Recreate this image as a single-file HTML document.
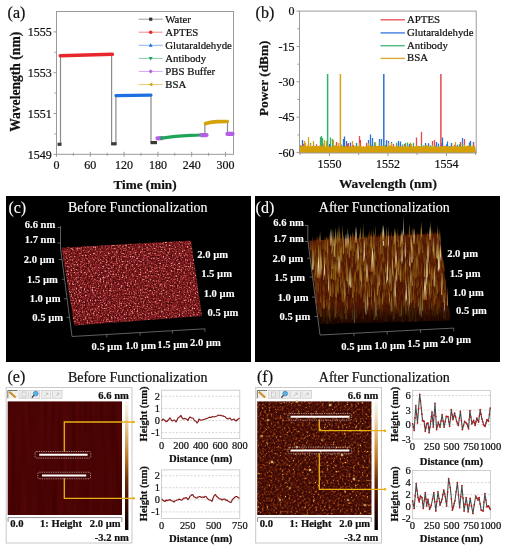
<!DOCTYPE html>
<html><head><meta charset="utf-8"><title>Figure</title>
<style>html,body{margin:0;padding:0;background:#fff;width:505px;height:550px;overflow:hidden}
svg text{font-family:'Liberation Serif',serif;stroke:#111;stroke-width:0.22px} svg text[fill="#fff"]{stroke:#fff;stroke-width:0.1px}</style></head>
<body><svg width="505" height="550" viewBox="0 0 505 550" style="display:block;font-family:'Liberation Serif',serif" fill="#111"><defs>
<linearGradient id="spk" x1="0" y1="0" x2="0" y2="1"><stop offset="0" stop-color="#f4f0e4"/><stop offset="0.45" stop-color="#dcc890"/><stop offset="1" stop-color="#8a4a10"/></linearGradient>
<linearGradient id="dbase" x1="0" y1="0" x2="0" y2="1"><stop offset="0" stop-color="#5a1e06"/><stop offset="0.8" stop-color="#4a1604"/><stop offset="1" stop-color="#1a0500"/></linearGradient>
<linearGradient id="cbar" x1="0" y1="0" x2="0" y2="1">
<stop offset="0" stop-color="#fbf8f0"/><stop offset="0.1" stop-color="#f2e6d0"/><stop offset="0.3" stop-color="#d8a860"/><stop offset="0.45" stop-color="#b87020"/>
<stop offset="0.62" stop-color="#6a2a08"/><stop offset="0.8" stop-color="#3a0a04"/><stop offset="1" stop-color="#000"/></linearGradient>
<filter id="fc" x="0" y="0" width="1" height="1" color-interpolation-filters="sRGB">
<feTurbulence type="fractalNoise" baseFrequency="0.62" numOctaves="3" seed="3" result="n0"/>
<feGaussianBlur in="n0" stdDeviation="0.3" result="n"/>
<feColorMatrix in="n" type="matrix" values="1.6 0 0 0 -0.3  1.6 0 0 0 -0.3  1.6 0 0 0 -0.3  0 0 0 0 1" result="g"/>
<feComponentTransfer in="g" result="c">
<feFuncR type="table" tableValues="0.2 0.31 0.43 0.55 0.72 0.9"/>
<feFuncG type="table" tableValues="0.03 0.05 0.08 0.14 0.32 0.6"/>
<feFuncB type="table" tableValues="0.04 0.06 0.09 0.15 0.33 0.6"/>
<feFuncA type="linear" slope="0" intercept="1"/>
</feComponentTransfer>
<feComposite in="c" in2="SourceGraphic" operator="in"/>
</filter>
<filter id="fd" x="0" y="0" width="1" height="1" color-interpolation-filters="sRGB">
<feTurbulence type="fractalNoise" baseFrequency="0.45 0.05" numOctaves="2" seed="5" result="n"/>
<feColorMatrix in="n" type="matrix" values="2.2 0 0 0 -0.6  2.2 0 0 0 -0.6  2.2 0 0 0 -0.6  0 0 0 0 1" result="g"/>
<feComponentTransfer in="g" result="c">
<feFuncR type="table" tableValues="0.22 0.30 0.40 0.50 0.66 0.9"/>
<feFuncG type="table" tableValues="0.05 0.09 0.16 0.26 0.45 0.8"/>
<feFuncB type="table" tableValues="0.01 0.02 0.03 0.05 0.15 0.5"/>
<feFuncA type="linear" slope="0" intercept="1"/>
</feComponentTransfer>
<feComposite in="c" in2="SourceGraphic" operator="in"/>
</filter>
<filter id="fe" x="0" y="0" width="1" height="1" color-interpolation-filters="sRGB">
<feTurbulence type="fractalNoise" baseFrequency="0.25 0.015" numOctaves="1" seed="2" result="n"/>
<feColorMatrix in="n" type="matrix" values="1 0 0 0 0  1 0 0 0 0  1 0 0 0 0  0 0 0 0 1" result="g"/>
<feComponentTransfer in="g" result="c">
<feFuncR type="table" tableValues="0.23 0.29 0.35"/>
<feFuncG type="table" tableValues="0.0 0.015 0.035"/>
<feFuncB type="table" tableValues="0.0 0.015 0.035"/>
<feFuncA type="linear" slope="0" intercept="1"/>
</feComponentTransfer>
<feComposite in="c" in2="SourceGraphic" operator="in"/>
</filter>
<filter id="ff" x="0" y="0" width="1" height="1" color-interpolation-filters="sRGB">
<feTurbulence type="fractalNoise" baseFrequency="0.45" numOctaves="2" seed="9" result="n"/>
<feColorMatrix in="n" type="matrix" values="1.4 0 0 0 -0.2  1.4 0 0 0 -0.2  1.4 0 0 0 -0.2  0 0 0 0 1" result="g"/>
<feComponentTransfer in="g" result="c">
<feFuncR type="table" tableValues="0.14 0.19 0.24 0.29 0.39 0.62 0.95"/>
<feFuncG type="table" tableValues="0.02 0.03 0.04 0.06 0.12 0.3 0.8"/>
<feFuncB type="table" tableValues="0.0 0.01 0.02 0.03 0.04 0.08 0.4"/>
<feFuncA type="linear" slope="0" intercept="1"/>
</feComponentTransfer>
<feComposite in="c" in2="SourceGraphic" operator="in"/>
</filter>
</defs><text x="7.6" y="18" font-size="16">(a)</text>
<rect x="56.5" y="11.5" width="177.0" height="142.8" fill="none" stroke="#9a9a9a" stroke-width="1"/>
<line x1="53.5" y1="154.3" x2="56.5" y2="154.3" stroke="#9a9a9a"/>
<text x="51.8" y="158.5" font-size="12" text-anchor="end">1549</text>
<line x1="53.5" y1="113.5" x2="56.5" y2="113.5" stroke="#9a9a9a"/>
<text x="51.8" y="117.7" font-size="12" text-anchor="end">1551</text>
<line x1="53.5" y1="72.7" x2="56.5" y2="72.7" stroke="#9a9a9a"/>
<text x="51.8" y="76.9" font-size="12" text-anchor="end">1553</text>
<line x1="53.5" y1="31.9" x2="56.5" y2="31.9" stroke="#9a9a9a"/>
<text x="51.8" y="36.1" font-size="12" text-anchor="end">1555</text>
<line x1="54.5" y1="133.9" x2="56.5" y2="133.9" stroke="#9a9a9a"/>
<line x1="54.5" y1="93.1" x2="56.5" y2="93.1" stroke="#9a9a9a"/>
<line x1="54.5" y1="52.3" x2="56.5" y2="52.3" stroke="#9a9a9a"/>
<line x1="56.5" y1="151.8" x2="56.5" y2="156.8" stroke="#9a9a9a"/>
<text x="56.5" y="168.6" font-size="12" text-anchor="middle">0</text>
<line x1="90.3" y1="151.8" x2="90.3" y2="156.8" stroke="#9a9a9a"/>
<text x="90.3" y="168.6" font-size="12" text-anchor="middle">60</text>
<line x1="124.1" y1="151.8" x2="124.1" y2="156.8" stroke="#9a9a9a"/>
<text x="124.1" y="168.6" font-size="12" text-anchor="middle">120</text>
<line x1="157.9" y1="151.8" x2="157.9" y2="156.8" stroke="#9a9a9a"/>
<text x="157.9" y="168.6" font-size="12" text-anchor="middle">180</text>
<line x1="191.7" y1="151.8" x2="191.7" y2="156.8" stroke="#9a9a9a"/>
<text x="191.7" y="168.6" font-size="12" text-anchor="middle">240</text>
<line x1="225.5" y1="151.8" x2="225.5" y2="156.8" stroke="#9a9a9a"/>
<text x="225.5" y="168.6" font-size="12" text-anchor="middle">300</text>
<line x1="73.4" y1="152.8" x2="73.4" y2="155.8" stroke="#9a9a9a"/>
<line x1="107.2" y1="152.8" x2="107.2" y2="155.8" stroke="#9a9a9a"/>
<line x1="141.0" y1="152.8" x2="141.0" y2="155.8" stroke="#9a9a9a"/>
<line x1="174.8" y1="152.8" x2="174.8" y2="155.8" stroke="#9a9a9a"/>
<line x1="208.6" y1="152.8" x2="208.6" y2="155.8" stroke="#9a9a9a"/>
<text x="145" y="188.6" font-size="13.2" font-weight="bold" text-anchor="middle">Time (min)</text>
<text transform="translate(19.6,81.8) rotate(-90)" font-size="13.6" font-weight="bold" text-anchor="middle">Wavelength (nm)</text>
<line x1="60.5" y1="55.6" x2="60.5" y2="144.3" stroke="#8a8a8a" stroke-width="1.2"/>
<line x1="111.6" y1="54.6" x2="111.6" y2="143.8" stroke="#8a8a8a" stroke-width="1.2"/>
<line x1="115.9" y1="95.5" x2="115.9" y2="143.8" stroke="#8a8a8a" stroke-width="1.2"/>
<line x1="151.0" y1="95.2" x2="151.0" y2="142.6" stroke="#8a8a8a" stroke-width="1.2"/>
<line x1="204.9" y1="135.2" x2="204.9" y2="123.0" stroke="#8a8a8a" stroke-width="1.2"/>
<line x1="227.5" y1="121.5" x2="227.5" y2="133.9" stroke="#8a8a8a" stroke-width="1.2"/>
<rect x="57.6" y="142.70000000000002" width="3.8999999999999986" height="3.2" fill="#3a3a3a"/>
<rect x="111.1" y="142.20000000000002" width="5.5" height="3.2" fill="#3a3a3a"/>
<rect x="150.5" y="141.0" width="6.5" height="3.2" fill="#3a3a3a"/>
<path d="M60.2 55.8 L112.4 54.3" stroke="#e8262b" stroke-width="3.4" stroke-linecap="round"/>
<path d="M115.9 95.6 L151 95.1" stroke="#1b6fe0" stroke-width="3.2" stroke-linecap="round"/>
<path d="M157.5 138.3 L161.5 138.2" stroke="#b45ee6" stroke-width="4.3" stroke-linecap="round"/>
<path d="M161.5 138.2 Q175 136 190 135.4 T202 135" fill="none" stroke="#1fa55a" stroke-width="3.2" stroke-linecap="round"/>
<path d="M201.5 135.1 L206.5 135.1" stroke="#b45ee6" stroke-width="4.3" stroke-linecap="round"/>
<path d="M205.5 123.6 Q212 121.8 218 121.6 L227.3 121.5" fill="none" stroke="#d6a20c" stroke-width="3.6" stroke-linecap="round"/>
<path d="M227.5 133.9 L232.5 133.9" stroke="#b45ee6" stroke-width="4.3" stroke-linecap="round"/>
<line x1="138.7" y1="19.2" x2="162.7" y2="19.2" stroke="#9a9a9a" stroke-width="1"/>
<rect x="149.1" y="17.599999999999998" width="3.2" height="3.2" fill="#333"/>
<text x="165.3" y="22.9" font-size="10.8">Water</text>
<line x1="138.7" y1="32.2" x2="162.7" y2="32.2" stroke="#f08a8a" stroke-width="1"/>
<circle cx="150.7" cy="32.2" r="1.8" fill="#e8262b"/>
<text x="165.3" y="35.9" font-size="10.8">APTES</text>
<line x1="138.7" y1="45.3" x2="162.7" y2="45.3" stroke="#8ab4f0" stroke-width="1"/>
<path d="M148.7 46.8 L152.7 46.8 L150.7 43.3 Z" fill="#1b6fe0"/>
<text x="165.3" y="49.0" font-size="10.8">Glutaraldehyde</text>
<line x1="138.7" y1="58.4" x2="162.7" y2="58.4" stroke="#88d0a8" stroke-width="1"/>
<path d="M148.7 56.9 L152.7 56.9 L150.7 60.4 Z" fill="#1fa55a"/>
<text x="165.3" y="62.1" font-size="10.8">Antibody</text>
<line x1="138.7" y1="71.4" x2="162.7" y2="71.4" stroke="#d4a8f0" stroke-width="1"/>
<path d="M150.7 69.2 L152.7 71.4 L150.7 73.60000000000001 L148.7 71.4 Z" fill="#b45ee6"/>
<text x="165.3" y="75.1" font-size="10.8">PBS Buffer</text>
<line x1="138.7" y1="84.6" x2="162.7" y2="84.6" stroke="#ecc870" stroke-width="1"/>
<path d="M148.7 84.6 L152.29999999999998 82.6 L152.29999999999998 86.6 Z" fill="#d6a20c"/>
<text x="165.3" y="88.3" font-size="10.8">BSA</text>
<text x="255.6" y="18" font-size="16">(b)</text>
<line x1="302.5" y1="153.0" x2="302.5" y2="140.0" stroke="#2b6fd6" stroke-width="1.3"/>
<line x1="304.5" y1="153.0" x2="304.5" y2="141.0" stroke="#d8a21a" stroke-width="1.3"/>
<line x1="308.5" y1="153.0" x2="308.5" y2="137.0" stroke="#d8a21a" stroke-width="1.3"/>
<line x1="310.5" y1="153.0" x2="310.5" y2="143.0" stroke="#35b06a" stroke-width="1.3"/>
<line x1="313.5" y1="153.0" x2="313.5" y2="141.0" stroke="#d8a21a" stroke-width="1.3"/>
<line x1="320.5" y1="153.0" x2="320.5" y2="137.0" stroke="#35b06a" stroke-width="1.3"/>
<line x1="321.5" y1="153.0" x2="321.5" y2="136.0" stroke="#35b06a" stroke-width="1.3"/>
<line x1="322.5" y1="153.0" x2="322.5" y2="138.0" stroke="#35b06a" stroke-width="1.3"/>
<line x1="324.5" y1="153.0" x2="324.5" y2="140.0" stroke="#d8a21a" stroke-width="1.3"/>
<line x1="326.5" y1="153.0" x2="326.5" y2="141.0" stroke="#d8a21a" stroke-width="1.3"/>
<line x1="330.5" y1="153.0" x2="330.5" y2="137.5" stroke="#35b06a" stroke-width="1.3"/>
<line x1="332.5" y1="153.0" x2="332.5" y2="139.0" stroke="#35b06a" stroke-width="1.3"/>
<line x1="333.5" y1="153.0" x2="333.5" y2="140.0" stroke="#d8a21a" stroke-width="1.3"/>
<line x1="336.5" y1="153.0" x2="336.5" y2="142.0" stroke="#e6484c" stroke-width="1.3"/>
<line x1="338.5" y1="153.0" x2="338.5" y2="143.0" stroke="#e6484c" stroke-width="1.3"/>
<line x1="343.5" y1="153.0" x2="343.5" y2="139.0" stroke="#2b6fd6" stroke-width="1.3"/>
<line x1="344.5" y1="153.0" x2="344.5" y2="136.5" stroke="#2b6fd6" stroke-width="1.3"/>
<line x1="346.5" y1="153.0" x2="346.5" y2="141.0" stroke="#2b6fd6" stroke-width="1.3"/>
<line x1="348.5" y1="153.0" x2="348.5" y2="143.0" stroke="#e6484c" stroke-width="1.3"/>
<line x1="352.5" y1="153.0" x2="352.5" y2="141.0" stroke="#d8a21a" stroke-width="1.3"/>
<line x1="356.5" y1="153.0" x2="356.5" y2="143.0" stroke="#2b6fd6" stroke-width="1.3"/>
<line x1="359.5" y1="153.0" x2="359.5" y2="136.0" stroke="#e6484c" stroke-width="1.3"/>
<line x1="360.5" y1="153.0" x2="360.5" y2="140.0" stroke="#e6484c" stroke-width="1.3"/>
<line x1="368.5" y1="153.0" x2="368.5" y2="140.0" stroke="#2b6fd6" stroke-width="1.3"/>
<line x1="370.5" y1="153.0" x2="370.5" y2="134.5" stroke="#2b6fd6" stroke-width="1.3"/>
<line x1="372.5" y1="153.0" x2="372.5" y2="138.0" stroke="#2b6fd6" stroke-width="1.3"/>
<line x1="375.5" y1="153.0" x2="375.5" y2="142.0" stroke="#d8a21a" stroke-width="1.3"/>
<line x1="379.5" y1="153.0" x2="379.5" y2="139.0" stroke="#2b6fd6" stroke-width="1.3"/>
<line x1="381.5" y1="153.0" x2="381.5" y2="139.0" stroke="#2b6fd6" stroke-width="1.3"/>
<line x1="386.5" y1="153.0" x2="386.5" y2="140.0" stroke="#2b6fd6" stroke-width="1.3"/>
<line x1="388.5" y1="153.0" x2="388.5" y2="141.0" stroke="#2b6fd6" stroke-width="1.3"/>
<line x1="391.5" y1="153.0" x2="391.5" y2="142.0" stroke="#2b6fd6" stroke-width="1.3"/>
<line x1="398.5" y1="153.0" x2="398.5" y2="141.0" stroke="#2b6fd6" stroke-width="1.3"/>
<line x1="400.5" y1="153.0" x2="400.5" y2="141.5" stroke="#2b6fd6" stroke-width="1.3"/>
<line x1="405.5" y1="153.0" x2="405.5" y2="143.0" stroke="#35b06a" stroke-width="1.3"/>
<line x1="410.5" y1="153.0" x2="410.5" y2="142.5" stroke="#d8a21a" stroke-width="1.3"/>
<line x1="416.5" y1="153.0" x2="416.5" y2="137.5" stroke="#e6484c" stroke-width="1.3"/>
<line x1="421.5" y1="153.0" x2="421.5" y2="131.8" stroke="#e6484c" stroke-width="1.3"/>
<line x1="425.5" y1="153.0" x2="425.5" y2="143.0" stroke="#2b6fd6" stroke-width="1.3"/>
<line x1="432.5" y1="153.0" x2="432.5" y2="141.0" stroke="#e6484c" stroke-width="1.3"/>
<line x1="434.5" y1="153.0" x2="434.5" y2="140.0" stroke="#e6484c" stroke-width="1.3"/>
<line x1="436.5" y1="153.0" x2="436.5" y2="142.0" stroke="#2b6fd6" stroke-width="1.3"/>
<line x1="442.5" y1="153.0" x2="442.5" y2="137.5" stroke="#2b6fd6" stroke-width="1.3"/>
<line x1="447.5" y1="153.0" x2="447.5" y2="141.5" stroke="#2b6fd6" stroke-width="1.3"/>
<line x1="451.5" y1="153.0" x2="451.5" y2="143.0" stroke="#d8a21a" stroke-width="1.3"/>
<line x1="455.5" y1="153.0" x2="455.5" y2="142.0" stroke="#d8a21a" stroke-width="1.3"/>
<line x1="460.5" y1="153.0" x2="460.5" y2="142.0" stroke="#e6484c" stroke-width="1.3"/>
<line x1="462.5" y1="153.0" x2="462.5" y2="138.0" stroke="#2b6fd6" stroke-width="1.3"/>
<line x1="464.5" y1="153.0" x2="464.5" y2="139.0" stroke="#e6484c" stroke-width="1.3"/>
<line x1="470.5" y1="153.0" x2="470.5" y2="141.0" stroke="#2b6fd6" stroke-width="1.3"/>
<line x1="473.5" y1="153.0" x2="473.5" y2="142.0" stroke="#2b6fd6" stroke-width="1.3"/>
<line x1="300.5" y1="153.0" x2="300.5" y2="145.2" stroke="#2b6fd6" stroke-width="1.3"/>
<line x1="303.5" y1="153.0" x2="303.5" y2="143.9" stroke="#e6484c" stroke-width="1.3"/>
<line x1="305.5" y1="153.0" x2="305.5" y2="142.8" stroke="#d8a21a" stroke-width="1.3"/>
<line x1="307.5" y1="153.0" x2="307.5" y2="145.2" stroke="#d8a21a" stroke-width="1.3"/>
<line x1="310.5" y1="153.0" x2="310.5" y2="144.1" stroke="#d8a21a" stroke-width="1.3"/>
<line x1="313.5" y1="153.0" x2="313.5" y2="145.5" stroke="#2b6fd6" stroke-width="1.3"/>
<line x1="316.5" y1="153.0" x2="316.5" y2="144.2" stroke="#e6484c" stroke-width="1.3"/>
<line x1="319.5" y1="153.0" x2="319.5" y2="145.8" stroke="#e6484c" stroke-width="1.3"/>
<line x1="321.5" y1="153.0" x2="321.5" y2="145.9" stroke="#35b06a" stroke-width="1.3"/>
<line x1="323.5" y1="153.0" x2="323.5" y2="143.5" stroke="#d8a21a" stroke-width="1.3"/>
<line x1="326.5" y1="153.0" x2="326.5" y2="142.8" stroke="#d8a21a" stroke-width="1.3"/>
<line x1="329.5" y1="153.0" x2="329.5" y2="144.0" stroke="#2b6fd6" stroke-width="1.3"/>
<line x1="333.5" y1="153.0" x2="333.5" y2="145.7" stroke="#2b6fd6" stroke-width="1.3"/>
<line x1="335.5" y1="153.0" x2="335.5" y2="145.1" stroke="#d8a21a" stroke-width="1.3"/>
<line x1="338.5" y1="153.0" x2="338.5" y2="143.0" stroke="#d8a21a" stroke-width="1.3"/>
<line x1="341.5" y1="153.0" x2="341.5" y2="144.6" stroke="#35b06a" stroke-width="1.3"/>
<line x1="343.5" y1="153.0" x2="343.5" y2="144.6" stroke="#2b6fd6" stroke-width="1.3"/>
<line x1="347.5" y1="153.0" x2="347.5" y2="143.6" stroke="#e6484c" stroke-width="1.3"/>
<line x1="350.5" y1="153.0" x2="350.5" y2="142.5" stroke="#2b6fd6" stroke-width="1.3"/>
<line x1="353.5" y1="153.0" x2="353.5" y2="144.9" stroke="#e6484c" stroke-width="1.3"/>
<line x1="356.5" y1="153.0" x2="356.5" y2="145.3" stroke="#35b06a" stroke-width="1.3"/>
<line x1="358.5" y1="153.0" x2="358.5" y2="145.8" stroke="#d8a21a" stroke-width="1.3"/>
<line x1="359.5" y1="153.0" x2="359.5" y2="143.2" stroke="#d8a21a" stroke-width="1.3"/>
<line x1="363.5" y1="153.0" x2="363.5" y2="145.9" stroke="#d8a21a" stroke-width="1.3"/>
<line x1="366.5" y1="153.0" x2="366.5" y2="142.9" stroke="#e6484c" stroke-width="1.3"/>
<line x1="368.5" y1="153.0" x2="368.5" y2="143.3" stroke="#d8a21a" stroke-width="1.3"/>
<line x1="371.5" y1="153.0" x2="371.5" y2="144.8" stroke="#35b06a" stroke-width="1.3"/>
<line x1="374.5" y1="153.0" x2="374.5" y2="142.5" stroke="#35b06a" stroke-width="1.3"/>
<line x1="375.5" y1="153.0" x2="375.5" y2="145.6" stroke="#e6484c" stroke-width="1.3"/>
<line x1="379.5" y1="153.0" x2="379.5" y2="142.6" stroke="#35b06a" stroke-width="1.3"/>
<line x1="381.5" y1="153.0" x2="381.5" y2="145.5" stroke="#e6484c" stroke-width="1.3"/>
<line x1="385.5" y1="153.0" x2="385.5" y2="144.8" stroke="#35b06a" stroke-width="1.3"/>
<line x1="388.5" y1="153.0" x2="388.5" y2="142.9" stroke="#d8a21a" stroke-width="1.3"/>
<line x1="391.5" y1="153.0" x2="391.5" y2="143.0" stroke="#d8a21a" stroke-width="1.3"/>
<line x1="393.5" y1="153.0" x2="393.5" y2="143.9" stroke="#e6484c" stroke-width="1.3"/>
<line x1="396.5" y1="153.0" x2="396.5" y2="142.7" stroke="#35b06a" stroke-width="1.3"/>
<line x1="398.5" y1="153.0" x2="398.5" y2="143.5" stroke="#2b6fd6" stroke-width="1.3"/>
<line x1="402.5" y1="153.0" x2="402.5" y2="144.5" stroke="#35b06a" stroke-width="1.3"/>
<line x1="404.5" y1="153.0" x2="404.5" y2="144.1" stroke="#e6484c" stroke-width="1.3"/>
<line x1="407.5" y1="153.0" x2="407.5" y2="142.5" stroke="#35b06a" stroke-width="1.3"/>
<line x1="409.5" y1="153.0" x2="409.5" y2="143.8" stroke="#2b6fd6" stroke-width="1.3"/>
<line x1="411.5" y1="153.0" x2="411.5" y2="143.8" stroke="#d8a21a" stroke-width="1.3"/>
<line x1="413.5" y1="153.0" x2="413.5" y2="142.8" stroke="#35b06a" stroke-width="1.3"/>
<line x1="416.5" y1="153.0" x2="416.5" y2="145.9" stroke="#e6484c" stroke-width="1.3"/>
<line x1="419.5" y1="153.0" x2="419.5" y2="145.9" stroke="#35b06a" stroke-width="1.3"/>
<line x1="421.5" y1="153.0" x2="421.5" y2="144.4" stroke="#35b06a" stroke-width="1.3"/>
<line x1="423.5" y1="153.0" x2="423.5" y2="145.4" stroke="#35b06a" stroke-width="1.3"/>
<line x1="426.5" y1="153.0" x2="426.5" y2="145.1" stroke="#d8a21a" stroke-width="1.3"/>
<line x1="428.5" y1="153.0" x2="428.5" y2="143.2" stroke="#2b6fd6" stroke-width="1.3"/>
<line x1="430.5" y1="153.0" x2="430.5" y2="145.2" stroke="#35b06a" stroke-width="1.3"/>
<line x1="432.5" y1="153.0" x2="432.5" y2="145.3" stroke="#d8a21a" stroke-width="1.3"/>
<line x1="435.5" y1="153.0" x2="435.5" y2="145.7" stroke="#35b06a" stroke-width="1.3"/>
<line x1="438.5" y1="153.0" x2="438.5" y2="143.6" stroke="#2b6fd6" stroke-width="1.3"/>
<line x1="441.5" y1="153.0" x2="441.5" y2="143.0" stroke="#2b6fd6" stroke-width="1.3"/>
<line x1="442.5" y1="153.0" x2="442.5" y2="143.4" stroke="#2b6fd6" stroke-width="1.3"/>
<line x1="446.5" y1="153.0" x2="446.5" y2="144.4" stroke="#2b6fd6" stroke-width="1.3"/>
<line x1="449.5" y1="153.0" x2="449.5" y2="145.9" stroke="#2b6fd6" stroke-width="1.3"/>
<line x1="451.5" y1="153.0" x2="451.5" y2="143.1" stroke="#2b6fd6" stroke-width="1.3"/>
<line x1="454.5" y1="153.0" x2="454.5" y2="144.8" stroke="#e6484c" stroke-width="1.3"/>
<line x1="457.5" y1="153.0" x2="457.5" y2="144.8" stroke="#2b6fd6" stroke-width="1.3"/>
<line x1="459.5" y1="153.0" x2="459.5" y2="144.2" stroke="#35b06a" stroke-width="1.3"/>
<line x1="462.5" y1="153.0" x2="462.5" y2="143.8" stroke="#35b06a" stroke-width="1.3"/>
<line x1="464.5" y1="153.0" x2="464.5" y2="144.6" stroke="#d8a21a" stroke-width="1.3"/>
<line x1="466.5" y1="153.0" x2="466.5" y2="146.0" stroke="#d8a21a" stroke-width="1.3"/>
<line x1="469.5" y1="153.0" x2="469.5" y2="142.5" stroke="#2b6fd6" stroke-width="1.3"/>
<line x1="470.5" y1="153.0" x2="470.5" y2="144.4" stroke="#35b06a" stroke-width="1.3"/>
<line x1="473.5" y1="153.0" x2="473.5" y2="142.9" stroke="#e6484c" stroke-width="1.3"/>
<line x1="327.6" y1="153.0" x2="327.6" y2="74" stroke="#35b06a" stroke-width="1.5"/>
<line x1="340.4" y1="153.0" x2="340.4" y2="74" stroke="#d8a21a" stroke-width="1.5"/>
<line x1="383.8" y1="153.0" x2="383.8" y2="74" stroke="#2b6fd6" stroke-width="1.5"/>
<line x1="440.9" y1="153.0" x2="440.9" y2="74" stroke="#e6484c" stroke-width="1.5"/>
<path d="M299.5 153 L299.5 147.0 L301.0 145.8 L302.5 145.9 L304.0 145.6 L305.5 146.7 L307.0 146.3 L308.5 145.9 L310.0 146.8 L311.5 146.2 L313.0 145.7 L314.5 146.3 L316.0 145.8 L317.5 146.3 L319.0 145.9 L320.5 145.6 L322.0 146.4 L323.5 145.7 L325.0 146.9 L326.5 145.8 L328.0 145.8 L329.5 147.0 L331.0 146.4 L332.5 146.7 L334.0 145.7 L335.5 145.9 L337.0 145.8 L338.5 146.8 L340.0 145.8 L341.5 145.9 L343.0 146.0 L344.5 146.8 L346.0 145.8 L347.5 146.9 L349.0 146.3 L350.5 146.4 L352.0 146.2 L353.5 146.7 L355.0 145.9 L356.5 146.5 L358.0 146.3 L359.5 145.7 L361.0 146.1 L362.5 146.7 L364.0 146.8 L365.5 146.7 L367.0 145.7 L368.5 145.7 L370.0 146.3 L371.5 145.6 L373.0 146.6 L374.5 146.3 L376.0 146.3 L377.5 145.8 L379.0 145.7 L380.5 146.1 L382.0 146.1 L383.5 146.0 L385.0 146.0 L386.5 147.0 L388.0 146.2 L389.5 145.8 L391.0 145.6 L392.5 146.6 L394.0 146.7 L395.5 146.4 L397.0 145.7 L398.5 146.2 L400.0 146.5 L401.5 146.4 L403.0 146.5 L404.5 145.7 L406.0 146.8 L407.5 145.7 L409.0 146.5 L410.5 146.7 L412.0 146.0 L413.5 146.9 L415.0 146.2 L416.5 145.6 L418.0 145.9 L419.5 146.0 L421.0 146.4 L422.5 146.7 L424.0 145.9 L425.5 145.8 L427.0 145.6 L428.5 146.1 L430.0 147.0 L431.5 146.4 L433.0 146.8 L434.5 145.8 L436.0 146.6 L437.5 146.9 L439.0 146.6 L440.5 146.8 L442.0 146.3 L443.5 146.1 L445.0 145.8 L446.5 146.0 L448.0 146.3 L449.5 146.7 L451.0 146.6 L452.5 146.3 L454.0 145.9 L455.5 146.1 L457.0 146.3 L458.5 146.4 L460.0 146.5 L461.5 146.1 L463.0 146.7 L464.5 146.1 L466.0 146.8 L467.5 145.6 L469.0 145.8 L470.5 146.3 L472.0 146.6 L473.5 146.0 L475.0 146.0 L476.2 153 Z" fill="#d59f06"/>
<rect x="299.5" y="11.1" width="176.7" height="141.9" fill="none" stroke="#9a9a9a" stroke-width="1"/>
<line x1="296.5" y1="11.1" x2="299.5" y2="11.1" stroke="#9a9a9a"/>
<text x="294.6" y="15.3" font-size="12" text-anchor="end">0</text>
<line x1="296.5" y1="46.5" x2="299.5" y2="46.5" stroke="#9a9a9a"/>
<text x="294.6" y="50.7" font-size="12" text-anchor="end">-15</text>
<line x1="296.5" y1="81.8" x2="299.5" y2="81.8" stroke="#9a9a9a"/>
<text x="294.6" y="86.0" font-size="12" text-anchor="end">-30</text>
<line x1="296.5" y1="117.2" x2="299.5" y2="117.2" stroke="#9a9a9a"/>
<text x="294.6" y="121.4" font-size="12" text-anchor="end">-45</text>
<line x1="296.5" y1="152.6" x2="299.5" y2="152.6" stroke="#9a9a9a"/>
<text x="294.6" y="156.8" font-size="12" text-anchor="end">-60</text>
<line x1="297.5" y1="28.8" x2="299.5" y2="28.8" stroke="#9a9a9a"/>
<line x1="297.5" y1="64.2" x2="299.5" y2="64.2" stroke="#9a9a9a"/>
<line x1="297.5" y1="99.5" x2="299.5" y2="99.5" stroke="#9a9a9a"/>
<line x1="297.5" y1="134.9" x2="299.5" y2="134.9" stroke="#9a9a9a"/>
<line x1="329.4" y1="153.0" x2="329.4" y2="156.0" stroke="#9a9a9a"/>
<text x="329.4" y="168" font-size="12" text-anchor="middle">1550</text>
<line x1="387.9" y1="153.0" x2="387.9" y2="156.0" stroke="#9a9a9a"/>
<text x="387.9" y="168" font-size="12" text-anchor="middle">1552</text>
<line x1="446.4" y1="153.0" x2="446.4" y2="156.0" stroke="#9a9a9a"/>
<text x="446.4" y="168" font-size="12" text-anchor="middle">1554</text>
<line x1="300.1" y1="153.0" x2="300.1" y2="155.0" stroke="#9a9a9a"/>
<line x1="358.6" y1="153.0" x2="358.6" y2="155.0" stroke="#9a9a9a"/>
<line x1="417.1" y1="153.0" x2="417.1" y2="155.0" stroke="#9a9a9a"/>
<line x1="475.6" y1="153.0" x2="475.6" y2="155.0" stroke="#9a9a9a"/>
<text x="387.9" y="188" font-size="13.3" font-weight="bold" text-anchor="middle">Wavelength (nm)</text>
<text transform="translate(268.4,78.3) rotate(-90)" font-size="13.3" font-weight="bold" text-anchor="middle">Power (dBm)</text>
<line x1="380.5" y1="19.8" x2="404.9" y2="19.8" stroke="#ee5a5e" stroke-width="1.4"/>
<text x="407" y="22.8" font-size="10.8">APTES</text>
<line x1="380.5" y1="32.9" x2="404.9" y2="32.9" stroke="#3f7ee0" stroke-width="1.4"/>
<text x="407" y="35.9" font-size="10.8">Glutaraldehyde</text>
<line x1="380.5" y1="45.7" x2="404.9" y2="45.7" stroke="#4cbb80" stroke-width="1.4"/>
<text x="407" y="48.7" font-size="10.8">Antibody</text>
<line x1="380.5" y1="58.4" x2="404.9" y2="58.4" stroke="#e0a838" stroke-width="1.4"/>
<text x="407" y="61.4" font-size="10.8">BSA</text>
<rect x="6" y="196" width="245" height="166" fill="#000"/>
<rect x="255" y="196" width="245" height="166" fill="#000"/>
<text x="8.4" y="212.6" font-size="16" fill="#fff">(c)</text>
<text x="68" y="212.3" font-size="14" fill="#fff">Before Functionalization</text>
<text x="255.6" y="212.6" font-size="16" fill="#fff">(d)</text>
<text x="318.8" y="212.3" font-size="14" fill="#fff">After Functionalization</text>
<polygon points="61.5,247.8 191,240.4 202,316.1 74.3,325.6" fill="#8a1e1e" filter="url(#fc)"/>
<path d="M60.5 226 L60.5 248 L72 336.5 L205 328.8" stroke="#6a6a6a" stroke-width="0.9" fill="none"/>
<path d="M57.5 227.5 L60.5 227.5 M57.5 243 L60.5 243 M59.0 259.5 L62.0 259.5 M61.6 279.2 L64.6 279.2 M64.1 298.8 L67.1 298.8 M66.5 317.3 L69.5 317.3 M106.8 334.5 L106.8 337.5 M140.1 332.6 L140.1 335.6 M172.4 330.7 L172.4 333.7 M205.0 328.8 L205.0 331.8" stroke="#6a6a6a" stroke-width="0.9" fill="none"/>
<text x="55.3" y="228.0" font-size="10.6" font-weight="bold" fill="#fff" text-anchor="end">6.6 nm</text>
<text x="55.3" y="243.4" font-size="10.6" font-weight="bold" fill="#fff" text-anchor="end">1.7 nm</text>
<text x="54.6" y="262.9" font-size="10.6" font-weight="bold" fill="#fff" text-anchor="end">2.0 µm</text>
<text x="57.9" y="282.7" font-size="10.6" font-weight="bold" fill="#fff" text-anchor="end">1.5 µm</text>
<text x="60.5" y="302.3" font-size="10.6" font-weight="bold" fill="#fff" text-anchor="end">1.0 µm</text>
<text x="63.1" y="320.8" font-size="10.6" font-weight="bold" fill="#fff" text-anchor="end">0.5 µm</text>
<text x="228.1" y="257.8" font-size="10.6" font-weight="bold" fill="#fff" text-anchor="end">2.0 µm</text>
<text x="232" y="277.1" font-size="10.6" font-weight="bold" fill="#fff" text-anchor="end">1.5 µm</text>
<text x="234.5" y="296.9" font-size="10.6" font-weight="bold" fill="#fff" text-anchor="end">1.0 µm</text>
<text x="238.4" y="315.6" font-size="10.6" font-weight="bold" fill="#fff" text-anchor="end">0.5 µm</text>
<text x="122.3" y="350.4" font-size="10.6" font-weight="bold" fill="#fff" text-anchor="end">0.5 µm</text>
<text x="156" y="349.1" font-size="10.6" font-weight="bold" fill="#fff" text-anchor="end">1.0 µm</text>
<text x="188.2" y="347.8" font-size="10.6" font-weight="bold" fill="#fff" text-anchor="end">1.5 µm</text>
<text x="220.9" y="346.0" font-size="10.6" font-weight="bold" fill="#fff" text-anchor="end">2.0 µm</text>
<polygon points="308.9,240.8 439.6,233.4 450,320.5 319.3,324" fill="url(#dbase)"/>
<path d="M433.8 234.8L434.8 229.9L435.8 234.8Z" fill="#4c1504"/>
<path d="M313.8 241.7L314.5 237.4L315.1 241.7Z" fill="#410f04"/>
<path d="M341.8 240.1L342.5 224.4L343.3 240.1Z" fill="#865814"/>
<path d="M361.8 239.0L362.4 233.6L362.9 239.0Z" fill="#4f1705"/>
<path d="M374.9 238.3L375.7 233.0L376.4 238.3Z" fill="#551a05"/>
<path d="M430.0 235.2L430.7 220.8L431.4 235.2Z" fill="#8c611a"/>
<path d="M316.5 241.6L317.5 236.8L318.5 241.6Z" fill="#4d1504"/>
<path d="M359.6 239.2L360.4 226.5L361.2 239.2Z" fill="#8d621a"/>
<path d="M394.7 237.2L395.8 232.0L396.8 237.2Z" fill="#652706"/>
<path d="M352.9 239.6L354.0 235.6L355.1 239.6Z" fill="#652706"/>
<path d="M362.5 239.2L363.1 223.4L363.8 239.2Z" fill="#977224"/>
<path d="M397.7 237.2L398.8 233.6L399.9 237.2Z" fill="#4f1705"/>
<path d="M431.4 235.3L432.2 229.8L432.9 235.3Z" fill="#6b2f08"/>
<path d="M437.4 235.0L438.3 230.9L439.1 235.0Z" fill="#410f04"/>
<path d="M396.8 237.3L397.7 233.2L398.6 237.3Z" fill="#451104"/>
<path d="M393.3 237.6L394.2 233.2L395.1 237.6Z" fill="#571b05"/>
<path d="M406.5 236.9L407.5 232.8L408.6 236.9Z" fill="#5d1f05"/>
<path d="M349.5 240.2L350.3 234.9L351.1 240.2Z" fill="#461204"/>
<path d="M404.8 237.0L405.7 232.0L406.5 237.0Z" fill="#4e1604"/>
<path d="M328.8 241.4L329.6 236.1L330.4 241.4Z" fill="#602105"/>
<path d="M328.7 241.4L329.3 236.1L329.8 241.4Z" fill="#471204"/>
<path d="M334.3 241.1L335.4 235.7L336.4 241.1Z" fill="#4f1705"/>
<path d="M408.5 237.0L409.4 223.3L410.4 237.0Z" fill="#804e0e"/>
<path d="M368.3 239.3L369.2 229.4L370.0 239.3Z" fill="#6b3008"/>
<path d="M412.0 236.9L412.8 228.8L413.6 236.9Z" fill="#581c05"/>
<path d="M419.9 236.5L420.9 226.8L421.9 236.5Z" fill="#632306"/>
<path d="M401.4 237.6L402.5 232.8L403.5 237.6Z" fill="#4a1404"/>
<path d="M336.2 241.2L337.3 236.0L338.3 241.2Z" fill="#5a1d05"/>
<path d="M336.4 241.3L337.2 236.0L338.0 241.3Z" fill="#4c1504"/>
<path d="M402.9 237.6L403.7 232.4L404.6 237.6Z" fill="#551a05"/>
<path d="M338.9 241.2L339.8 228.5L340.8 241.2Z" fill="#7c490d"/>
<path d="M424.9 236.3L426.0 231.8L427.0 236.3Z" fill="#461204"/>
<path d="M342.0 241.2L342.7 235.1L343.4 241.2Z" fill="#602105"/>
<path d="M330.6 241.9L331.7 235.4L332.8 241.9Z" fill="#612105"/>
<path d="M369.3 239.7L370.5 234.3L371.6 239.7Z" fill="#642606"/>
<path d="M401.3 238.0L402.2 232.4L403.1 238.0Z" fill="#642406"/>
<path d="M318.3 242.6L319.2 235.0L320.1 242.6Z" fill="#733b0a"/>
<path d="M373.2 239.6L374.1 232.8L374.9 239.6Z" fill="#733a0a"/>
<path d="M374.6 239.6L375.3 225.2L376.0 239.6Z" fill="#835311"/>
<path d="M411.2 237.6L412.3 226.9L413.4 237.6Z" fill="#6b2f08"/>
<path d="M350.8 241.0L351.6 235.3L352.5 241.0Z" fill="#541a05"/>
<path d="M319.2 242.8L320.1 231.2L321.0 242.8Z" fill="#8c611a"/>
<path d="M351.9 240.9L352.7 230.7L353.5 240.9Z" fill="#81500f"/>
<path d="M389.3 238.9L390.3 234.7L391.4 238.9Z" fill="#541905"/>
<path d="M324.8 242.6L325.4 237.1L326.0 242.6Z" fill="#602105"/>
<path d="M394.0 238.8L394.7 234.8L395.4 238.8Z" fill="#4f1705"/>
<path d="M380.9 239.5L381.6 229.2L382.3 239.5Z" fill="#6e3409"/>
<path d="M374.8 239.9L375.9 232.2L377.0 239.9Z" fill="#541a05"/>
<path d="M350.3 241.3L351.3 235.2L352.3 241.3Z" fill="#511805"/>
<path d="M415.6 237.7L416.6 233.9L417.6 237.7Z" fill="#4b1504"/>
<path d="M433.8 236.7L434.9 231.3L436.1 236.7Z" fill="#501705"/>
<path d="M377.8 239.9L378.6 233.1L379.5 239.9Z" fill="#602105"/>
<path d="M332.3 242.5L333.1 238.9L333.9 242.5Z" fill="#5d1f05"/>
<path d="M362.5 240.8L363.1 237.1L363.7 240.8Z" fill="#3d0c04"/>
<path d="M354.1 241.3L354.8 236.7L355.6 241.3Z" fill="#591d05"/>
<path d="M432.0 237.0L433.2 233.4L434.3 237.0Z" fill="#561b05"/>
<path d="M336.3 242.4L337.0 231.4L337.7 242.4Z" fill="#7e4b0d"/>
<path d="M381.9 239.8L382.9 233.6L383.8 239.8Z" fill="#561b05"/>
<path d="M352.2 241.5L353.3 232.9L354.4 241.5Z" fill="#632306"/>
<path d="M348.3 241.8L348.9 233.2L349.6 241.8Z" fill="#5d1f05"/>
<path d="M325.2 243.1L326.3 237.2L327.4 243.1Z" fill="#672907"/>
<path d="M393.6 239.3L394.6 227.3L395.6 239.3Z" fill="#8a5e18"/>
<path d="M308.1 244.1L309.2 240.2L310.4 244.1Z" fill="#441004"/>
<path d="M311.9 243.9L312.6 235.6L313.3 243.9Z" fill="#591c05"/>
<path d="M383.7 239.9L384.7 232.2L385.7 239.9Z" fill="#5a1d05"/>
<path d="M325.7 243.2L326.4 235.8L327.1 243.2Z" fill="#753e0b"/>
<path d="M330.9 243.0L332.0 237.6L333.1 243.0Z" fill="#4e1604"/>
<path d="M372.6 240.7L373.2 237.2L373.8 240.7Z" fill="#461204"/>
<path d="M416.1 238.3L416.9 232.2L417.7 238.3Z" fill="#4b1504"/>
<path d="M309.0 244.3L309.6 240.7L310.3 244.3Z" fill="#4e1604"/>
<path d="M370.2 240.9L371.4 234.0L372.5 240.9Z" fill="#632406"/>
<path d="M403.1 239.1L403.7 216.1L404.2 239.1Z" fill="#d7c8a0"/>
<path d="M369.3 241.1L369.9 232.1L370.4 241.1Z" fill="#652606"/>
<path d="M380.7 240.5L381.6 234.8L382.5 240.5Z" fill="#5c1e05"/>
<path d="M348.3 242.3L349.2 238.4L350.1 242.3Z" fill="#4e1604"/>
<path d="M437.0 237.4L437.7 224.5L438.3 237.4Z" fill="#967023"/>
<path d="M365.2 241.4L366.1 234.8L367.0 241.4Z" fill="#622306"/>
<path d="M395.9 239.8L396.8 236.1L397.8 239.8Z" fill="#5f2005"/>
<path d="M402.2 239.5L403.3 234.6L404.5 239.5Z" fill="#491304"/>
<path d="M383.3 240.7L384.2 230.4L385.1 240.7Z" fill="#7b480c"/>
<path d="M333.0 243.5L333.7 238.6L334.5 243.5Z" fill="#451104"/>
<path d="M388.2 240.5L389.2 234.0L390.1 240.5Z" fill="#5b1e05"/>
<path d="M320.0 244.3L320.8 240.2L321.5 244.3Z" fill="#501705"/>
<path d="M318.8 244.3L319.5 240.3L320.2 244.3Z" fill="#632306"/>
<path d="M311.6 244.8L312.4 236.5L313.2 244.8Z" fill="#571c05"/>
<path d="M376.9 241.2L377.9 236.1L379.0 241.2Z" fill="#642606"/>
<path d="M352.2 242.6L353.3 235.2L354.4 242.6Z" fill="#521905"/>
<path d="M329.2 244.0L330.0 237.9L330.8 244.0Z" fill="#5a1d05"/>
<path d="M351.8 242.7L352.6 233.5L353.4 242.7Z" fill="#723a0a"/>
<path d="M400.5 240.0L401.7 233.2L402.8 240.0Z" fill="#5c1f05"/>
<path d="M342.3 243.3L343.4 236.7L344.5 243.3Z" fill="#521905"/>
<path d="M325.4 244.2L326.5 240.4L327.5 244.2Z" fill="#400e04"/>
<path d="M336.4 243.6L337.3 230.7L338.1 243.6Z" fill="#835411"/>
<path d="M384.3 241.1L384.9 236.0L385.5 241.1Z" fill="#471204"/>
<path d="M349.3 243.0L350.3 235.3L351.3 243.0Z" fill="#6b2f08"/>
<path d="M438.2 238.1L439.3 232.2L440.3 238.1Z" fill="#4b1504"/>
<path d="M378.4 241.5L379.1 234.9L379.9 241.5Z" fill="#581c05"/>
<path d="M339.2 243.6L339.8 224.9L340.3 243.6Z" fill="#967023"/>
<path d="M398.9 240.3L399.9 236.5L400.9 240.3Z" fill="#451104"/>
<path d="M414.0 239.6L414.6 227.5L415.2 239.6Z" fill="#804f0e"/>
<path d="M427.3 238.9L428.0 233.0L428.7 238.9Z" fill="#521805"/>
<path d="M367.8 242.3L368.4 232.7L369.1 242.3Z" fill="#7a460c"/>
<path d="M347.6 243.4L348.7 235.2L349.9 243.4Z" fill="#662807"/>
<path d="M328.1 244.5L329.2 232.8L330.3 244.5Z" fill="#6d3208"/>
<path d="M342.0 243.8L342.8 231.5L343.5 243.8Z" fill="#8f661d"/>
<path d="M380.7 241.7L381.3 233.1L381.8 241.7Z" fill="#723a0a"/>
<path d="M352.9 243.3L353.9 238.0L354.9 243.3Z" fill="#602105"/>
<path d="M336.5 244.3L337.6 233.6L338.6 244.3Z" fill="#743d0a"/>
<path d="M353.8 243.3L354.4 239.6L355.1 243.3Z" fill="#521805"/>
<path d="M417.5 239.8L418.2 233.3L418.9 239.8Z" fill="#4e1604"/>
<path d="M383.2 241.7L383.9 235.0L384.6 241.7Z" fill="#703709"/>
<path d="M367.9 242.6L368.5 237.0L369.1 242.6Z" fill="#6a2e08"/>
<path d="M371.6 242.4L372.5 235.3L373.4 242.4Z" fill="#602005"/>
<path d="M402.4 240.7L403.2 232.4L404.0 240.7Z" fill="#622306"/>
<path d="M379.5 242.0L380.4 232.3L381.4 242.0Z" fill="#804e0e"/>
<path d="M377.7 242.1L378.6 236.5L379.5 242.1Z" fill="#531905"/>
<path d="M368.0 242.6L368.6 238.9L369.3 242.6Z" fill="#4f1705"/>
<path d="M392.0 241.3L393.1 235.4L394.2 241.3Z" fill="#581c05"/>
<path d="M373.1 242.4L373.7 228.3L374.3 242.4Z" fill="#835411"/>
<path d="M316.6 245.5L317.7 238.3L318.7 245.5Z" fill="#5d1f05"/>
<path d="M316.7 245.5L317.4 241.3L318.2 245.5Z" fill="#461204"/>
<path d="M390.6 241.5L391.6 230.8L392.6 241.5Z" fill="#6a2e08"/>
<path d="M365.3 242.9L366.4 238.3L367.5 242.9Z" fill="#642506"/>
<path d="M328.8 244.9L329.7 235.2L330.6 244.9Z" fill="#652606"/>
<path d="M404.3 240.8L404.9 230.8L405.4 240.8Z" fill="#6b3008"/>
<path d="M427.4 239.6L428.2 233.6L428.9 239.6Z" fill="#6e3409"/>
<path d="M336.0 244.6L336.8 237.6L337.5 244.6Z" fill="#6d3208"/>
<path d="M417.7 240.1L418.8 235.5L419.9 240.1Z" fill="#4e1604"/>
<path d="M419.7 240.1L420.7 236.4L421.7 240.1Z" fill="#602005"/>
<path d="M412.1 240.6L412.8 236.4L413.4 240.6Z" fill="#551a05"/>
<path d="M413.7 240.5L414.8 237.0L415.9 240.5Z" fill="#4a1404"/>
<path d="M425.3 239.9L426.2 236.2L427.1 239.9Z" fill="#5c1e05"/>
<path d="M371.5 242.9L372.6 238.1L373.7 242.9Z" fill="#591d05"/>
<path d="M389.7 241.9L390.5 236.2L391.2 241.9Z" fill="#561b05"/>
<path d="M339.5 244.7L340.2 238.5L341.0 244.7Z" fill="#682b07"/>
<path d="M417.3 240.5L418.0 231.2L418.8 240.5Z" fill="#7a460c"/>
<path d="M430.0 239.8L430.8 230.5L431.5 239.8Z" fill="#703709"/>
<path d="M318.5 246.0L319.1 238.7L319.8 246.0Z" fill="#571b05"/>
<path d="M420.4 240.4L421.4 221.6L422.4 240.4Z" fill="#9c7a29"/>
<path d="M364.5 243.5L365.4 237.4L366.3 243.5Z" fill="#652606"/>
<path d="M369.5 243.3L370.4 239.1L371.3 243.3Z" fill="#400e04"/>
<path d="M327.3 245.6L327.9 241.0L328.5 245.6Z" fill="#491404"/>
<path d="M344.1 244.8L344.8 240.8L345.5 244.8Z" fill="#531905"/>
<path d="M414.5 240.9L415.2 236.5L415.9 240.9Z" fill="#441004"/>
<path d="M333.5 245.4L334.1 238.8L334.8 245.4Z" fill="#71390a"/>
<path d="M327.6 245.8L328.5 238.3L329.4 245.8Z" fill="#672a07"/>
<path d="M325.9 245.9L327.0 235.7L328.1 245.9Z" fill="#804e0e"/>
<path d="M350.4 244.5L351.5 237.7L352.7 244.5Z" fill="#642606"/>
<path d="M420.8 240.7L421.9 236.1L423.0 240.7Z" fill="#471204"/>
<path d="M343.1 245.0L343.8 241.3L344.5 245.0Z" fill="#4a1404"/>
<path d="M397.0 242.1L397.6 227.7L398.3 242.1Z" fill="#7d4a0d"/>
<path d="M340.0 245.2L341.1 238.4L342.3 245.2Z" fill="#6d3208"/>
<path d="M372.3 243.5L372.8 237.4L373.4 243.5Z" fill="#531905"/>
<path d="M330.2 245.9L331.1 239.7L332.1 245.9Z" fill="#6c3108"/>
<path d="M370.5 243.7L371.2 238.8L371.9 243.7Z" fill="#431004"/>
<path d="M337.4 245.7L338.5 240.2L339.6 245.7Z" fill="#541a05"/>
<path d="M393.1 242.7L394.0 238.7L394.9 242.7Z" fill="#421004"/>
<path d="M405.0 242.1L405.8 238.6L406.6 242.1Z" fill="#471204"/>
<path d="M435.1 240.6L436.0 236.5L436.9 240.6Z" fill="#5b1e05"/>
<path d="M374.9 243.9L375.7 239.9L376.5 243.9Z" fill="#410e04"/>
<path d="M316.1 247.1L317.0 235.1L317.9 247.1Z" fill="#763f0b"/>
<path d="M353.3 245.1L354.1 241.6L355.0 245.1Z" fill="#581c05"/>
<path d="M400.7 242.5L401.7 233.6L402.7 242.5Z" fill="#79440c"/>
<path d="M311.0 247.4L311.9 243.5L312.9 247.4Z" fill="#5a1d05"/>
<path d="M385.6 243.4L386.1 234.4L386.7 243.4Z" fill="#77410b"/>
<path d="M337.2 246.0L338.1 225.4L338.9 246.0Z" fill="#a38434"/>
<path d="M334.4 246.2L335.5 227.0L336.6 246.2Z" fill="#977224"/>
<path d="M425.2 241.3L425.9 237.3L426.6 241.3Z" fill="#541a05"/>
<path d="M385.6 243.5L386.7 226.4L387.8 243.5Z" fill="#895c16"/>
<path d="M353.3 245.3L354.1 241.5L354.8 245.3Z" fill="#591d05"/>
<path d="M425.2 241.4L426.0 236.0L426.8 241.4Z" fill="#6a2e08"/>
<path d="M344.6 245.8L345.4 240.4L346.3 245.8Z" fill="#682b07"/>
<path d="M420.5 241.7L421.3 237.1L422.1 241.7Z" fill="#591c05"/>
<path d="M357.2 245.1L358.2 239.0L359.2 245.1Z" fill="#662807"/>
<path d="M427.7 241.3L428.5 233.3L429.4 241.3Z" fill="#5b1e05"/>
<path d="M365.1 244.8L366.1 239.9L367.1 244.8Z" fill="#642606"/>
<path d="M373.0 244.4L373.6 238.2L374.3 244.4Z" fill="#571b05"/>
<path d="M400.8 243.0L401.4 233.0L402.1 243.0Z" fill="#7e4b0d"/>
<path d="M390.7 243.6L391.8 239.0L392.9 243.6Z" fill="#4b1404"/>
<path d="M425.4 241.7L426.5 236.5L427.6 241.7Z" fill="#501705"/>
<path d="M390.1 243.7L391.3 239.8L392.4 243.7Z" fill="#4f1705"/>
<path d="M341.2 246.3L342.3 241.5L343.5 246.3Z" fill="#431004"/>
<path d="M322.7 247.4L323.8 240.8L324.8 247.4Z" fill="#612105"/>
<path d="M358.1 245.5L358.9 238.8L359.7 245.5Z" fill="#602005"/>
<path d="M319.3 247.7L320.1 243.4L320.8 247.7Z" fill="#581c05"/>
<path d="M315.4 248.0L316.4 241.2L317.4 248.0Z" fill="#521805"/>
<path d="M341.9 246.6L343.0 238.5L344.1 246.6Z" fill="#662807"/>
<path d="M374.1 244.9L375.0 241.2L375.8 244.9Z" fill="#5c1e05"/>
<path d="M381.2 244.5L382.0 240.3L382.8 244.5Z" fill="#521905"/>
<path d="M367.0 245.3L367.7 234.9L368.4 245.3Z" fill="#6e3409"/>
<path d="M430.0 241.9L430.8 237.6L431.6 241.9Z" fill="#4e1604"/>
<path d="M393.1 243.9L393.7 239.6L394.2 243.9Z" fill="#561b05"/>
<path d="M417.5 242.6L418.5 237.1L419.6 242.6Z" fill="#531905"/>
<path d="M309.3 248.5L310.4 244.7L311.4 248.5Z" fill="#4a1404"/>
<path d="M363.2 245.6L363.9 237.1L364.5 245.6Z" fill="#77400b"/>
<path d="M392.7 244.0L393.5 236.3L394.2 244.0Z" fill="#672a07"/>
<path d="M328.7 247.5L329.5 243.1L330.3 247.5Z" fill="#461204"/>
<path d="M357.4 246.0L358.3 241.0L359.2 246.0Z" fill="#5d1f05"/>
<path d="M328.5 247.7L329.2 242.9L329.8 247.7Z" fill="#5b1e05"/>
<path d="M358.6 246.0L359.6 232.3L360.7 246.0Z" fill="#8d621a"/>
<path d="M439.3 241.7L439.9 228.4L440.6 241.7Z" fill="#967023"/>
<path d="M315.7 248.4L316.8 242.4L317.8 248.4Z" fill="#5d1f05"/>
<path d="M317.5 248.3L318.2 238.8L318.8 248.3Z" fill="#6b3008"/>
<path d="M356.0 246.2L357.0 240.1L358.0 246.2Z" fill="#5f2005"/>
<path d="M371.4 245.4L372.2 238.6L372.9 245.4Z" fill="#5c1e05"/>
<path d="M407.0 243.5L408.0 239.8L409.0 243.5Z" fill="#511805"/>
<path d="M437.7 241.8L438.6 233.3L439.6 241.8Z" fill="#71380a"/>
<path d="M379.6 245.1L380.2 240.7L380.8 245.1Z" fill="#591d05"/>
<path d="M313.6 248.7L314.3 241.6L315.1 248.7Z" fill="#682b07"/>
<path d="M332.4 247.7L333.0 241.5L333.6 247.7Z" fill="#561b05"/>
<path d="M337.7 247.4L338.7 238.6L339.7 247.4Z" fill="#6b3008"/>
<path d="M311.7 248.8L312.5 244.9L313.2 248.8Z" fill="#612105"/>
<path d="M347.7 246.9L348.5 236.2L349.3 246.9Z" fill="#825110"/>
<path d="M369.6 245.8L370.7 240.3L371.8 245.8Z" fill="#652707"/>
<path d="M349.6 246.9L350.6 233.5L351.5 246.9Z" fill="#91681e"/>
<path d="M312.7 248.9L313.5 244.9L314.4 248.9Z" fill="#591d05"/>
<path d="M325.8 248.3L326.5 237.8L327.1 248.3Z" fill="#642606"/>
<path d="M394.1 244.7L394.9 240.1L395.8 244.7Z" fill="#4f1705"/>
<path d="M386.2 245.2L387.1 238.3L387.9 245.2Z" fill="#672907"/>
<path d="M335.3 248.0L336.3 241.9L337.3 248.0Z" fill="#4b1504"/>
<path d="M355.8 246.9L356.4 239.8L357.0 246.9Z" fill="#561b05"/>
<path d="M430.7 242.9L431.3 231.3L431.9 242.9Z" fill="#78420b"/>
<path d="M371.5 246.1L372.1 241.8L372.7 246.1Z" fill="#531905"/>
<path d="M309.4 249.5L310.4 241.9L311.4 249.5Z" fill="#6b3008"/>
<path d="M416.9 243.7L418.0 239.1L419.1 243.7Z" fill="#632406"/>
<path d="M312.7 249.4L313.4 245.6L314.0 249.4Z" fill="#471204"/>
<path d="M324.4 248.7L325.4 240.9L326.4 248.7Z" fill="#531905"/>
<path d="M393.5 245.0L394.3 229.9L395.0 245.0Z" fill="#9c7929"/>
<path d="M321.2 248.9L322.3 240.1L323.3 248.9Z" fill="#692c07"/>
<path d="M419.7 243.7L420.7 239.1L421.7 243.7Z" fill="#662807"/>
<path d="M324.6 248.8L325.4 239.1L326.3 248.8Z" fill="#7f4d0d"/>
<path d="M427.5 243.3L428.2 239.4L428.9 243.3Z" fill="#461104"/>
<path d="M382.3 245.8L383.3 224.6L384.3 245.8Z" fill="#d4c49a"/>
<path d="M414.4 244.1L415.1 236.3L415.8 244.1Z" fill="#652706"/>
<path d="M422.5 243.7L423.1 240.2L423.7 243.7Z" fill="#471204"/>
<path d="M366.7 246.7L367.3 238.6L367.9 246.7Z" fill="#6d3208"/>
<path d="M374.8 246.3L375.9 238.6L377.0 246.3Z" fill="#71380a"/>
<path d="M402.0 244.9L403.0 238.1L404.0 244.9Z" fill="#6f3509"/>
<path d="M408.3 244.6L409.4 240.1L410.5 244.6Z" fill="#441104"/>
<path d="M407.0 244.7L407.9 236.6L408.8 244.7Z" fill="#662807"/>
<path d="M426.1 243.6L427.2 231.0L428.3 243.6Z" fill="#835411"/>
<path d="M433.2 243.3L433.9 239.6L434.5 243.3Z" fill="#471204"/>
<path d="M400.5 245.1L401.3 234.8L402.0 245.1Z" fill="#79440c"/>
<path d="M328.5 249.1L329.3 245.5L330.1 249.1Z" fill="#511805"/>
<path d="M381.2 246.2L381.9 239.0L382.7 246.2Z" fill="#531905"/>
<path d="M336.7 248.6L337.5 241.0L338.2 248.6Z" fill="#723a0a"/>
<path d="M412.2 244.6L413.1 238.1L413.9 244.6Z" fill="#531905"/>
<path d="M426.7 243.8L427.8 234.0L428.9 243.8Z" fill="#662807"/>
<path d="M370.0 246.9L370.8 238.1L371.7 246.9Z" fill="#5a1d05"/>
<path d="M372.5 246.8L373.2 240.1L373.9 246.8Z" fill="#6f3509"/>
<path d="M350.8 248.0L351.7 244.1L352.6 248.0Z" fill="#5a1d05"/>
<path d="M385.5 246.2L386.4 232.5L387.4 246.2Z" fill="#855613"/>
<path d="M371.1 247.0L371.8 242.1L372.5 247.0Z" fill="#632306"/>
<path d="M414.3 244.6L415.3 238.7L416.2 244.6Z" fill="#5b1e05"/>
<path d="M367.5 247.2L368.6 241.6L369.6 247.2Z" fill="#4c1504"/>
<path d="M431.7 243.8L432.4 239.3L433.2 243.8Z" fill="#481304"/>
<path d="M338.1 248.8L339.1 240.8L340.1 248.8Z" fill="#5c1e05"/>
<path d="M433.3 243.7L434.2 236.1L435.1 243.7Z" fill="#6b2f08"/>
<path d="M348.9 248.2L350.0 243.9L351.2 248.2Z" fill="#471204"/>
<path d="M349.7 248.3L350.8 235.1L351.9 248.3Z" fill="#78430c"/>
<path d="M330.1 249.4L330.7 244.6L331.3 249.4Z" fill="#420f04"/>
<path d="M353.9 248.1L354.8 240.9L355.7 248.1Z" fill="#672a07"/>
<path d="M354.2 248.1L355.2 243.5L356.1 248.1Z" fill="#632306"/>
<path d="M338.5 249.0L339.1 243.6L339.6 249.0Z" fill="#602105"/>
<path d="M431.7 244.0L432.6 237.8L433.5 244.0Z" fill="#622206"/>
<path d="M363.0 247.7L363.7 238.6L364.5 247.7Z" fill="#5f2005"/>
<path d="M310.7 250.6L311.9 241.2L313.0 250.6Z" fill="#6c3008"/>
<path d="M336.8 249.2L337.6 237.7L338.4 249.2Z" fill="#79430c"/>
<path d="M430.4 244.3L431.0 234.7L431.6 244.3Z" fill="#602105"/>
<path d="M358.6 248.1L359.4 240.4L360.3 248.1Z" fill="#551a05"/>
<path d="M417.6 245.0L418.4 237.9L419.1 245.0Z" fill="#571b05"/>
<path d="M344.7 249.0L345.5 245.3L346.3 249.0Z" fill="#491304"/>
<path d="M324.6 250.1L325.5 240.7L326.4 250.1Z" fill="#662807"/>
<path d="M396.2 246.4L396.8 239.9L397.5 246.4Z" fill="#4e1604"/>
<path d="M363.0 248.1L364.1 234.7L365.2 248.1Z" fill="#865814"/>
<path d="M358.1 248.4L359.0 238.1L360.0 248.4Z" fill="#622206"/>
<path d="M312.2 250.9L312.8 245.6L313.4 250.9Z" fill="#481304"/>
<path d="M394.2 246.5L395.2 229.3L396.1 246.5Z" fill="#b69e5c"/>
<path d="M406.4 245.9L407.1 241.4L407.7 245.9Z" fill="#501705"/>
<path d="M326.9 250.1L327.7 245.4L328.5 250.1Z" fill="#662707"/>
<path d="M370.2 247.8L371.0 243.2L371.7 247.8Z" fill="#431004"/>
<path d="M337.9 249.6L338.9 243.7L340.0 249.6Z" fill="#4e1604"/>
<path d="M438.4 244.3L439.5 238.3L440.6 244.3Z" fill="#571b05"/>
<path d="M332.7 250.0L333.6 245.9L334.4 250.0Z" fill="#561b05"/>
<path d="M338.3 249.7L338.8 240.4L339.4 249.7Z" fill="#7a460c"/>
<path d="M365.3 248.3L366.0 233.8L366.8 248.3Z" fill="#977324"/>
<path d="M343.1 249.5L344.2 243.6L345.3 249.5Z" fill="#652707"/>
<path d="M408.4 246.0L409.0 239.9L409.6 246.0Z" fill="#4c1504"/>
<path d="M416.6 245.6L417.2 231.6L417.7 245.6Z" fill="#967023"/>
<path d="M368.8 248.2L369.6 244.1L370.4 248.2Z" fill="#5a1d05"/>
<path d="M353.3 249.0L354.1 235.2L354.9 249.0Z" fill="#926a1f"/>
<path d="M313.4 251.1L314.4 247.6L315.4 251.1Z" fill="#501705"/>
<path d="M393.6 246.9L394.6 242.5L395.7 246.9Z" fill="#5a1d05"/>
<path d="M379.4 247.7L380.0 242.1L380.6 247.7Z" fill="#6b3008"/>
<path d="M374.3 248.0L375.1 240.9L376.0 248.0Z" fill="#5a1d05"/>
<path d="M346.9 249.5L347.9 228.3L349.0 249.5Z" fill="#d7c8a0"/>
<path d="M333.8 250.3L334.6 246.4L335.4 250.3Z" fill="#622206"/>
<path d="M368.0 248.5L368.9 240.4L369.8 248.5Z" fill="#78420b"/>
<path d="M319.1 251.2L320.1 240.6L321.1 251.2Z" fill="#7a450c"/>
<path d="M410.3 246.4L411.2 233.6L412.1 246.4Z" fill="#8d621a"/>
<path d="M327.3 250.8L328.4 245.1L329.6 250.8Z" fill="#501705"/>
<path d="M413.1 246.2L413.9 238.7L414.7 246.2Z" fill="#682b07"/>
<path d="M346.5 249.8L347.1 246.1L347.7 249.8Z" fill="#541a05"/>
<path d="M418.5 246.0L419.2 240.6L419.8 246.0Z" fill="#4c1504"/>
<path d="M378.9 248.2L379.9 243.1L380.9 248.2Z" fill="#4b1404"/>
<path d="M397.8 247.3L398.6 234.3L399.5 247.3Z" fill="#7f4c0d"/>
<path d="M385.0 248.0L385.6 236.4L386.1 248.0Z" fill="#78420b"/>
<path d="M399.7 247.3L400.8 232.9L401.8 247.3Z" fill="#9b7828"/>
<path d="M385.3 248.1L385.9 234.9L386.5 248.1Z" fill="#71380a"/>
<path d="M373.1 248.7L373.9 231.7L374.6 248.7Z" fill="#8b6019"/>
<path d="M417.4 246.4L418.3 237.2L419.3 246.4Z" fill="#6a2f08"/>
<path d="M361.3 249.4L362.4 242.5L363.4 249.4Z" fill="#4d1604"/>
<path d="M430.6 245.8L431.4 237.5L432.1 245.8Z" fill="#6f3609"/>
<path d="M323.9 251.5L324.5 246.3L325.1 251.5Z" fill="#612105"/>
<path d="M323.6 251.5L324.7 243.9L325.7 251.5Z" fill="#6b3008"/>
<path d="M314.5 252.0L315.6 241.9L316.8 252.0Z" fill="#6b3008"/>
<path d="M395.0 247.8L395.9 238.9L396.7 247.8Z" fill="#632406"/>
<path d="M313.3 252.2L313.9 245.2L314.4 252.2Z" fill="#652706"/>
<path d="M428.7 246.1L429.5 241.7L430.3 246.1Z" fill="#5f2005"/>
<path d="M347.0 250.4L347.8 239.9L348.5 250.4Z" fill="#845411"/>
<path d="M353.6 250.1L354.4 242.2L355.2 250.1Z" fill="#6c3108"/>
<path d="M413.3 246.9L414.4 238.0L415.5 246.9Z" fill="#692d08"/>
<path d="M347.8 250.5L348.8 241.1L349.7 250.5Z" fill="#7d4a0d"/>
<path d="M368.5 249.5L369.3 245.9L370.0 249.5Z" fill="#3f0e04"/>
<path d="M332.3 251.4L333.0 228.4L333.7 251.4Z" fill="#d7c8a0"/>
<path d="M411.8 247.3L412.5 243.7L413.3 247.3Z" fill="#3c0c04"/>
<path d="M344.8 250.8L345.9 238.7L346.9 250.8Z" fill="#825210"/>
<path d="M412.9 247.2L413.7 239.9L414.4 247.2Z" fill="#692c07"/>
<path d="M325.3 251.9L325.9 238.2L326.5 251.9Z" fill="#8e641c"/>
<path d="M347.3 250.8L348.3 246.8L349.4 250.8Z" fill="#561b05"/>
<path d="M376.0 249.3L376.7 245.5L377.5 249.3Z" fill="#4e1604"/>
<path d="M403.6 247.8L404.3 236.0L405.0 247.8Z" fill="#6a2e08"/>
<path d="M362.4 250.0L363.3 245.3L364.3 250.0Z" fill="#652606"/>
<path d="M359.5 250.2L360.2 245.5L360.9 250.2Z" fill="#501705"/>
<path d="M332.6 251.6L333.6 244.3L334.6 251.6Z" fill="#692c07"/>
<path d="M380.8 249.1L381.4 239.6L382.1 249.1Z" fill="#7e4c0d"/>
<path d="M335.9 251.4L336.6 246.0L337.3 251.4Z" fill="#682b07"/>
<path d="M356.1 250.4L357.1 246.9L358.1 250.4Z" fill="#4e1604"/>
<path d="M427.5 246.7L428.7 243.0L429.8 246.7Z" fill="#5e2005"/>
<path d="M386.1 248.9L387.2 245.3L388.4 248.9Z" fill="#3f0d04"/>
<path d="M320.2 252.4L320.9 246.4L321.7 252.4Z" fill="#481304"/>
<path d="M395.2 248.5L395.8 243.9L396.5 248.5Z" fill="#602005"/>
<path d="M381.3 249.2L382.0 242.0L382.8 249.2Z" fill="#71390a"/>
<path d="M358.0 250.5L358.7 246.8L359.3 250.5Z" fill="#571b05"/>
<path d="M418.3 247.4L418.9 243.7L419.6 247.4Z" fill="#511805"/>
<path d="M416.1 247.5L417.1 243.6L418.2 247.5Z" fill="#5e1f05"/>
<path d="M409.8 247.9L410.4 233.4L410.9 247.9Z" fill="#997526"/>
<path d="M360.1 250.5L360.8 246.5L361.5 250.5Z" fill="#420f04"/>
<path d="M415.6 247.6L416.7 241.6L417.8 247.6Z" fill="#4e1604"/>
<path d="M370.1 250.0L371.2 230.1L372.2 250.0Z" fill="#9d7b2a"/>
<path d="M323.5 252.5L324.1 236.1L324.7 252.5Z" fill="#8e641b"/>
<path d="M365.5 250.3L366.1 243.6L366.7 250.3Z" fill="#4d1604"/>
<path d="M317.3 252.9L318.1 248.5L318.9 252.9Z" fill="#5e2005"/>
<path d="M425.6 247.2L426.5 242.8L427.5 247.2Z" fill="#5b1e05"/>
<path d="M379.6 249.7L380.7 241.1L381.7 249.7Z" fill="#6e3309"/>
<path d="M317.8 253.0L318.9 249.1L319.9 253.0Z" fill="#3f0e04"/>
<path d="M407.5 248.3L408.2 239.4L408.9 248.3Z" fill="#6d3309"/>
<path d="M423.9 247.5L425.1 242.5L426.2 247.5Z" fill="#441004"/>
<path d="M401.3 248.7L402.1 243.8L402.9 248.7Z" fill="#481304"/>
<path d="M367.2 250.5L368.3 244.8L369.4 250.5Z" fill="#511805"/>
<path d="M426.6 247.4L427.2 243.6L427.8 247.4Z" fill="#3d0d04"/>
<path d="M358.9 250.9L359.5 247.3L360.1 250.9Z" fill="#3c0c04"/>
<path d="M420.3 247.8L421.1 236.5L421.9 247.8Z" fill="#79440c"/>
<path d="M350.0 251.5L350.8 233.6L351.6 251.5Z" fill="#9b7828"/>
<path d="M358.6 251.1L359.6 244.1L360.7 251.1Z" fill="#703709"/>
<path d="M387.9 249.7L388.5 226.7L389.1 249.7Z" fill="#d7c8a0"/>
<path d="M429.6 247.5L430.3 238.0L431.0 247.5Z" fill="#6a2e08"/>
<path d="M408.1 248.6L408.9 242.0L409.8 248.6Z" fill="#571c05"/>
<path d="M383.3 249.9L384.1 245.7L384.9 249.9Z" fill="#591d05"/>
<path d="M407.7 248.7L408.7 243.6L409.7 248.7Z" fill="#511805"/>
<path d="M360.8 251.2L361.5 247.6L362.3 251.2Z" fill="#501705"/>
<path d="M322.7 253.2L323.4 247.2L324.1 253.2Z" fill="#5e2005"/>
<path d="M420.2 248.1L421.0 242.7L421.9 248.1Z" fill="#531905"/>
<path d="M340.0 252.3L341.0 245.1L342.1 252.3Z" fill="#6e3409"/>
<path d="M392.3 249.6L393.2 244.3L394.1 249.6Z" fill="#5f2005"/>
<path d="M420.4 248.2L421.6 243.7L422.7 248.2Z" fill="#581c05"/>
<path d="M418.0 248.4L419.0 244.8L419.9 248.4Z" fill="#3c0c04"/>
<path d="M353.6 251.7L354.6 241.6L355.7 251.7Z" fill="#753e0b"/>
<path d="M435.8 247.4L436.9 240.7L437.9 247.4Z" fill="#501705"/>
<path d="M312.1 253.9L312.9 239.8L313.7 253.9Z" fill="#855613"/>
<path d="M394.1 249.7L394.8 240.5L395.5 249.7Z" fill="#7c490d"/>
<path d="M318.6 253.7L319.4 244.8L320.2 253.7Z" fill="#692d08"/>
<path d="M343.4 252.3L344.4 246.5L345.5 252.3Z" fill="#581c05"/>
<path d="M381.3 250.5L382.1 243.2L382.8 250.5Z" fill="#511805"/>
<path d="M351.7 252.1L352.8 241.1L353.8 252.1Z" fill="#835311"/>
<path d="M418.0 248.6L418.8 243.4L419.6 248.6Z" fill="#441004"/>
<path d="M333.8 253.1L334.9 235.2L335.9 253.1Z" fill="#9d7c2a"/>
<path d="M420.3 248.7L421.2 237.9L422.1 248.7Z" fill="#733b0a"/>
<path d="M419.9 248.8L420.6 243.0L421.3 248.8Z" fill="#642506"/>
<path d="M346.3 252.7L347.1 248.2L347.8 252.7Z" fill="#571b05"/>
<path d="M350.1 252.5L350.8 248.3L351.4 252.5Z" fill="#420f04"/>
<path d="M430.0 248.4L430.6 242.6L431.2 248.4Z" fill="#4f1705"/>
<path d="M409.8 249.5L410.6 243.2L411.3 249.5Z" fill="#692d08"/>
<path d="M377.6 251.2L378.5 247.3L379.4 251.2Z" fill="#4c1504"/>
<path d="M360.4 252.0L361.5 244.5L362.6 252.0Z" fill="#6f3609"/>
<path d="M323.9 254.0L324.7 249.4L325.5 254.0Z" fill="#5a1d05"/>
<path d="M369.7 251.7L370.8 246.6L371.9 251.7Z" fill="#441004"/>
<path d="M429.6 248.6L430.5 244.0L431.4 248.6Z" fill="#571b05"/>
<path d="M402.7 250.0L403.5 243.9L404.2 250.0Z" fill="#551a05"/>
<path d="M414.0 249.4L415.0 242.0L416.1 249.4Z" fill="#652706"/>
<path d="M338.3 253.4L338.9 247.2L339.6 253.4Z" fill="#501705"/>
<path d="M407.0 249.8L407.8 244.0L408.6 249.8Z" fill="#591d05"/>
<path d="M402.8 250.1L403.5 245.2L404.3 250.1Z" fill="#5c1e05"/>
<path d="M406.1 250.0L407.2 246.2L408.4 250.0Z" fill="#471204"/>
<path d="M323.4 254.4L324.1 243.8L324.9 254.4Z" fill="#723a0a"/>
<path d="M338.9 253.6L339.9 238.6L340.9 253.6Z" fill="#81500f"/>
<path d="M377.7 251.7L378.4 237.9L379.1 251.7Z" fill="#804f0e"/>
<path d="M394.4 250.9L395.1 247.1L395.8 250.9Z" fill="#591d05"/>
<path d="M412.0 250.0L413.1 242.0L414.2 250.0Z" fill="#581c05"/>
<path d="M424.3 249.4L425.1 243.6L425.9 249.4Z" fill="#5b1e05"/>
<path d="M351.2 253.2L352.3 249.3L353.5 253.2Z" fill="#4a1404"/>
<path d="M402.8 250.6L403.5 247.0L404.2 250.6Z" fill="#3d0c04"/>
<path d="M340.9 253.8L341.7 249.1L342.5 253.8Z" fill="#501705"/>
<path d="M331.2 254.4L332.2 236.9L333.2 254.4Z" fill="#946e22"/>
<path d="M315.0 255.3L316.1 246.8L317.2 255.3Z" fill="#571b05"/>
<path d="M365.3 252.7L366.0 246.3L366.6 252.7Z" fill="#622306"/>
<path d="M437.0 249.1L437.7 245.1L438.5 249.1Z" fill="#5f2005"/>
<path d="M317.4 255.3L318.5 243.1L319.7 255.3Z" fill="#8b6019"/>
<path d="M347.5 253.8L348.3 244.9L349.2 253.8Z" fill="#753f0b"/>
<path d="M311.1 255.7L311.8 251.5L312.6 255.7Z" fill="#5d1f05"/>
<path d="M347.7 253.8L348.8 249.8L349.9 253.8Z" fill="#521805"/>
<path d="M336.4 254.4L337.6 245.9L338.7 254.4Z" fill="#7a460c"/>
<path d="M315.7 255.5L316.7 249.6L317.7 255.5Z" fill="#5a1d05"/>
<path d="M322.3 255.2L323.4 247.9L324.5 255.2Z" fill="#561b05"/>
<path d="M391.2 251.7L391.9 244.8L392.6 251.7Z" fill="#612105"/>
<path d="M387.8 251.8L388.8 242.9L389.7 251.8Z" fill="#672a07"/>
<path d="M402.5 251.1L403.0 246.8L403.6 251.1Z" fill="#4c1504"/>
<path d="M334.5 254.6L335.1 250.3L335.7 254.6Z" fill="#551a05"/>
<path d="M393.1 251.6L394.1 247.5L395.1 251.6Z" fill="#561b05"/>
<path d="M333.4 254.7L334.3 250.8L335.1 254.7Z" fill="#541a05"/>
<path d="M412.2 250.7L413.1 245.2L413.9 250.7Z" fill="#501705"/>
<path d="M364.6 253.2L365.5 242.4L366.5 253.2Z" fill="#632306"/>
<path d="M438.5 249.4L439.1 241.7L439.8 249.4Z" fill="#622206"/>
<path d="M334.8 254.8L335.7 248.0L336.6 254.8Z" fill="#5d1f05"/>
<path d="M357.4 253.7L358.4 246.6L359.5 253.7Z" fill="#581c05"/>
<path d="M326.3 255.3L327.1 248.6L327.9 255.3Z" fill="#4e1604"/>
<path d="M399.2 251.5L400.0 243.2L400.8 251.5Z" fill="#591c05"/>
<path d="M358.7 253.6L359.6 249.6L360.5 253.6Z" fill="#612105"/>
<path d="M414.6 250.8L415.7 247.3L416.8 250.8Z" fill="#4d1604"/>
<path d="M412.1 251.0L413.1 246.6L414.2 251.0Z" fill="#531905"/>
<path d="M351.3 254.1L352.5 247.1L353.6 254.1Z" fill="#6d3208"/>
<path d="M356.4 253.9L357.3 250.0L358.2 253.9Z" fill="#5f2005"/>
<path d="M392.3 252.1L392.8 246.1L393.4 252.1Z" fill="#612105"/>
<path d="M346.7 254.4L347.4 242.3L348.1 254.4Z" fill="#7d4a0d"/>
<path d="M324.0 255.6L325.0 249.0L326.1 255.6Z" fill="#551a05"/>
<path d="M342.4 254.7L343.4 234.2L344.3 254.7Z" fill="#9b7928"/>
<path d="M322.6 255.9L323.3 250.5L323.9 255.9Z" fill="#471204"/>
<path d="M345.3 254.7L346.2 243.8L347.2 254.7Z" fill="#6b2f08"/>
<path d="M320.0 256.1L320.9 248.8L321.8 256.1Z" fill="#622206"/>
<path d="M359.9 254.1L361.0 240.7L362.0 254.1Z" fill="#8a5f18"/>
<path d="M364.5 253.9L365.5 250.1L366.5 253.9Z" fill="#481304"/>
<path d="M332.5 255.7L333.2 245.7L333.9 255.7Z" fill="#723a0a"/>
<path d="M325.4 256.1L326.1 251.8L326.8 256.1Z" fill="#511805"/>
<path d="M385.6 253.1L386.6 246.3L387.5 253.1Z" fill="#4f1705"/>
<path d="M438.4 250.4L439.0 239.5L439.6 250.4Z" fill="#642506"/>
<path d="M362.6 254.3L363.7 250.8L364.8 254.3Z" fill="#5e2005"/>
<path d="M364.8 254.3L365.5 248.8L366.3 254.3Z" fill="#642606"/>
<path d="M344.9 255.3L345.9 246.6L346.8 255.3Z" fill="#723a0a"/>
<path d="M331.4 256.0L332.5 251.6L333.6 256.0Z" fill="#571b05"/>
<path d="M326.6 256.3L327.3 250.1L328.1 256.3Z" fill="#4e1604"/>
<path d="M336.6 255.9L337.3 248.5L338.1 255.9Z" fill="#622306"/>
<path d="M371.1 254.1L372.0 236.8L372.9 254.1Z" fill="#8a5e18"/>
<path d="M397.6 252.8L398.3 246.8L399.1 252.8Z" fill="#662807"/>
<path d="M340.7 255.7L341.4 250.5L342.2 255.7Z" fill="#441004"/>
<path d="M426.5 251.3L427.6 236.7L428.7 251.3Z" fill="#7b470c"/>
<path d="M368.9 254.3L369.7 244.8L370.5 254.3Z" fill="#743d0a"/>
<path d="M312.1 257.2L313.2 249.1L314.3 257.2Z" fill="#753f0b"/>
<path d="M373.7 254.1L374.5 249.8L375.2 254.1Z" fill="#451104"/>
<path d="M412.5 252.1L413.4 246.0L414.3 252.1Z" fill="#6b3008"/>
<path d="M387.9 253.4L388.7 246.2L389.5 253.4Z" fill="#561b05"/>
<path d="M377.3 254.0L378.2 248.2L379.0 254.0Z" fill="#5f2005"/>
<path d="M381.9 253.9L382.8 241.3L383.6 253.9Z" fill="#845412"/>
<path d="M326.6 256.7L327.7 237.3L328.7 256.7Z" fill="#987325"/>
<path d="M428.2 251.6L429.1 247.0L429.9 251.6Z" fill="#591c05"/>
<path d="M418.2 252.1L418.8 239.6L419.4 252.1Z" fill="#855613"/>
<path d="M398.5 253.1L399.5 248.2L400.5 253.1Z" fill="#4d1504"/>
<path d="M314.4 257.4L315.4 246.3L316.4 257.4Z" fill="#835411"/>
<path d="M405.2 252.8L406.3 246.5L407.5 252.8Z" fill="#692d08"/>
<path d="M382.6 254.1L383.5 249.7L384.3 254.1Z" fill="#4a1404"/>
<path d="M379.7 254.2L380.7 237.3L381.6 254.2Z" fill="#8f661d"/>
<path d="M333.7 256.6L334.7 252.4L335.8 256.6Z" fill="#491304"/>
<path d="M394.4 253.5L395.3 235.6L396.2 253.5Z" fill="#967123"/>
<path d="M377.8 254.4L378.5 242.0L379.1 254.4Z" fill="#6d3209"/>
<path d="M358.0 255.4L359.0 251.7L360.1 255.4Z" fill="#501705"/>
<path d="M400.8 253.3L401.4 242.2L402.0 253.3Z" fill="#845512"/>
<path d="M419.3 252.4L419.9 236.0L420.6 252.4Z" fill="#825110"/>
<path d="M358.7 255.5L359.4 250.6L360.0 255.5Z" fill="#491304"/>
<path d="M316.5 257.6L317.6 250.5L318.7 257.6Z" fill="#591c05"/>
<path d="M343.2 256.4L344.3 251.7L345.3 256.4Z" fill="#461204"/>
<path d="M403.4 253.4L404.5 244.5L405.5 253.4Z" fill="#72390a"/>
<path d="M322.7 257.5L323.3 249.2L323.9 257.5Z" fill="#6e3309"/>
<path d="M367.0 255.3L368.0 248.2L369.0 255.3Z" fill="#622306"/>
<path d="M359.1 255.7L360.2 252.1L361.3 255.7Z" fill="#441004"/>
<path d="M428.0 252.3L428.7 247.6L429.4 252.3Z" fill="#410f04"/>
<path d="M351.8 256.1L353.0 248.5L354.1 256.1Z" fill="#733c0a"/>
<path d="M329.0 257.3L330.2 248.0L331.3 257.3Z" fill="#602105"/>
<path d="M360.8 255.7L361.6 251.7L362.3 255.7Z" fill="#481304"/>
<path d="M431.2 252.2L432.3 245.3L433.3 252.2Z" fill="#4e1604"/>
<path d="M333.6 257.1L334.5 237.3L335.4 257.1Z" fill="#af934c"/>
<path d="M345.4 256.6L346.1 246.3L346.7 256.6Z" fill="#672907"/>
<path d="M318.9 258.0L319.9 252.3L320.8 258.0Z" fill="#4c1504"/>
<path d="M383.6 254.7L384.7 248.6L385.8 254.7Z" fill="#591c05"/>
<path d="M323.7 257.8L324.4 249.2L325.2 257.8Z" fill="#662807"/>
<path d="M399.3 253.9L399.9 244.6L400.4 253.9Z" fill="#642506"/>
<path d="M366.0 255.6L366.6 243.7L367.2 255.6Z" fill="#7f4c0d"/>
<path d="M387.3 254.6L388.1 249.7L389.0 254.6Z" fill="#571b05"/>
<path d="M356.5 256.2L357.4 238.9L358.2 256.2Z" fill="#a58738"/>
<path d="M432.0 252.4L432.5 238.7L433.1 252.4Z" fill="#8b6019"/>
<path d="M418.5 253.1L419.1 245.6L419.7 253.1Z" fill="#692d08"/>
<path d="M393.0 254.4L394.0 248.9L394.9 254.4Z" fill="#672a07"/>
<path d="M359.0 256.2L359.5 250.6L360.1 256.2Z" fill="#481304"/>
<path d="M322.5 258.1L323.4 253.0L324.2 258.1Z" fill="#561b05"/>
<path d="M411.2 253.6L412.2 243.0L413.3 253.6Z" fill="#703609"/>
<path d="M313.6 258.5L314.5 253.8L315.4 258.5Z" fill="#5c1e05"/>
<path d="M436.8 252.3L437.5 240.9L438.3 252.3Z" fill="#7f4d0d"/>
<path d="M322.5 258.1L323.6 254.0L324.7 258.1Z" fill="#4a1404"/>
<path d="M325.8 258.0L326.5 253.2L327.3 258.0Z" fill="#541a05"/>
<path d="M327.8 257.9L328.6 250.3L329.5 257.9Z" fill="#612105"/>
<path d="M436.2 252.4L437.1 246.6L438.0 252.4Z" fill="#481304"/>
<path d="M421.8 253.2L422.6 242.5L423.4 253.2Z" fill="#825110"/>
<path d="M342.1 257.3L342.7 248.8L343.3 257.3Z" fill="#682b07"/>
<path d="M402.1 254.3L403.0 250.6L404.0 254.3Z" fill="#511805"/>
<path d="M402.9 254.3L403.8 246.9L404.6 254.3Z" fill="#692d08"/>
<path d="M346.3 257.2L347.1 253.6L347.9 257.2Z" fill="#491304"/>
<path d="M337.4 257.6L338.6 249.1L339.7 257.6Z" fill="#6b2f08"/>
<path d="M425.5 253.2L426.3 248.1L427.1 253.2Z" fill="#5b1e05"/>
<path d="M319.4 258.5L320.5 246.1L321.6 258.5Z" fill="#825210"/>
<path d="M338.8 257.6L339.6 252.7L340.3 257.6Z" fill="#5f2005"/>
<path d="M423.4 253.4L424.4 248.8L425.4 253.4Z" fill="#541a05"/>
<path d="M341.3 257.6L342.0 252.9L342.6 257.6Z" fill="#5d1f05"/>
<path d="M411.9 254.0L413.0 243.8L414.1 254.0Z" fill="#753e0b"/>
<path d="M315.1 259.1L316.1 251.6L317.1 259.1Z" fill="#5b1e05"/>
<path d="M348.2 257.4L349.2 240.2L350.2 257.4Z" fill="#926a1f"/>
<path d="M314.1 259.3L314.8 247.4L315.5 259.3Z" fill="#7e4c0d"/>
<path d="M420.3 254.1L421.1 250.2L422.0 254.1Z" fill="#511805"/>
<path d="M439.7 253.1L440.5 244.4L441.4 253.1Z" fill="#692d08"/>
<path d="M314.6 259.4L315.3 253.0L315.9 259.4Z" fill="#612105"/>
<path d="M409.0 254.8L409.6 250.3L410.2 254.8Z" fill="#591c05"/>
<path d="M340.5 258.3L341.4 240.5L342.2 258.3Z" fill="#91691e"/>
<path d="M343.6 258.2L344.2 254.3L344.8 258.2Z" fill="#551a05"/>
<path d="M337.9 258.5L338.5 249.3L339.1 258.5Z" fill="#7d490d"/>
<path d="M356.5 257.5L357.6 253.8L358.7 257.5Z" fill="#501805"/>
<path d="M428.9 253.9L429.6 249.6L430.3 253.9Z" fill="#531905"/>
<path d="M410.6 254.8L411.7 235.6L412.8 254.8Z" fill="#b8a060"/>
<path d="M398.8 255.4L400.0 247.3L401.1 255.4Z" fill="#692d08"/>
<path d="M370.2 256.9L371.0 252.2L371.9 256.9Z" fill="#5b1e05"/>
<path d="M358.2 257.5L359.1 250.4L359.9 257.5Z" fill="#5c1f05"/>
<path d="M318.1 259.6L318.8 255.3L319.4 259.6Z" fill="#491304"/>
<path d="M317.7 259.6L318.5 246.4L319.2 259.6Z" fill="#77410b"/>
<path d="M429.1 254.0L429.8 238.1L430.5 254.0Z" fill="#865714"/>
<path d="M347.9 258.1L348.6 249.2L349.2 258.1Z" fill="#692c07"/>
<path d="M411.2 255.0L412.0 249.6L412.9 255.0Z" fill="#591c05"/>
<path d="M375.0 256.8L375.7 248.4L376.5 256.8Z" fill="#561b05"/>
<path d="M368.0 257.2L369.0 245.9L370.0 257.2Z" fill="#7e4b0d"/>
<path d="M313.2 259.9L313.8 256.4L314.4 259.9Z" fill="#420f04"/>
<path d="M425.1 254.5L425.9 246.9L426.7 254.5Z" fill="#561b05"/>
<path d="M369.9 257.2L370.7 246.0L371.4 257.2Z" fill="#703609"/>
<path d="M418.9 254.8L419.9 248.9L420.9 254.8Z" fill="#6a2e08"/>
<path d="M388.7 256.3L389.3 252.6L389.9 256.3Z" fill="#3c0c04"/>
<path d="M433.8 254.1L434.8 247.7L435.7 254.1Z" fill="#5f2005"/>
<path d="M417.9 254.9L418.7 240.3L419.5 254.9Z" fill="#90671d"/>
<path d="M342.8 258.8L343.6 253.2L344.3 258.8Z" fill="#511805"/>
<path d="M394.6 256.2L395.2 249.6L395.9 256.2Z" fill="#511805"/>
<path d="M393.7 256.3L394.4 247.5L395.1 256.3Z" fill="#682b07"/>
<path d="M391.3 256.4L392.2 242.9L393.2 256.4Z" fill="#7c480c"/>
<path d="M410.2 255.5L411.1 247.8L411.9 255.5Z" fill="#6a2e08"/>
<path d="M382.7 256.9L383.4 252.1L384.1 256.9Z" fill="#531905"/>
<path d="M326.0 259.8L326.9 253.1L327.8 259.8Z" fill="#571b05"/>
<path d="M363.2 257.9L363.7 252.2L364.3 257.9Z" fill="#5f2005"/>
<path d="M388.6 256.7L389.3 252.6L390.0 256.7Z" fill="#4c1504"/>
<path d="M401.2 256.2L402.0 251.3L402.8 256.2Z" fill="#4c1504"/>
<path d="M336.4 259.4L337.0 249.0L337.6 259.4Z" fill="#642506"/>
<path d="M311.6 260.7L312.4 252.1L313.3 260.7Z" fill="#672907"/>
<path d="M353.7 258.6L354.3 252.6L355.0 258.6Z" fill="#521805"/>
<path d="M357.2 258.5L358.2 254.5L359.2 258.5Z" fill="#561b05"/>
<path d="M343.4 259.2L344.4 253.9L345.4 259.2Z" fill="#622306"/>
<path d="M331.1 259.9L331.8 256.1L332.4 259.9Z" fill="#431004"/>
<path d="M367.1 258.1L367.9 247.2L368.8 258.1Z" fill="#622306"/>
<path d="M397.8 256.6L398.5 245.8L399.2 256.6Z" fill="#662907"/>
<path d="M339.7 259.5L340.7 245.8L341.6 259.5Z" fill="#956f22"/>
<path d="M323.7 260.4L324.5 253.2L325.4 260.4Z" fill="#541a05"/>
<path d="M368.4 258.2L369.2 251.3L369.9 258.2Z" fill="#652707"/>
<path d="M413.9 256.0L415.1 246.4L416.2 256.0Z" fill="#6e3409"/>
<path d="M392.2 257.1L392.9 241.7L393.6 257.1Z" fill="#8c611a"/>
<path d="M440.0 254.8L440.5 245.3L441.1 254.8Z" fill="#7c490d"/>
<path d="M335.3 260.1L335.9 249.0L336.5 260.1Z" fill="#865714"/>
<path d="M423.6 255.7L424.5 251.3L425.5 255.7Z" fill="#5a1d05"/>
<path d="M401.9 256.8L402.6 250.8L403.4 256.8Z" fill="#652706"/>
<path d="M372.1 258.3L373.1 252.4L374.0 258.3Z" fill="#642606"/>
<path d="M376.2 258.2L377.4 252.7L378.5 258.2Z" fill="#571c05"/>
<path d="M338.1 260.1L338.7 249.5L339.2 260.1Z" fill="#7b470c"/>
<path d="M370.3 258.5L371.0 249.6L371.6 258.5Z" fill="#6c3208"/>
<path d="M425.3 255.9L425.9 247.3L426.5 255.9Z" fill="#612105"/>
<path d="M411.2 256.6L412.2 250.9L413.2 256.6Z" fill="#612105"/>
<path d="M432.2 255.6L432.9 250.8L433.5 255.6Z" fill="#5e2005"/>
<path d="M416.4 256.4L417.5 250.2L418.6 256.4Z" fill="#501705"/>
<path d="M345.2 260.1L346.0 252.8L346.8 260.1Z" fill="#723a0a"/>
<path d="M428.1 255.9L429.2 245.7L430.2 255.9Z" fill="#71380a"/>
<path d="M326.9 261.0L327.5 253.3L328.0 261.0Z" fill="#632406"/>
<path d="M361.9 259.2L362.8 254.1L363.6 259.2Z" fill="#652606"/>
<path d="M326.7 261.0L327.5 249.4L328.3 261.0Z" fill="#8b5f18"/>
<path d="M402.1 257.3L402.9 248.5L403.8 257.3Z" fill="#723a0a"/>
<path d="M337.1 260.5L337.8 246.7L338.5 260.5Z" fill="#8f661d"/>
<path d="M433.2 255.8L434.0 247.4L434.9 255.8Z" fill="#78430c"/>
<path d="M438.1 255.6L439.2 246.7L440.3 255.6Z" fill="#7a450c"/>
<path d="M351.7 259.9L352.3 255.2L353.0 259.9Z" fill="#451104"/>
<path d="M388.6 258.1L389.3 251.2L389.9 258.1Z" fill="#5b1e05"/>
<path d="M355.8 259.8L356.6 250.2L357.3 259.8Z" fill="#6b3008"/>
<path d="M405.9 257.4L406.8 252.9L407.6 257.4Z" fill="#531905"/>
<path d="M433.6 256.0L434.5 250.4L435.4 256.0Z" fill="#491404"/>
<path d="M419.7 256.8L420.4 253.0L421.1 256.8Z" fill="#4c1504"/>
<path d="M317.3 261.8L318.0 257.4L318.7 261.8Z" fill="#451104"/>
<path d="M371.1 259.2L371.8 255.2L372.6 259.2Z" fill="#4e1604"/>
<path d="M329.3 261.3L330.4 256.3L331.4 261.3Z" fill="#501705"/>
<path d="M436.4 256.0L437.4 252.4L438.3 256.0Z" fill="#420f04"/>
<path d="M399.4 257.8L400.6 246.9L401.7 257.8Z" fill="#77420b"/>
<path d="M418.6 256.9L419.3 246.6L419.9 256.9Z" fill="#7f4d0d"/>
<path d="M425.6 256.6L426.3 248.0L427.1 256.6Z" fill="#753e0b"/>
<path d="M312.9 262.2L313.8 254.9L314.7 262.2Z" fill="#5a1d05"/>
<path d="M419.1 257.0L419.8 237.7L420.6 257.0Z" fill="#926b20"/>
<path d="M359.6 260.0L360.6 256.4L361.5 260.0Z" fill="#3c0c04"/>
<path d="M409.6 257.5L410.4 253.2L411.1 257.5Z" fill="#5d1f05"/>
<path d="M325.7 261.7L326.5 256.3L327.3 261.7Z" fill="#461204"/>
<path d="M380.7 259.0L381.4 255.4L382.1 259.0Z" fill="#3c0c04"/>
<path d="M350.9 260.5L351.6 255.2L352.3 260.5Z" fill="#682a07"/>
<path d="M330.1 261.6L331.1 254.6L332.1 261.6Z" fill="#6a2e08"/>
<path d="M356.4 260.3L357.1 248.6L357.8 260.3Z" fill="#855612"/>
<path d="M359.7 260.2L360.5 251.3L361.4 260.2Z" fill="#5e1f05"/>
<path d="M379.0 259.3L380.0 244.6L381.0 259.3Z" fill="#79440c"/>
<path d="M424.5 257.1L425.3 252.4L426.2 257.1Z" fill="#642606"/>
<path d="M319.6 262.3L320.7 253.3L321.9 262.3Z" fill="#7b470c"/>
<path d="M359.2 260.5L360.0 254.9L360.9 260.5Z" fill="#612105"/>
<path d="M395.5 258.7L396.6 254.9L397.7 258.7Z" fill="#441104"/>
<path d="M399.7 258.5L400.6 254.1L401.6 258.5Z" fill="#491304"/>
<path d="M318.3 262.6L319.3 255.3L320.4 262.6Z" fill="#6d3208"/>
<path d="M358.2 260.7L359.1 252.0L360.0 260.7Z" fill="#5c1f05"/>
<path d="M325.9 262.3L327.1 253.8L328.2 262.3Z" fill="#79440c"/>
<path d="M416.0 258.0L416.9 251.6L417.9 258.0Z" fill="#6d3209"/>
<path d="M376.6 260.0L377.6 256.3L378.6 260.0Z" fill="#4d1504"/>
<path d="M439.0 256.9L439.6 247.9L440.2 256.9Z" fill="#612105"/>
<path d="M387.2 259.5L387.9 242.4L388.7 259.5Z" fill="#9c7b2a"/>
<path d="M407.5 258.5L408.1 254.1L408.8 258.5Z" fill="#5f2005"/>
<path d="M402.4 258.8L403.1 252.1L403.7 258.8Z" fill="#5e1f05"/>
<path d="M333.2 262.2L334.0 254.7L334.8 262.2Z" fill="#682c07"/>
<path d="M373.4 260.3L374.3 242.7L375.3 260.3Z" fill="#977325"/>
<path d="M404.3 258.8L405.3 250.6L406.3 258.8Z" fill="#5d1f05"/>
<path d="M438.4 257.1L439.5 247.6L440.6 257.1Z" fill="#743c0a"/>
<path d="M386.1 259.7L386.8 253.9L387.5 259.7Z" fill="#501705"/>
<path d="M404.6 258.8L405.3 235.8L405.9 258.8Z" fill="#d7c8a0"/>
<path d="M334.7 262.3L335.5 257.5L336.4 262.3Z" fill="#431004"/>
<path d="M327.9 262.7L328.9 258.5L330.0 262.7Z" fill="#5c1e05"/>
<path d="M399.9 259.2L400.7 255.1L401.5 259.2Z" fill="#461204"/>
<path d="M358.0 261.2L358.5 257.6L359.1 261.2Z" fill="#410f04"/>
<path d="M399.1 259.2L399.8 255.3L400.6 259.2Z" fill="#4f1705"/>
<path d="M399.5 259.2L400.4 252.2L401.3 259.2Z" fill="#501705"/>
<path d="M351.9 261.6L352.6 257.0L353.3 261.6Z" fill="#3e0d04"/>
<path d="M440.6 257.4L441.4 250.6L442.2 257.4Z" fill="#682c07"/>
<path d="M406.1 259.1L407.2 254.4L408.2 259.1Z" fill="#481304"/>
<path d="M351.9 261.7L352.7 253.1L353.6 261.7Z" fill="#76400b"/>
<path d="M315.6 263.5L316.4 253.4L317.3 263.5Z" fill="#7a450c"/>
<path d="M435.7 257.7L436.5 241.6L437.2 257.7Z" fill="#9b7828"/>
<path d="M430.1 258.0L431.2 250.0L432.3 258.0Z" fill="#521905"/>
<path d="M422.2 258.4L422.8 252.4L423.5 258.4Z" fill="#632406"/>
<path d="M377.6 260.6L378.3 255.3L379.0 260.6Z" fill="#5c1e05"/>
<path d="M419.2 258.5L420.3 248.7L421.3 258.5Z" fill="#602105"/>
<path d="M403.4 259.4L404.2 253.5L405.0 259.4Z" fill="#481304"/>
<path d="M405.6 259.3L406.2 255.5L406.8 259.3Z" fill="#4e1604"/>
<path d="M363.6 261.3L364.8 253.2L365.9 261.3Z" fill="#541a05"/>
<path d="M366.8 261.2L367.4 252.7L367.9 261.2Z" fill="#723a0a"/>
<path d="M345.0 262.2L346.2 258.0L347.3 262.2Z" fill="#5f2005"/>
<path d="M374.7 260.8L375.6 248.8L376.6 260.8Z" fill="#7c480d"/>
<path d="M320.4 263.4L321.2 259.4L322.1 263.4Z" fill="#561b05"/>
<path d="M390.6 260.0L391.5 252.9L392.3 260.0Z" fill="#5d1f05"/>
<path d="M412.1 259.0L413.0 247.0L413.8 259.0Z" fill="#875814"/>
<path d="M425.4 258.4L426.2 253.6L427.1 258.4Z" fill="#431004"/>
<path d="M313.4 263.9L314.4 258.4L315.4 263.9Z" fill="#501805"/>
<path d="M432.8 258.1L433.7 235.2L434.6 258.1Z" fill="#bba466"/>
<path d="M387.0 260.3L388.0 253.0L388.9 260.3Z" fill="#6e3409"/>
<path d="M383.7 260.6L384.8 255.5L385.8 260.6Z" fill="#632406"/>
<path d="M363.2 261.6L364.2 238.6L365.3 261.6Z" fill="#d7c8a0"/>
<path d="M394.5 260.2L395.1 242.4L395.7 260.2Z" fill="#8b5f19"/>
<path d="M349.7 262.4L350.5 258.1L351.2 262.4Z" fill="#4a1404"/>
<path d="M387.0 260.6L387.6 254.2L388.2 260.6Z" fill="#652706"/>
<path d="M333.1 263.2L334.2 255.4L335.4 263.2Z" fill="#622206"/>
<path d="M357.3 262.1L358.2 242.8L359.2 262.1Z" fill="#cdbb8c"/>
<path d="M395.0 260.2L396.1 253.2L397.2 260.2Z" fill="#6d3209"/>
<path d="M330.3 263.4L331.1 256.7L332.0 263.4Z" fill="#5c1e05"/>
<path d="M372.4 261.4L373.5 251.2L374.5 261.4Z" fill="#81500f"/>
<path d="M319.8 264.0L320.4 245.4L321.1 264.0Z" fill="#8e641b"/>
<path d="M361.0 262.0L362.0 256.5L363.0 262.0Z" fill="#672a07"/>
<path d="M352.7 262.4L353.7 258.7L354.8 262.4Z" fill="#5e2005"/>
<path d="M392.9 260.5L393.5 256.8L394.2 260.5Z" fill="#3f0e04"/>
<path d="M377.7 261.3L378.7 256.5L379.7 261.3Z" fill="#591d05"/>
<path d="M380.5 261.2L381.6 255.0L382.7 261.2Z" fill="#6b2f08"/>
<path d="M322.9 264.0L323.5 259.1L324.2 264.0Z" fill="#571b05"/>
<path d="M345.9 263.0L346.6 257.4L347.2 263.0Z" fill="#662907"/>
<path d="M391.2 260.8L391.9 253.6L392.7 260.8Z" fill="#4e1604"/>
<path d="M402.5 260.2L403.2 254.7L404.0 260.2Z" fill="#4c1504"/>
<path d="M370.6 261.8L371.4 251.6L372.1 261.8Z" fill="#692d08"/>
<path d="M396.1 260.6L397.3 256.5L398.4 260.6Z" fill="#591c05"/>
<path d="M365.3 262.1L366.2 257.2L367.1 262.1Z" fill="#632406"/>
<path d="M415.4 259.7L416.5 255.6L417.7 259.7Z" fill="#4e1604"/>
<path d="M431.3 258.9L432.1 250.8L433.0 258.9Z" fill="#561b05"/>
<path d="M397.6 260.6L398.5 255.6L399.4 260.6Z" fill="#622206"/>
<path d="M380.9 261.4L381.6 257.8L382.3 261.4Z" fill="#581c05"/>
<path d="M315.8 264.5L316.5 253.4L317.2 264.5Z" fill="#672a07"/>
<path d="M340.4 263.3L341.4 246.6L342.5 263.3Z" fill="#895c17"/>
<path d="M360.0 262.4L360.5 248.4L361.1 262.4Z" fill="#936c20"/>
<path d="M427.0 259.2L427.9 243.4L428.8 259.2Z" fill="#957023"/>
<path d="M364.2 262.3L364.8 255.3L365.4 262.3Z" fill="#6b2f08"/>
<path d="M427.8 259.2L428.9 250.5L430.0 259.2Z" fill="#622206"/>
<path d="M354.0 262.8L354.6 256.4L355.2 262.8Z" fill="#5a1d05"/>
<path d="M428.2 259.3L429.0 255.5L429.8 259.3Z" fill="#551a05"/>
<path d="M433.6 259.0L434.6 247.2L435.7 259.0Z" fill="#6e3409"/>
<path d="M379.4 261.7L380.4 255.6L381.4 261.7Z" fill="#591d05"/>
<path d="M355.3 262.9L356.0 256.2L356.8 262.9Z" fill="#652606"/>
<path d="M351.3 263.1L352.2 259.5L353.1 263.1Z" fill="#5d1f05"/>
<path d="M359.8 262.7L360.9 256.8L362.0 262.7Z" fill="#612105"/>
<path d="M407.0 260.5L407.9 254.5L408.7 260.5Z" fill="#531905"/>
<path d="M343.0 263.6L343.7 257.7L344.5 263.6Z" fill="#682a07"/>
<path d="M404.5 260.7L405.3 256.1L406.1 260.7Z" fill="#521905"/>
<path d="M350.6 263.3L351.3 258.7L352.0 263.3Z" fill="#5a1d05"/>
<path d="M360.5 262.8L361.2 251.0L361.9 262.8Z" fill="#875814"/>
<path d="M432.0 259.4L433.0 249.2L434.1 259.4Z" fill="#662807"/>
<path d="M358.6 263.0L359.6 259.1L360.7 263.0Z" fill="#5b1e05"/>
<path d="M313.9 265.1L315.0 257.2L316.1 265.1Z" fill="#5d1f05"/>
<path d="M437.2 259.2L438.0 236.2L438.7 259.2Z" fill="#d7c8a0"/>
<path d="M425.2 259.8L426.2 254.7L427.1 259.8Z" fill="#511805"/>
<path d="M424.9 259.8L425.7 254.5L426.4 259.8Z" fill="#571b05"/>
<path d="M347.8 263.5L348.5 258.5L349.3 263.5Z" fill="#420f04"/>
<path d="M409.8 260.6L410.7 250.7L411.6 260.6Z" fill="#78420b"/>
<path d="M326.9 264.6L328.0 256.9L329.2 264.6Z" fill="#6d3208"/>
<path d="M353.0 263.4L353.9 258.7L354.9 263.4Z" fill="#431004"/>
<path d="M355.0 263.3L356.1 247.9L357.2 263.3Z" fill="#926a1f"/>
<path d="M323.7 264.8L324.9 250.3L326.0 264.8Z" fill="#8f651c"/>
<path d="M433.6 259.6L434.2 242.5L434.9 259.6Z" fill="#90681e"/>
<path d="M372.2 262.5L372.9 253.9L373.7 262.5Z" fill="#692c07"/>
<path d="M347.7 263.7L348.5 260.1L349.3 263.7Z" fill="#561b05"/>
<path d="M368.0 262.8L368.7 253.3L369.4 262.8Z" fill="#6f3509"/>
<path d="M409.1 260.8L409.7 254.0L410.2 260.8Z" fill="#581c05"/>
<path d="M393.3 261.6L394.1 251.2L394.9 261.6Z" fill="#71390a"/>
<path d="M404.5 261.1L405.5 256.5L406.5 261.1Z" fill="#451104"/>
<path d="M379.0 262.3L380.1 254.3L381.2 262.3Z" fill="#6f3509"/>
<path d="M335.4 264.4L336.1 260.9L336.8 264.4Z" fill="#501705"/>
<path d="M346.3 264.0L347.0 259.9L347.7 264.0Z" fill="#491304"/>
<path d="M317.9 265.4L318.9 246.6L319.8 265.4Z" fill="#b19651"/>
<path d="M382.3 262.3L383.3 251.5L384.2 262.3Z" fill="#855713"/>
<path d="M332.8 264.7L333.7 257.3L334.6 264.7Z" fill="#4f1705"/>
<path d="M341.1 264.3L341.7 259.6L342.4 264.3Z" fill="#471204"/>
<path d="M319.7 265.3L320.6 251.6L321.4 265.3Z" fill="#733c0a"/>
<path d="M413.7 260.9L414.8 257.1L415.9 260.9Z" fill="#410f04"/>
<path d="M343.0 264.3L343.8 257.7L344.6 264.3Z" fill="#672a07"/>
<path d="M439.1 259.7L440.1 255.7L441.0 259.7Z" fill="#3c0c04"/>
<path d="M382.3 262.5L383.4 249.2L384.5 262.5Z" fill="#7c480d"/>
<path d="M344.8 264.3L345.6 258.1L346.4 264.3Z" fill="#501705"/>
<path d="M355.6 263.9L356.6 254.6L357.5 263.9Z" fill="#78430c"/>
<path d="M349.5 264.2L350.4 256.0L351.3 264.2Z" fill="#591d05"/>
<path d="M313.3 266.0L313.9 255.3L314.6 266.0Z" fill="#672a07"/>
<path d="M414.8 261.1L415.6 253.0L416.3 261.1Z" fill="#703709"/>
<path d="M313.1 266.0L314.1 254.0L315.1 266.0Z" fill="#804e0e"/>
<path d="M357.7 263.9L358.4 257.7L359.2 263.9Z" fill="#6a2d08"/>
<path d="M342.7 264.6L343.4 259.2L344.0 264.6Z" fill="#461204"/>
<path d="M367.0 263.5L368.0 258.1L369.0 263.5Z" fill="#4f1705"/>
<path d="M317.5 265.9L318.3 262.1L319.0 265.9Z" fill="#5b1e05"/>
<path d="M326.4 265.5L327.1 251.0L327.7 265.5Z" fill="#81510f"/>
<path d="M346.0 264.6L347.1 256.3L348.2 264.6Z" fill="#662807"/>
<path d="M333.7 265.2L334.8 261.6L335.9 265.2Z" fill="#491404"/>
<path d="M422.8 260.9L423.6 254.4L424.5 260.9Z" fill="#602105"/>
<path d="M327.4 265.5L328.1 253.4L328.7 265.5Z" fill="#76400b"/>
<path d="M323.3 265.7L323.9 251.8L324.6 265.7Z" fill="#967124"/>
<path d="M356.4 264.2L357.1 256.3L357.7 264.2Z" fill="#642506"/>
<path d="M428.6 260.7L429.7 252.4L430.8 260.7Z" fill="#652606"/>
<path d="M317.7 266.1L318.4 261.9L319.0 266.1Z" fill="#481304"/>
<path d="M424.5 261.0L425.3 252.0L426.0 261.0Z" fill="#662707"/>
<path d="M400.5 262.1L401.2 246.3L401.9 262.1Z" fill="#a38333"/>
<path d="M379.0 263.2L380.1 251.8L381.1 263.2Z" fill="#662807"/>
<path d="M418.6 261.4L419.3 252.7L420.0 261.4Z" fill="#5a1d05"/>
<path d="M379.6 263.3L380.1 257.0L380.7 263.3Z" fill="#692c07"/>
<path d="M335.6 265.5L336.4 255.4L337.2 265.5Z" fill="#602005"/>
<path d="M428.1 261.1L429.3 255.7L430.4 261.1Z" fill="#431004"/>
<path d="M331.5 265.8L332.6 260.5L333.7 265.8Z" fill="#622206"/>
<path d="M316.8 266.5L317.3 253.0L317.9 266.5Z" fill="#79450c"/>
<path d="M386.8 263.2L388.0 257.5L389.1 263.2Z" fill="#5d1f05"/>
<path d="M416.5 261.9L417.2 251.2L418.0 261.9Z" fill="#703709"/>
<path d="M422.9 261.6L423.9 248.8L425.0 261.6Z" fill="#733b0a"/>
<path d="M438.8 260.9L439.5 247.0L440.2 260.9Z" fill="#946d21"/>
<path d="M312.6 266.9L313.2 249.6L313.9 266.9Z" fill="#8d621a"/>
<path d="M437.7 261.0L438.5 244.8L439.4 261.0Z" fill="#835311"/>
<path d="M331.3 266.0L332.2 260.8L333.2 266.0Z" fill="#642506"/>
<path d="M311.1 267.0L312.1 256.1L313.1 267.0Z" fill="#6b2f08"/>
<path d="M440.0 261.0L440.6 257.5L441.2 261.0Z" fill="#571c05"/>
<path d="M353.5 265.1L354.0 261.0L354.6 265.1Z" fill="#5e1f05"/>
<path d="M344.9 265.6L345.6 261.4L346.2 265.6Z" fill="#410f04"/>
<path d="M426.8 261.7L427.7 257.6L428.6 261.7Z" fill="#561b05"/>
<path d="M388.2 263.5L388.9 254.2L389.5 263.5Z" fill="#743c0a"/>
<path d="M411.3 262.4L412.0 239.4L412.6 262.4Z" fill="#c3ae76"/>
<path d="M370.0 264.5L370.7 260.2L371.5 264.5Z" fill="#410f04"/>
<path d="M322.6 266.8L323.5 262.1L324.5 266.8Z" fill="#491404"/>
<path d="M408.3 262.7L409.3 257.3L410.3 262.7Z" fill="#410f04"/>
<path d="M374.6 264.3L375.4 260.5L376.2 264.3Z" fill="#481304"/>
<path d="M343.6 265.8L344.6 259.3L345.7 265.8Z" fill="#6a2e08"/>
<path d="M321.1 266.9L322.2 261.7L323.2 266.9Z" fill="#622306"/>
<path d="M422.0 262.2L423.1 258.4L424.2 262.2Z" fill="#441004"/>
<path d="M432.5 261.7L433.5 255.7L434.5 261.7Z" fill="#602005"/>
<path d="M331.0 266.5L331.6 260.5L332.2 266.5Z" fill="#471204"/>
<path d="M329.1 266.6L330.2 254.5L331.4 266.6Z" fill="#682b07"/>
<path d="M439.8 261.4L440.6 241.7L441.4 261.4Z" fill="#d4c59b"/>
<path d="M323.6 266.9L324.5 254.0L325.4 266.9Z" fill="#825110"/>
<path d="M426.1 262.1L426.7 256.6L427.3 262.1Z" fill="#652606"/>
<path d="M362.2 265.1L362.9 255.7L363.7 265.1Z" fill="#79450c"/>
<path d="M404.7 263.1L405.6 259.2L406.5 263.1Z" fill="#3c0c04"/>
<path d="M413.3 262.8L414.2 257.9L415.1 262.8Z" fill="#491304"/>
<path d="M323.3 267.1L324.1 260.9L324.8 267.1Z" fill="#632306"/>
<path d="M352.4 265.8L353.0 261.5L353.6 265.8Z" fill="#461204"/>
<path d="M360.5 265.4L361.2 253.5L362.0 265.4Z" fill="#78420b"/>
<path d="M339.6 266.4L340.7 260.5L341.9 266.4Z" fill="#481304"/>
<path d="M356.2 265.6L357.1 261.2L358.0 265.6Z" fill="#491304"/>
<path d="M393.0 263.9L393.9 255.3L394.7 263.9Z" fill="#571b05"/>
<path d="M353.0 265.9L353.8 260.3L354.6 265.9Z" fill="#622306"/>
<path d="M438.2 261.9L439.3 249.3L440.3 261.9Z" fill="#8e641b"/>
<path d="M430.6 262.3L431.5 253.1L432.3 262.3Z" fill="#632406"/>
<path d="M395.6 264.0L396.6 259.8L397.6 264.0Z" fill="#461204"/>
<path d="M375.5 264.9L376.6 261.0L377.6 264.9Z" fill="#3e0d04"/>
<path d="M314.9 267.9L315.6 263.5L316.2 267.9Z" fill="#491304"/>
<path d="M400.8 263.8L401.8 259.5L402.8 263.8Z" fill="#5b1e05"/>
<path d="M413.3 263.2L414.4 258.5L415.5 263.2Z" fill="#622206"/>
<path d="M336.2 266.9L337.1 260.6L338.0 266.9Z" fill="#662807"/>
<path d="M419.2 263.0L420.2 258.3L421.3 263.0Z" fill="#410e04"/>
<path d="M403.9 263.7L405.0 259.8L406.0 263.7Z" fill="#3c0c04"/>
<path d="M314.0 268.0L314.7 262.8L315.5 268.0Z" fill="#561b05"/>
<path d="M314.7 268.0L315.7 264.4L316.7 268.0Z" fill="#5b1d05"/>
<path d="M316.2 268.0L317.1 258.6L318.1 268.0Z" fill="#6b3008"/>
<path d="M357.3 266.1L358.0 260.9L358.7 266.1Z" fill="#461104"/>
<path d="M427.1 262.8L428.1 239.8L429.0 262.8Z" fill="#d7c8a0"/>
<path d="M422.8 263.1L423.5 255.8L424.2 263.1Z" fill="#692c07"/>
<path d="M318.6 268.0L319.2 254.4L319.9 268.0Z" fill="#8b6019"/>
<path d="M401.5 264.1L402.2 241.2L402.8 264.1Z" fill="#d6c79e"/>
<path d="M393.6 264.5L394.3 260.7L394.9 264.5Z" fill="#5c1e05"/>
<path d="M328.0 267.6L328.7 257.8L329.5 267.6Z" fill="#79440c"/>
<path d="M319.8 268.1L320.6 261.0L321.5 268.1Z" fill="#612105"/>
<path d="M433.1 262.8L434.1 256.0L435.2 262.8Z" fill="#6e3409"/>
<path d="M348.7 266.8L349.6 262.9L350.5 266.8Z" fill="#3c0c04"/>
<path d="M435.9 262.8L436.6 258.2L437.2 262.8Z" fill="#400e04"/>
<path d="M393.5 264.7L394.6 257.0L395.8 264.7Z" fill="#531905"/>
<path d="M364.2 266.1L365.3 257.0L366.4 266.1Z" fill="#77410b"/>
<path d="M383.1 265.3L384.0 260.7L384.8 265.3Z" fill="#581c05"/>
<path d="M334.3 267.6L335.2 263.5L336.1 267.6Z" fill="#3c0c04"/>
<path d="M323.0 268.2L323.9 258.9L324.9 268.2Z" fill="#672907"/>
<path d="M381.6 265.5L382.7 260.6L383.8 265.5Z" fill="#5b1e05"/>
<path d="M379.2 265.6L380.2 255.7L381.1 265.6Z" fill="#632406"/>
<path d="M325.8 268.1L326.6 258.0L327.5 268.1Z" fill="#79440c"/>
<path d="M374.2 265.8L374.9 256.7L375.7 265.8Z" fill="#77420b"/>
<path d="M323.5 268.3L324.1 258.6L324.7 268.3Z" fill="#662807"/>
<path d="M418.5 263.9L419.4 258.6L420.2 263.9Z" fill="#521805"/>
<path d="M359.9 266.6L360.9 262.2L361.9 266.6Z" fill="#5d1f05"/>
<path d="M373.2 266.0L374.1 253.5L375.0 266.0Z" fill="#855613"/>
<path d="M329.5 268.1L330.1 262.0L330.7 268.1Z" fill="#471204"/>
<path d="M441.0 262.9L442.1 259.0L443.1 262.9Z" fill="#511805"/>
<path d="M399.4 264.9L400.4 260.9L401.5 264.9Z" fill="#531905"/>
<path d="M441.9 263.0L442.6 255.4L443.3 263.0Z" fill="#652606"/>
<path d="M354.0 267.1L355.0 258.1L356.1 267.1Z" fill="#612105"/>
<path d="M341.4 267.7L342.5 262.9L343.5 267.7Z" fill="#531905"/>
<path d="M315.9 269.0L316.8 256.7L317.6 269.0Z" fill="#7d490d"/>
<path d="M351.1 267.4L352.1 257.4L353.2 267.4Z" fill="#7d4a0d"/>
<path d="M404.4 265.0L405.3 260.9L406.2 265.0Z" fill="#3c0c04"/>
<path d="M408.0 264.8L408.7 258.6L409.3 264.8Z" fill="#571b05"/>
<path d="M353.3 267.4L354.1 263.5L354.8 267.4Z" fill="#3c0c04"/>
<path d="M391.2 265.6L392.0 252.0L392.7 265.6Z" fill="#733b0a"/>
<path d="M346.8 267.7L347.6 261.7L348.4 267.7Z" fill="#561b05"/>
<path d="M396.2 265.4L396.8 259.0L397.4 265.4Z" fill="#4d1604"/>
<path d="M401.5 265.3L402.3 260.0L403.1 265.3Z" fill="#541a05"/>
<path d="M386.3 266.0L387.0 262.1L387.7 266.0Z" fill="#4e1604"/>
<path d="M338.8 268.2L339.4 262.6L340.1 268.2Z" fill="#541905"/>
<path d="M413.8 264.7L414.5 259.3L415.3 264.7Z" fill="#622206"/>
<path d="M358.0 267.4L359.0 255.8L360.1 267.4Z" fill="#7e4b0d"/>
<path d="M325.1 268.9L325.7 260.9L326.3 268.9Z" fill="#6b3008"/>
<path d="M320.2 269.2L321.1 258.4L322.0 269.2Z" fill="#723a0a"/>
<path d="M374.4 266.7L375.3 257.8L376.2 266.7Z" fill="#652707"/>
<path d="M338.3 268.4L338.9 256.9L339.6 268.4Z" fill="#753e0b"/>
<path d="M322.7 269.2L323.6 263.0L324.4 269.2Z" fill="#4f1705"/>
<path d="M348.9 268.0L349.5 263.9L350.0 268.0Z" fill="#521905"/>
<path d="M432.1 264.1L433.2 257.9L434.4 264.1Z" fill="#602105"/>
<path d="M349.1 268.1L349.6 263.5L350.2 268.1Z" fill="#431004"/>
<path d="M332.5 268.9L333.1 261.5L333.7 268.9Z" fill="#682b07"/>
<path d="M424.8 264.5L425.9 252.9L427.0 264.5Z" fill="#743d0b"/>
<path d="M397.7 265.8L398.7 256.9L399.8 265.8Z" fill="#662807"/>
<path d="M347.9 268.2L348.8 264.4L349.7 268.2Z" fill="#551a05"/>
<path d="M353.7 267.9L354.3 263.1L354.9 267.9Z" fill="#461204"/>
<path d="M441.6 263.9L442.5 260.3L443.3 263.9Z" fill="#521805"/>
<path d="M312.4 269.9L313.0 262.8L313.5 269.9Z" fill="#632306"/>
<path d="M324.5 269.3L325.3 264.0L326.1 269.3Z" fill="#420f04"/>
<path d="M416.3 265.1L417.0 258.1L417.7 265.1Z" fill="#541a05"/>
<path d="M320.6 269.5L321.5 253.7L322.3 269.5Z" fill="#a38434"/>
<path d="M413.8 265.2L414.4 259.0L415.0 265.2Z" fill="#642606"/>
<path d="M415.1 265.3L415.9 261.6L416.8 265.3Z" fill="#4e1604"/>
<path d="M377.9 267.0L378.8 259.2L379.8 267.0Z" fill="#6b2f08"/>
<path d="M311.9 270.1L312.9 247.9L314.0 270.1Z" fill="#bea76b"/>
<path d="M341.2 268.8L342.1 264.3L342.9 268.8Z" fill="#3e0d04"/>
<path d="M332.9 269.2L333.9 263.5L334.9 269.2Z" fill="#551a05"/>
<path d="M360.6 267.9L361.3 263.9L362.1 267.9Z" fill="#431004"/>
<path d="M324.8 269.6L325.7 265.5L326.5 269.6Z" fill="#471204"/>
<path d="M331.3 269.3L332.1 252.5L332.9 269.3Z" fill="#987325"/>
<path d="M430.5 264.7L431.2 259.6L431.9 264.7Z" fill="#5f2005"/>
<path d="M365.5 267.8L366.5 260.2L367.5 267.8Z" fill="#561b05"/>
<path d="M406.4 265.9L407.5 257.2L408.6 265.9Z" fill="#763f0b"/>
<path d="M341.0 269.0L342.0 260.8L343.0 269.0Z" fill="#5f2005"/>
<path d="M419.7 265.4L420.6 256.1L421.6 265.4Z" fill="#591d05"/>
<path d="M406.7 266.0L407.6 262.2L408.5 266.0Z" fill="#541a05"/>
<path d="M396.2 266.6L396.8 263.1L397.4 266.6Z" fill="#410f04"/>
<path d="M329.2 269.7L330.1 263.7L331.1 269.7Z" fill="#5c1e05"/>
<path d="M314.3 270.4L314.9 266.7L315.5 270.4Z" fill="#551a05"/>
<path d="M333.5 269.6L334.3 263.2L335.1 269.6Z" fill="#632406"/>
<path d="M359.8 268.4L360.3 256.0L360.9 268.4Z" fill="#8a5e18"/>
<path d="M425.1 265.4L425.8 260.3L426.4 265.4Z" fill="#602105"/>
<path d="M415.4 265.9L416.3 258.7L417.1 265.9Z" fill="#632406"/>
<path d="M328.9 270.0L329.5 263.5L330.2 270.0Z" fill="#5b1e05"/>
<path d="M398.6 266.8L399.5 254.7L400.4 266.8Z" fill="#79450c"/>
<path d="M377.9 267.7L379.0 262.6L380.2 267.7Z" fill="#5f2005"/>
<path d="M327.1 270.1L327.7 259.7L328.3 270.1Z" fill="#753f0b"/>
<path d="M316.5 270.6L317.3 263.4L318.0 270.6Z" fill="#682b07"/>
<path d="M320.2 270.5L320.9 265.9L321.6 270.5Z" fill="#4e1604"/>
<path d="M416.7 266.1L417.5 254.3L418.3 266.1Z" fill="#78430c"/>
<path d="M326.0 270.3L326.9 256.7L327.8 270.3Z" fill="#733c0a"/>
<path d="M325.0 270.4L326.0 266.1L327.0 270.4Z" fill="#5f2005"/>
<path d="M434.2 265.5L434.9 260.5L435.7 265.5Z" fill="#622306"/>
<path d="M379.1 268.0L380.1 259.6L381.2 268.0Z" fill="#632406"/>
<path d="M423.3 266.0L424.0 262.4L424.7 266.0Z" fill="#3f0e04"/>
<path d="M347.2 269.6L347.8 261.9L348.5 269.6Z" fill="#642506"/>
<path d="M344.5 269.7L345.1 265.6L345.8 269.7Z" fill="#400e04"/>
<path d="M439.4 265.5L440.3 260.1L441.2 265.5Z" fill="#571c05"/>
<path d="M339.0 270.2L339.6 263.4L340.3 270.2Z" fill="#5f2005"/>
<path d="M424.3 266.4L424.9 254.5L425.5 266.4Z" fill="#7d4a0d"/>
<path d="M417.6 266.7L418.3 255.6L418.9 266.7Z" fill="#72390a"/>
<path d="M436.8 265.9L437.4 258.3L438.1 265.9Z" fill="#6b3008"/>
<path d="M387.3 268.2L388.2 263.4L389.1 268.2Z" fill="#3e0d04"/>
<path d="M370.4 269.0L371.0 263.9L371.6 269.0Z" fill="#5a1d05"/>
<path d="M405.0 267.5L405.5 262.8L406.1 267.5Z" fill="#481304"/>
<path d="M406.0 267.4L406.7 262.2L407.4 267.4Z" fill="#4e1604"/>
<path d="M439.2 266.0L440.3 261.2L441.4 266.0Z" fill="#521905"/>
<path d="M365.1 269.4L366.1 262.9L367.1 269.4Z" fill="#4c1504"/>
<path d="M415.4 267.1L416.3 253.3L417.1 267.1Z" fill="#946e22"/>
<path d="M418.6 267.1L419.2 262.5L419.8 267.1Z" fill="#5a1d05"/>
<path d="M440.0 266.1L440.9 255.9L441.8 266.1Z" fill="#79450c"/>
<path d="M319.6 271.6L320.5 251.2L321.4 271.6Z" fill="#c0ab71"/>
<path d="M427.0 266.7L428.0 253.6L429.1 266.7Z" fill="#6c3208"/>
<path d="M429.6 266.6L430.7 262.2L431.8 266.6Z" fill="#5c1e05"/>
<path d="M387.1 268.6L387.7 264.8L388.3 268.6Z" fill="#451104"/>
<path d="M384.4 268.7L385.4 265.1L386.4 268.7Z" fill="#3c0c04"/>
<path d="M361.9 269.8L362.5 263.3L363.1 269.8Z" fill="#632406"/>
<path d="M410.1 267.7L410.9 262.8L411.7 267.7Z" fill="#5f2005"/>
<path d="M402.3 268.0L403.4 263.4L404.5 268.0Z" fill="#491404"/>
<path d="M365.5 269.7L366.2 264.6L366.9 269.7Z" fill="#410f04"/>
<path d="M423.4 267.1L424.0 263.3L424.6 267.1Z" fill="#4a1404"/>
<path d="M365.2 269.8L366.3 259.2L367.3 269.8Z" fill="#804e0e"/>
<path d="M370.9 269.6L371.6 266.0L372.2 269.6Z" fill="#571c05"/>
<path d="M397.6 268.4L398.3 262.6L398.9 268.4Z" fill="#491304"/>
<path d="M423.7 267.3L424.3 261.2L424.9 267.3Z" fill="#501705"/>
<path d="M355.9 270.4L356.8 266.7L357.8 270.4Z" fill="#581c05"/>
<path d="M436.5 266.8L437.2 261.6L437.8 266.8Z" fill="#521905"/>
<path d="M345.9 270.9L346.7 256.7L347.5 270.9Z" fill="#967023"/>
<path d="M335.1 271.5L336.2 264.4L337.3 271.5Z" fill="#622206"/>
<path d="M344.3 271.1L345.0 266.6L345.7 271.1Z" fill="#511805"/>
<path d="M437.9 266.9L438.5 260.5L439.1 266.9Z" fill="#581c05"/>
<path d="M323.0 272.1L324.0 268.0L325.1 272.1Z" fill="#4d1604"/>
<path d="M312.6 272.7L313.2 265.1L313.8 272.7Z" fill="#5c1f05"/>
<path d="M387.3 269.3L388.3 263.6L389.4 269.3Z" fill="#431004"/>
<path d="M315.7 272.6L316.2 261.8L316.8 272.6Z" fill="#77410b"/>
<path d="M384.6 269.5L385.4 264.9L386.3 269.5Z" fill="#521905"/>
<path d="M393.7 269.2L394.8 263.4L395.9 269.2Z" fill="#602105"/>
<path d="M356.8 270.9L357.9 256.5L359.0 270.9Z" fill="#8f661d"/>
<path d="M437.7 267.2L438.6 262.0L439.4 267.2Z" fill="#421004"/>
<path d="M410.5 268.5L411.1 264.3L411.7 268.5Z" fill="#3c0c04"/>
<path d="M431.0 267.6L432.0 262.1L432.9 267.6Z" fill="#4b1504"/>
<path d="M413.7 268.4L414.4 263.9L415.0 268.4Z" fill="#4d1604"/>
<path d="M348.8 271.4L349.7 267.2L350.6 271.4Z" fill="#3d0c04"/>
<path d="M363.6 270.7L364.7 258.3L365.8 270.7Z" fill="#7c490d"/>
<path d="M441.6 267.3L442.7 260.7L443.8 267.3Z" fill="#531905"/>
<path d="M336.7 272.0L337.7 266.0L338.6 272.0Z" fill="#5e1f05"/>
<path d="M355.0 271.3L356.2 264.6L357.3 271.3Z" fill="#4b1504"/>
<path d="M427.9 268.0L428.8 264.4L429.7 268.0Z" fill="#4b1404"/>
<path d="M368.5 270.7L369.0 257.3L369.6 270.7Z" fill="#7b470c"/>
<path d="M439.9 267.5L440.8 260.1L441.7 267.5Z" fill="#511805"/>
<path d="M322.4 272.8L323.4 268.6L324.3 272.8Z" fill="#591d05"/>
<path d="M348.4 271.7L349.1 264.8L349.8 271.7Z" fill="#5a1d05"/>
<path d="M375.3 270.5L376.2 263.4L377.0 270.5Z" fill="#5b1e05"/>
<path d="M336.3 272.3L336.9 254.9L337.6 272.3Z" fill="#9e7e2b"/>
<path d="M414.8 268.8L415.3 263.6L415.9 268.8Z" fill="#4b1504"/>
<path d="M413.4 268.8L414.5 256.6L415.6 268.8Z" fill="#753e0b"/>
<path d="M404.0 269.3L404.6 262.8L405.2 269.3Z" fill="#591c05"/>
<path d="M312.9 273.4L313.7 268.2L314.4 273.4Z" fill="#471204"/>
<path d="M391.8 269.9L392.7 254.3L393.6 269.9Z" fill="#90671e"/>
<path d="M409.8 269.1L410.7 264.4L411.5 269.1Z" fill="#431004"/>
<path d="M387.4 270.1L388.3 258.9L389.2 270.1Z" fill="#814f0f"/>
<path d="M384.8 270.3L385.8 262.1L386.8 270.3Z" fill="#561b05"/>
<path d="M375.3 270.8L376.3 266.9L377.3 270.8Z" fill="#501805"/>
<path d="M327.4 273.0L328.4 261.6L329.4 273.0Z" fill="#77420b"/>
<path d="M387.9 270.3L388.7 264.3L389.6 270.3Z" fill="#4d1604"/>
<path d="M344.5 272.3L345.2 264.0L346.0 272.3Z" fill="#551a05"/>
<path d="M423.7 268.8L424.7 264.4L425.7 268.8Z" fill="#541905"/>
<path d="M364.0 271.5L365.2 257.7L366.3 271.5Z" fill="#7f4c0d"/>
<path d="M350.9 272.1L352.0 266.6L353.0 272.1Z" fill="#602105"/>
<path d="M371.0 271.2L371.9 262.1L372.8 271.2Z" fill="#763f0b"/>
<path d="M338.8 272.7L339.9 252.6L341.1 272.7Z" fill="#9d7c2a"/>
<path d="M319.1 273.6L320.0 259.3L321.0 273.6Z" fill="#743d0a"/>
<path d="M441.9 268.1L442.9 258.3L444.0 268.1Z" fill="#7b470c"/>
<path d="M413.7 269.5L414.3 256.1L414.9 269.5Z" fill="#7f4c0d"/>
<path d="M319.4 273.7L320.0 265.1L320.6 273.7Z" fill="#551a05"/>
<path d="M398.7 270.2L399.3 261.4L399.9 270.2Z" fill="#743d0a"/>
<path d="M423.0 269.1L423.8 263.4L424.7 269.1Z" fill="#4c1504"/>
<path d="M379.6 271.2L380.6 266.0L381.6 271.2Z" fill="#5c1e05"/>
<path d="M392.3 270.6L393.2 264.2L394.2 270.6Z" fill="#571b05"/>
<path d="M338.6 273.1L339.2 269.1L339.8 273.1Z" fill="#521905"/>
<path d="M438.6 268.6L439.8 257.4L440.9 268.6Z" fill="#662807"/>
<path d="M427.3 269.1L428.2 265.3L429.1 269.1Z" fill="#531905"/>
<path d="M423.7 269.3L424.3 265.0L424.9 269.3Z" fill="#4f1705"/>
<path d="M340.5 273.0L341.3 263.4L342.1 273.0Z" fill="#71380a"/>
<path d="M416.2 269.6L417.1 253.9L418.0 269.6Z" fill="#977224"/>
<path d="M343.5 272.9L344.5 267.7L345.6 272.9Z" fill="#541a05"/>
<path d="M408.8 270.1L409.8 250.2L410.9 270.1Z" fill="#c1ab72"/>
<path d="M430.5 269.2L431.0 261.9L431.6 269.2Z" fill="#6e3309"/>
<path d="M315.0 274.4L315.9 258.4L316.8 274.4Z" fill="#835311"/>
<path d="M408.8 270.3L409.8 265.1L410.8 270.3Z" fill="#3f0d04"/>
<path d="M438.7 269.0L439.3 264.4L439.9 269.0Z" fill="#4c1504"/>
<path d="M333.8 273.7L334.9 262.5L335.9 273.7Z" fill="#855612"/>
<path d="M350.2 273.0L351.0 269.0L351.7 273.0Z" fill="#501705"/>
<path d="M385.9 271.4L387.0 262.2L388.2 271.4Z" fill="#6e3409"/>
<path d="M358.8 272.7L359.7 264.4L360.6 272.7Z" fill="#743d0a"/>
<path d="M409.2 270.4L410.0 266.3L410.8 270.4Z" fill="#5e1f05"/>
<path d="M379.4 271.8L380.2 267.2L381.0 271.8Z" fill="#602105"/>
<path d="M334.0 273.8L335.1 258.8L336.2 273.8Z" fill="#936c20"/>
<path d="M339.1 273.7L340.0 263.5L341.0 273.7Z" fill="#622306"/>
<path d="M438.5 269.3L439.3 264.4L440.1 269.3Z" fill="#501705"/>
<path d="M359.1 272.8L359.9 264.4L360.7 272.8Z" fill="#6d3209"/>
<path d="M319.7 274.6L320.5 268.7L321.4 274.6Z" fill="#551a05"/>
<path d="M391.5 271.4L392.3 257.4L393.1 271.4Z" fill="#7a460c"/>
<path d="M357.1 272.9L358.0 267.0L358.8 272.9Z" fill="#672907"/>
<path d="M312.4 275.0L313.1 270.4L313.8 275.0Z" fill="#5a1d05"/>
<path d="M417.1 270.3L418.1 260.1L419.1 270.3Z" fill="#692d08"/>
<path d="M408.9 270.7L409.8 265.6L410.6 270.7Z" fill="#501705"/>
<path d="M398.3 271.2L399.0 267.0L399.7 271.2Z" fill="#420f04"/>
<path d="M333.3 274.2L334.0 267.0L334.7 274.2Z" fill="#612105"/>
<path d="M371.5 272.5L372.3 263.8L373.1 272.5Z" fill="#571b05"/>
<path d="M432.0 269.8L432.6 260.4L433.2 269.8Z" fill="#5f2005"/>
<path d="M357.7 273.2L358.4 268.9L359.0 273.2Z" fill="#4a1404"/>
<path d="M403.6 271.2L404.3 262.8L405.0 271.2Z" fill="#743d0a"/>
<path d="M407.3 271.0L408.1 263.6L409.0 271.0Z" fill="#5b1e05"/>
<path d="M313.6 275.2L314.7 270.5L315.8 275.2Z" fill="#3d0c04"/>
<path d="M336.9 274.2L337.6 268.8L338.3 274.2Z" fill="#642606"/>
<path d="M428.2 270.2L429.1 261.1L430.0 270.2Z" fill="#6a2e08"/>
<path d="M345.2 273.9L346.0 261.1L346.7 273.9Z" fill="#77420b"/>
<path d="M318.5 275.1L319.2 271.0L319.9 275.1Z" fill="#471204"/>
<path d="M327.8 274.8L328.8 270.5L329.8 274.8Z" fill="#511805"/>
<path d="M323.3 275.1L323.9 261.5L324.6 275.1Z" fill="#7b470c"/>
<path d="M353.1 273.7L353.9 269.9L354.8 273.7Z" fill="#3e0d04"/>
<path d="M346.8 274.0L347.7 263.8L348.7 274.0Z" fill="#743c0a"/>
<path d="M325.4 275.1L326.4 268.3L327.3 275.1Z" fill="#5a1d05"/>
<path d="M388.0 272.3L388.6 256.5L389.3 272.3Z" fill="#7b460c"/>
<path d="M429.1 270.8L429.7 261.6L430.4 270.8Z" fill="#642506"/>
<path d="M395.1 272.3L395.9 260.9L396.7 272.3Z" fill="#76400b"/>
<path d="M411.6 271.6L412.8 266.8L413.9 271.6Z" fill="#441004"/>
<path d="M414.9 271.5L415.5 265.3L416.0 271.5Z" fill="#561b05"/>
<path d="M333.0 275.1L334.0 269.6L335.1 275.1Z" fill="#662807"/>
<path d="M375.6 273.2L376.6 265.6L377.6 273.2Z" fill="#622306"/>
<path d="M438.4 270.5L439.5 260.8L440.7 270.5Z" fill="#7c480d"/>
<path d="M434.1 270.7L435.0 263.9L436.0 270.7Z" fill="#501705"/>
<path d="M337.7 275.0L338.3 265.5L338.9 275.0Z" fill="#6a2f08"/>
<path d="M405.6 272.1L406.2 261.7L406.9 272.1Z" fill="#78420b"/>
<path d="M326.7 275.6L327.7 270.8L328.8 275.6Z" fill="#4d1504"/>
<path d="M403.1 272.2L404.2 265.6L405.3 272.2Z" fill="#5a1d05"/>
<path d="M336.1 275.2L336.8 269.1L337.4 275.2Z" fill="#5c1e05"/>
<path d="M394.2 272.6L395.2 267.4L396.3 272.6Z" fill="#400e04"/>
<path d="M439.9 270.6L440.6 256.8L441.4 270.6Z" fill="#743d0a"/>
<path d="M419.8 271.5L420.8 265.9L421.8 271.5Z" fill="#491304"/>
<path d="M377.0 273.6L377.7 269.7L378.3 273.6Z" fill="#3c0c04"/>
<path d="M350.6 274.8L351.2 271.1L351.8 274.8Z" fill="#511805"/>
<path d="M387.7 273.2L388.5 269.1L389.3 273.2Z" fill="#5d1f05"/>
<path d="M374.0 273.8L374.9 270.2L375.9 273.8Z" fill="#471204"/>
<path d="M429.6 271.4L430.5 266.8L431.5 271.4Z" fill="#511805"/>
<path d="M329.7 275.8L330.5 271.2L331.3 275.8Z" fill="#431004"/>
<path d="M368.3 274.2L369.4 270.5L370.4 274.2Z" fill="#511805"/>
<path d="M364.8 274.3L365.8 270.6L366.7 274.3Z" fill="#420f04"/>
<path d="M383.3 273.6L383.9 268.5L384.5 273.6Z" fill="#471204"/>
<path d="M359.2 274.7L359.9 260.7L360.5 274.7Z" fill="#875914"/>
<path d="M314.5 276.6L315.3 259.8L316.1 276.6Z" fill="#835311"/>
<path d="M405.6 272.8L406.4 269.0L407.3 272.8Z" fill="#481304"/>
<path d="M395.6 273.2L396.6 265.5L397.6 273.2Z" fill="#581c05"/>
<path d="M442.6 271.2L443.7 260.0L444.8 271.2Z" fill="#672a07"/>
<path d="M356.3 275.0L356.9 263.9L357.5 275.0Z" fill="#835311"/>
<path d="M422.8 272.1L423.7 266.0L424.6 272.1Z" fill="#541905"/>
<path d="M379.1 274.0L380.3 270.5L381.4 274.0Z" fill="#3c0c04"/>
<path d="M410.3 272.7L411.4 268.2L412.4 272.7Z" fill="#501705"/>
<path d="M368.8 274.6L369.9 270.2L371.1 274.6Z" fill="#4f1705"/>
<path d="M317.6 276.9L318.5 262.0L319.5 276.9Z" fill="#9a7627"/>
<path d="M436.9 271.7L437.8 264.7L438.6 271.7Z" fill="#581c05"/>
<path d="M427.1 272.2L428.0 267.7L428.9 272.2Z" fill="#471204"/>
<path d="M389.8 273.9L390.9 269.7L391.9 273.9Z" fill="#581c05"/>
<path d="M416.2 272.7L417.3 268.7L418.4 272.7Z" fill="#4d1504"/>
<path d="M356.1 275.5L356.9 271.2L357.7 275.5Z" fill="#4e1604"/>
<path d="M374.1 274.8L374.7 258.3L375.3 274.8Z" fill="#977325"/>
<path d="M342.5 276.2L343.4 270.5L344.2 276.2Z" fill="#571c05"/>
<path d="M381.5 274.5L382.6 266.6L383.8 274.5Z" fill="#6f3509"/>
<path d="M412.5 273.2L413.6 269.7L414.7 273.2Z" fill="#431004"/>
<path d="M343.3 276.2L344.4 271.2L345.4 276.2Z" fill="#521805"/>
<path d="M331.3 276.8L332.3 272.4L333.3 276.8Z" fill="#4d1604"/>
<path d="M362.0 275.5L363.0 271.9L363.9 275.5Z" fill="#3c0c04"/>
<path d="M403.2 273.7L403.9 265.7L404.5 273.7Z" fill="#723a0a"/>
<path d="M361.5 275.5L362.4 269.9L363.2 275.5Z" fill="#5f2005"/>
<path d="M365.4 275.4L366.3 270.8L367.2 275.4Z" fill="#420f04"/>
<path d="M407.6 273.6L408.6 265.5L409.7 273.6Z" fill="#612105"/>
<path d="M380.3 274.8L381.2 258.7L382.1 274.8Z" fill="#967023"/>
<path d="M384.7 274.6L385.5 261.0L386.3 274.6Z" fill="#8c611a"/>
<path d="M414.8 273.3L415.6 267.6L416.4 273.3Z" fill="#5c1e05"/>
<path d="M347.9 276.3L348.7 269.8L349.5 276.3Z" fill="#5e2005"/>
<path d="M404.7 273.8L405.4 253.4L406.1 273.8Z" fill="#af934c"/>
<path d="M403.9 273.9L404.9 263.8L405.9 273.9Z" fill="#703709"/>
<path d="M319.0 277.6L319.8 271.4L320.6 277.6Z" fill="#521905"/>
<path d="M393.2 274.4L393.8 263.5L394.3 274.4Z" fill="#6d3208"/>
<path d="M341.7 276.7L342.5 267.7L343.3 276.7Z" fill="#78420b"/>
<path d="M355.6 276.1L356.2 262.9L356.8 276.1Z" fill="#875914"/>
<path d="M356.4 276.1L357.0 272.2L357.7 276.1Z" fill="#4b1504"/>
<path d="M389.2 274.6L390.4 265.1L391.5 274.6Z" fill="#733b0a"/>
<path d="M352.6 276.3L353.6 269.0L354.6 276.3Z" fill="#5e1f05"/>
<path d="M431.4 272.9L432.1 268.5L432.8 272.9Z" fill="#4a1404"/>
<path d="M380.2 275.1L381.3 268.3L382.3 275.1Z" fill="#5e1f05"/>
<path d="M438.4 272.6L439.3 249.6L440.2 272.6Z" fill="#b19751"/>
<path d="M319.8 277.8L320.7 254.8L321.6 277.8Z" fill="#b49a57"/>
<path d="M437.6 272.7L438.7 249.7L439.8 272.7Z" fill="#d7c8a0"/>
<path d="M368.6 275.7L369.5 271.7L370.4 275.7Z" fill="#3c0c04"/>
<path d="M415.3 273.7L416.4 258.1L417.5 273.7Z" fill="#885b16"/>
<path d="M339.0 277.1L339.6 265.2L340.3 277.1Z" fill="#885a15"/>
<path d="M392.1 274.8L392.8 268.0L393.6 274.8Z" fill="#5f2005"/>
<path d="M332.1 277.5L332.8 273.9L333.6 277.5Z" fill="#4f1705"/>
<path d="M386.7 275.1L387.3 253.3L387.9 275.1Z" fill="#d1c094"/>
<path d="M355.6 276.5L356.4 270.0L357.1 276.5Z" fill="#581c05"/>
<path d="M320.5 278.0L321.6 273.1L322.7 278.0Z" fill="#5f2005"/>
<path d="M408.6 274.2L409.1 268.4L409.7 274.2Z" fill="#521905"/>
<path d="M409.3 274.2L410.0 264.0L410.7 274.2Z" fill="#5d1f05"/>
<path d="M434.4 273.1L435.3 261.6L436.2 273.1Z" fill="#7b470c"/>
<path d="M438.9 273.0L439.6 267.7L440.4 273.0Z" fill="#642506"/>
<path d="M412.1 274.2L412.6 265.4L413.2 274.2Z" fill="#652706"/>
<path d="M406.8 274.4L407.6 270.1L408.4 274.4Z" fill="#481204"/>
<path d="M434.0 273.3L434.7 266.4L435.4 273.3Z" fill="#5a1d05"/>
<path d="M440.0 273.1L440.8 265.0L441.5 273.1Z" fill="#71380a"/>
<path d="M396.7 275.0L397.8 267.4L398.8 275.0Z" fill="#682a07"/>
<path d="M341.1 277.4L342.1 271.6L343.2 277.4Z" fill="#602105"/>
<path d="M332.7 277.8L333.3 258.2L333.9 277.8Z" fill="#977224"/>
<path d="M357.9 276.8L359.0 270.9L360.1 276.8Z" fill="#4e1604"/>
<path d="M407.0 274.7L408.0 270.5L409.1 274.7Z" fill="#3f0e04"/>
<path d="M415.5 274.3L416.5 265.0L417.5 274.3Z" fill="#79440c"/>
<path d="M416.4 274.3L417.3 270.1L418.2 274.3Z" fill="#551a05"/>
<path d="M437.4 273.4L438.2 269.8L439.0 273.4Z" fill="#4b1404"/>
<path d="M331.6 278.0L332.3 268.2L333.0 278.0Z" fill="#6b2f08"/>
<path d="M408.4 274.7L409.1 265.9L409.8 274.7Z" fill="#662907"/>
<path d="M420.5 274.2L421.3 261.4L422.2 274.2Z" fill="#79440c"/>
<path d="M386.1 275.7L386.9 272.0L387.7 275.7Z" fill="#3d0d04"/>
<path d="M351.1 277.2L352.2 271.9L353.2 277.2Z" fill="#481304"/>
<path d="M402.4 275.0L403.5 266.7L404.5 275.0Z" fill="#6a2e08"/>
<path d="M391.1 275.5L392.0 270.3L392.9 275.5Z" fill="#5e1f05"/>
<path d="M328.5 278.3L329.1 274.4L329.7 278.3Z" fill="#531905"/>
<path d="M391.8 275.5L392.9 271.0L393.9 275.5Z" fill="#521805"/>
<path d="M315.7 278.8L316.9 271.1L318.0 278.8Z" fill="#6a2e08"/>
<path d="M327.4 278.4L328.1 274.6L328.7 278.4Z" fill="#431004"/>
<path d="M416.3 274.5L417.4 269.4L418.5 274.5Z" fill="#622206"/>
<path d="M396.8 275.4L397.7 261.1L398.6 275.4Z" fill="#71390a"/>
<path d="M411.9 274.8L412.9 270.8L413.8 274.8Z" fill="#511805"/>
<path d="M439.3 273.6L439.9 268.0L440.6 273.6Z" fill="#602105"/>
<path d="M333.6 278.2L334.4 273.4L335.2 278.2Z" fill="#3f0d04"/>
<path d="M417.7 274.6L418.6 270.2L419.6 274.6Z" fill="#451104"/>
<path d="M355.6 277.3L356.5 272.1L357.4 277.3Z" fill="#431004"/>
<path d="M364.1 277.0L364.9 261.2L365.6 277.0Z" fill="#8f651c"/>
<path d="M364.0 277.1L364.7 270.7L365.4 277.1Z" fill="#5f2005"/>
<path d="M397.7 275.6L398.6 255.1L399.5 275.6Z" fill="#997526"/>
<path d="M326.9 278.8L327.8 265.0L328.8 278.8Z" fill="#845412"/>
<path d="M391.0 276.0L391.8 264.7L392.7 276.0Z" fill="#682b07"/>
<path d="M385.5 276.3L386.7 267.8L387.8 276.3Z" fill="#642506"/>
<path d="M316.0 279.3L316.8 275.0L317.5 279.3Z" fill="#571b05"/>
<path d="M417.1 274.9L418.3 268.9L419.4 274.9Z" fill="#672a07"/>
<path d="M400.5 275.7L401.6 261.6L402.6 275.7Z" fill="#723a0a"/>
<path d="M414.5 275.2L415.2 271.3L415.8 275.2Z" fill="#400e04"/>
<path d="M379.2 276.7L380.0 272.1L380.8 276.7Z" fill="#501705"/>
<path d="M384.2 276.5L385.0 269.9L385.8 276.5Z" fill="#481304"/>
<path d="M321.2 279.2L322.2 275.0L323.2 279.2Z" fill="#3c0c04"/>
<path d="M333.0 278.7L333.7 264.8L334.4 278.7Z" fill="#7b470c"/>
<path d="M360.9 277.6L361.5 269.5L362.2 277.6Z" fill="#71380a"/>
<path d="M378.1 276.8L379.0 269.2L379.9 276.8Z" fill="#6a2e08"/>
<path d="M330.7 278.9L331.5 265.1L332.4 278.9Z" fill="#90681e"/>
<path d="M406.4 275.7L407.3 264.1L408.2 275.7Z" fill="#78430c"/>
<path d="M381.9 276.8L382.5 271.4L383.1 276.8Z" fill="#561b05"/>
<path d="M350.9 278.2L351.6 272.6L352.3 278.2Z" fill="#501705"/>
<path d="M418.7 275.3L419.5 269.4L420.4 275.3Z" fill="#581c05"/>
<path d="M328.8 279.2L329.7 267.7L330.7 279.2Z" fill="#79440c"/>
<path d="M361.0 277.9L362.0 269.4L363.0 277.9Z" fill="#6e3409"/>
<path d="M337.6 278.9L338.2 274.6L338.8 278.9Z" fill="#5d1f05"/>
<path d="M392.0 276.6L393.0 272.2L394.1 276.6Z" fill="#3d0c04"/>
<path d="M337.7 278.9L338.6 271.6L339.5 278.9Z" fill="#551b05"/>
<path d="M383.3 277.0L384.0 269.2L384.6 277.0Z" fill="#602105"/>
<path d="M407.3 275.9L407.8 269.9L408.4 275.9Z" fill="#441104"/>
<path d="M396.3 276.4L397.0 258.9L397.6 276.4Z" fill="#a48536"/>
<path d="M374.4 277.3L375.5 265.8L376.5 277.3Z" fill="#6a2d08"/>
<path d="M385.4 276.9L386.0 271.7L386.5 276.9Z" fill="#521805"/>
<path d="M367.4 277.7L368.2 271.9L369.0 277.7Z" fill="#672907"/>
<path d="M327.3 279.5L328.0 268.6L328.6 279.5Z" fill="#672a07"/>
<path d="M358.9 278.2L360.1 263.9L361.2 278.2Z" fill="#82510f"/>
<path d="M378.4 277.4L379.0 269.6L379.6 277.4Z" fill="#622206"/>
<path d="M410.2 276.1L410.7 269.0L411.3 276.1Z" fill="#521805"/>
<path d="M414.6 275.9L415.6 269.0L416.7 275.9Z" fill="#662807"/>
<path d="M407.5 276.3L408.6 271.3L409.6 276.3Z" fill="#551a05"/>
<path d="M420.1 275.8L421.0 270.5L421.9 275.8Z" fill="#642506"/>
<path d="M313.9 280.4L314.7 274.8L315.6 280.4Z" fill="#591d05"/>
<path d="M313.4 280.4L314.3 270.0L315.3 280.4Z" fill="#77410b"/>
<path d="M318.5 280.3L319.2 264.4L319.9 280.3Z" fill="#825210"/>
<path d="M411.9 276.3L412.9 272.6L413.9 276.3Z" fill="#3f0e04"/>
<path d="M323.5 280.1L324.5 257.1L325.6 280.1Z" fill="#d7c8a0"/>
<path d="M426.2 275.8L427.1 256.2L427.9 275.8Z" fill="#c0aa70"/>
<path d="M334.7 279.7L335.4 261.5L336.1 279.7Z" fill="#997526"/>
<path d="M430.8 275.6L431.6 267.1L432.4 275.6Z" fill="#743d0b"/>
<path d="M436.1 275.4L436.7 267.3L437.4 275.4Z" fill="#511805"/>
<path d="M403.9 276.8L404.6 267.4L405.3 276.8Z" fill="#763f0b"/>
<path d="M412.2 276.4L413.3 262.3L414.3 276.4Z" fill="#7c490d"/>
<path d="M428.8 275.8L429.6 259.4L430.4 275.8Z" fill="#91681e"/>
<path d="M381.3 277.9L382.0 273.6L382.7 277.9Z" fill="#461204"/>
<path d="M360.6 278.7L361.6 271.6L362.5 278.7Z" fill="#4c1504"/>
<path d="M436.5 275.6L437.5 269.5L438.5 275.6Z" fill="#471204"/>
<path d="M332.8 280.0L333.9 269.3L335.0 280.0Z" fill="#804e0e"/>
<path d="M388.8 277.7L389.4 273.6L390.1 277.7Z" fill="#5c1e05"/>
<path d="M351.4 279.3L352.2 270.7L353.1 279.3Z" fill="#511805"/>
<path d="M440.3 275.6L441.4 269.0L442.5 275.6Z" fill="#602005"/>
<path d="M372.5 278.4L373.4 265.1L374.4 278.4Z" fill="#835311"/>
<path d="M406.0 277.0L407.1 270.7L408.2 277.0Z" fill="#652706"/>
<path d="M394.2 277.5L394.9 270.9L395.6 277.5Z" fill="#5f2005"/>
<path d="M376.5 278.4L377.1 274.3L377.7 278.4Z" fill="#491304"/>
<path d="M319.5 280.8L320.4 274.9L321.3 280.8Z" fill="#551a05"/>
<path d="M395.0 277.7L395.9 273.2L396.7 277.7Z" fill="#4e1604"/>
<path d="M384.9 278.2L385.7 271.9L386.5 278.2Z" fill="#511805"/>
<path d="M432.9 276.1L433.8 268.4L434.7 276.1Z" fill="#602105"/>
<path d="M417.9 276.8L418.8 262.8L419.8 276.8Z" fill="#79440c"/>
<path d="M350.5 279.6L351.1 275.0L351.6 279.6Z" fill="#581c05"/>
<path d="M439.7 275.8L440.9 268.4L442.0 275.8Z" fill="#6d3208"/>
<path d="M320.0 281.0L320.7 269.4L321.4 281.0Z" fill="#733c0a"/>
<path d="M374.7 278.7L375.3 275.0L376.0 278.7Z" fill="#3c0c04"/>
<path d="M427.3 276.5L428.3 265.8L429.4 276.5Z" fill="#612105"/>
<path d="M397.3 277.8L398.0 270.4L398.8 277.8Z" fill="#571b05"/>
<path d="M359.7 279.4L360.6 268.1L361.5 279.4Z" fill="#6f3509"/>
<path d="M349.9 279.9L350.8 274.1L351.6 279.9Z" fill="#431004"/>
<path d="M328.9 280.8L329.9 276.6L330.9 280.8Z" fill="#571c05"/>
<path d="M353.8 279.7L354.7 271.5L355.5 279.7Z" fill="#5c1e05"/>
<path d="M421.9 277.0L422.5 272.7L423.0 277.0Z" fill="#4e1604"/>
<path d="M403.4 277.8L404.2 268.6L405.0 277.8Z" fill="#6b3008"/>
<path d="M425.5 276.9L426.6 261.2L427.6 276.9Z" fill="#967023"/>
<path d="M410.5 277.5L411.4 272.1L412.2 277.5Z" fill="#420f04"/>
<path d="M414.0 277.4L414.7 271.5L415.4 277.4Z" fill="#561b05"/>
<path d="M395.8 278.1L396.9 268.7L397.9 278.1Z" fill="#71390a"/>
<path d="M426.9 276.9L427.7 273.2L428.4 276.9Z" fill="#3c0c04"/>
<path d="M323.7 281.3L324.4 272.7L325.2 281.3Z" fill="#591d05"/>
<path d="M324.0 281.2L325.1 276.6L326.1 281.2Z" fill="#3f0d04"/>
<path d="M415.9 277.4L416.8 266.2L417.6 277.4Z" fill="#7c490d"/>
<path d="M403.4 277.9L404.3 271.4L405.2 277.9Z" fill="#531905"/>
<path d="M353.5 280.0L354.7 270.0L355.8 280.0Z" fill="#652706"/>
<path d="M345.5 280.4L346.4 274.7L347.4 280.4Z" fill="#420f04"/>
<path d="M423.7 277.1L424.7 261.0L425.7 277.1Z" fill="#9c7b29"/>
<path d="M394.8 278.4L395.5 271.6L396.1 278.4Z" fill="#6b3008"/>
<path d="M431.1 276.9L432.2 264.6L433.3 276.9Z" fill="#723a0a"/>
<path d="M318.5 281.6L319.4 273.7L320.4 281.6Z" fill="#6c3008"/>
<path d="M441.9 276.5L442.7 267.1L443.5 276.5Z" fill="#5b1e05"/>
<path d="M314.6 281.9L315.3 275.0L316.0 281.9Z" fill="#612105"/>
<path d="M419.9 277.5L420.6 271.0L421.3 277.5Z" fill="#662807"/>
<path d="M320.3 281.7L321.0 274.7L321.8 281.7Z" fill="#511805"/>
<path d="M414.1 277.7L415.1 262.4L416.1 277.7Z" fill="#7d4a0d"/>
<path d="M426.2 277.3L426.7 273.6L427.3 277.3Z" fill="#561b05"/>
<path d="M357.7 280.2L358.8 276.7L359.8 280.2Z" fill="#491304"/>
<path d="M345.6 280.8L346.7 268.7L347.9 280.8Z" fill="#855613"/>
<path d="M376.5 279.6L377.1 260.3L377.7 279.6Z" fill="#936c21"/>
<path d="M353.5 280.5L354.4 271.2L355.4 280.5Z" fill="#6a2e08"/>
<path d="M361.9 280.2L362.7 275.1L363.4 280.2Z" fill="#612105"/>
<path d="M339.5 281.2L340.1 277.0L340.7 281.2Z" fill="#4e1604"/>
<path d="M363.8 280.2L364.3 270.2L364.9 280.2Z" fill="#753f0b"/>
<path d="M395.2 279.0L395.8 267.4L396.3 279.0Z" fill="#835311"/>
<path d="M428.9 277.5L429.8 273.0L430.8 277.5Z" fill="#4d1604"/>
<path d="M335.2 281.6L335.9 267.2L336.6 281.6Z" fill="#845512"/>
<path d="M375.1 279.9L375.9 274.8L376.7 279.9Z" fill="#420f04"/>
<path d="M324.5 282.1L325.3 270.4L326.2 282.1Z" fill="#6c3208"/>
<path d="M428.3 277.8L429.4 273.4L430.5 277.8Z" fill="#5b1e05"/>
<path d="M377.9 280.0L378.8 272.6L379.8 280.0Z" fill="#662807"/>
<path d="M425.1 278.0L426.1 266.3L427.0 278.0Z" fill="#6a2f08"/>
<path d="M371.2 280.3L371.9 275.3L372.6 280.3Z" fill="#511805"/>
<path d="M342.5 281.6L343.1 276.0L343.7 281.6Z" fill="#602005"/>
<path d="M408.9 278.8L409.4 274.4L410.0 278.8Z" fill="#591d05"/>
<path d="M396.9 279.4L397.5 269.6L398.2 279.4Z" fill="#612105"/>
<path d="M341.8 281.7L342.7 270.6L343.5 281.7Z" fill="#825110"/>
<path d="M406.2 279.0L406.8 269.6L407.4 279.0Z" fill="#5d1f05"/>
<path d="M391.6 279.6L392.5 256.6L393.4 279.6Z" fill="#d7c8a0"/>
<path d="M436.8 277.7L437.9 272.7L438.9 277.7Z" fill="#581c05"/>
<path d="M342.4 281.7L343.3 275.5L344.3 281.7Z" fill="#561b05"/>
<path d="M339.0 281.9L340.0 277.9L340.9 281.9Z" fill="#3c0c04"/>
<path d="M318.2 282.8L318.9 277.8L319.6 282.8Z" fill="#612105"/>
<path d="M359.8 281.1L360.8 276.7L361.9 281.1Z" fill="#581c05"/>
<path d="M337.7 282.0L338.6 269.2L339.5 282.0Z" fill="#71390a"/>
<path d="M316.1 282.9L316.8 279.1L317.6 282.9Z" fill="#3c0c04"/>
<path d="M354.5 281.3L355.5 268.0L356.4 281.3Z" fill="#835311"/>
<path d="M328.4 282.4L329.0 278.4L329.5 282.4Z" fill="#3f0e04"/>
<path d="M346.9 281.7L347.4 265.0L348.0 281.7Z" fill="#9c7a29"/>
<path d="M324.0 282.7L324.7 275.5L325.3 282.7Z" fill="#5b1e05"/>
<path d="M368.3 280.9L368.9 275.6L369.6 280.9Z" fill="#5c1e05"/>
<path d="M391.2 280.0L392.3 275.7L393.5 280.0Z" fill="#3e0d04"/>
<path d="M382.9 280.3L383.9 266.4L384.8 280.3Z" fill="#7e4b0d"/>
<path d="M317.5 283.1L318.6 273.5L319.7 283.1Z" fill="#692c07"/>
<path d="M359.9 281.3L360.9 277.0L361.8 281.3Z" fill="#461204"/>
<path d="M359.4 281.4L360.3 266.5L361.2 281.4Z" fill="#967023"/>
<path d="M441.3 278.0L442.0 271.4L442.6 278.0Z" fill="#4d1504"/>
<path d="M370.9 280.9L372.1 277.1L373.2 280.9Z" fill="#441104"/>
<path d="M318.2 283.2L318.8 279.6L319.4 283.2Z" fill="#551a05"/>
<path d="M373.4 280.9L374.0 277.0L374.5 280.9Z" fill="#3d0d04"/>
<path d="M385.8 280.4L386.7 274.6L387.6 280.4Z" fill="#4a1404"/>
<path d="M402.6 279.7L403.6 268.7L404.7 279.7Z" fill="#7a450c"/>
<path d="M417.1 279.1L418.1 275.6L419.2 279.1Z" fill="#4b1404"/>
<path d="M371.5 281.0L372.1 275.6L372.7 281.0Z" fill="#5b1e05"/>
<path d="M315.8 283.4L316.6 279.8L317.4 283.4Z" fill="#3c0c04"/>
<path d="M327.9 282.9L328.7 279.3L329.4 282.9Z" fill="#4a1404"/>
<path d="M367.7 281.3L368.6 277.8L369.5 281.3Z" fill="#521805"/>
<path d="M320.8 283.3L321.7 275.8L322.7 283.3Z" fill="#4b1504"/>
<path d="M320.3 283.4L320.9 275.5L321.5 283.4Z" fill="#5e1f05"/>
<path d="M392.0 280.4L393.1 275.6L394.3 280.4Z" fill="#461204"/>
<path d="M324.9 283.2L325.8 279.3L326.6 283.2Z" fill="#521905"/>
<path d="M360.4 281.8L361.2 263.6L362.1 281.8Z" fill="#946d21"/>
<path d="M386.0 280.7L387.1 276.0L388.2 280.7Z" fill="#5b1e05"/>
<path d="M413.5 279.6L414.5 268.0L415.5 279.6Z" fill="#77410b"/>
<path d="M391.7 280.6L392.8 262.6L393.9 280.6Z" fill="#956f22"/>
<path d="M378.5 281.2L379.4 274.9L380.2 281.2Z" fill="#561b05"/>
<path d="M387.8 280.9L388.5 276.6L389.3 280.9Z" fill="#531905"/>
<path d="M391.8 280.8L392.8 274.0L393.7 280.8Z" fill="#481304"/>
<path d="M386.0 281.1L387.0 274.5L387.9 281.1Z" fill="#541a05"/>
<path d="M375.1 281.6L375.6 270.1L376.2 281.6Z" fill="#855613"/>
<path d="M327.7 283.7L328.8 277.6L329.8 283.7Z" fill="#612105"/>
<path d="M371.9 281.8L372.9 270.1L373.9 281.8Z" fill="#6e3409"/>
<path d="M425.8 279.6L426.9 257.4L428.0 279.6Z" fill="#d3c398"/>
<path d="M329.6 283.6L330.5 279.3L331.4 283.6Z" fill="#3e0d04"/>
<path d="M373.9 281.9L375.1 274.1L376.2 281.9Z" fill="#501705"/>
<path d="M322.3 284.0L323.1 279.1L323.9 284.0Z" fill="#541a05"/>
<path d="M384.4 281.5L385.0 277.9L385.6 281.5Z" fill="#3c0c04"/>
<path d="M325.5 283.9L326.1 273.3L326.8 283.9Z" fill="#6f3509"/>
<path d="M419.0 280.1L419.8 271.8L420.7 280.1Z" fill="#632406"/>
<path d="M331.9 283.7L332.5 278.6L333.0 283.7Z" fill="#4f1705"/>
<path d="M419.8 280.1L420.8 276.0L421.8 280.1Z" fill="#4f1705"/>
<path d="M439.7 279.3L440.5 274.9L441.3 279.3Z" fill="#5c1e05"/>
<path d="M365.9 282.4L366.6 276.0L367.2 282.4Z" fill="#511805"/>
<path d="M431.9 279.6L433.0 265.7L434.1 279.6Z" fill="#845412"/>
<path d="M366.5 282.4L367.1 277.8L367.8 282.4Z" fill="#521805"/>
<path d="M417.8 280.2L418.9 272.5L419.9 280.2Z" fill="#5b1e05"/>
<path d="M373.1 282.1L374.0 273.9L374.8 282.1Z" fill="#723a0a"/>
<path d="M404.8 280.8L405.9 273.5L407.1 280.8Z" fill="#5d1f05"/>
<path d="M430.4 279.7L431.2 265.4L432.1 279.7Z" fill="#90671e"/>
<path d="M340.0 283.5L341.0 277.0L341.9 283.5Z" fill="#5c1f05"/>
<path d="M361.4 282.6L362.0 273.3L362.6 282.6Z" fill="#6e3309"/>
<path d="M318.2 284.5L318.9 279.6L319.5 284.5Z" fill="#420f04"/>
<path d="M383.4 281.8L384.3 275.0L385.2 281.8Z" fill="#4b1404"/>
<path d="M385.9 281.8L386.9 275.8L387.8 281.8Z" fill="#551a05"/>
<path d="M409.4 280.9L410.0 275.8L410.7 280.9Z" fill="#5c1e05"/>
<path d="M427.5 280.2L428.4 275.1L429.3 280.2Z" fill="#511805"/>
<path d="M315.2 284.8L316.1 277.0L316.9 284.8Z" fill="#662907"/>
<path d="M353.6 283.3L354.5 270.1L355.3 283.3Z" fill="#855613"/>
<path d="M433.9 280.0L434.5 272.9L435.1 280.0Z" fill="#4d1504"/>
<path d="M379.4 282.3L380.4 272.1L381.3 282.3Z" fill="#591d05"/>
<path d="M335.7 284.2L336.5 278.3L337.3 284.2Z" fill="#511805"/>
<path d="M340.4 284.1L341.0 273.2L341.7 284.1Z" fill="#612105"/>
<path d="M377.9 282.5L379.0 278.3L380.0 282.5Z" fill="#400e04"/>
<path d="M333.4 284.5L334.5 277.7L335.6 284.5Z" fill="#591d05"/>
<path d="M434.7 280.3L435.6 273.6L436.4 280.3Z" fill="#5f2005"/>
<path d="M391.5 282.1L392.4 274.1L393.3 282.1Z" fill="#672a07"/>
<path d="M350.4 283.8L351.1 279.9L351.8 283.8Z" fill="#451104"/>
<path d="M408.4 281.5L409.5 274.0L410.5 281.5Z" fill="#632306"/>
<path d="M384.8 282.6L385.4 278.6L386.0 282.6Z" fill="#3c0c04"/>
<path d="M399.4 282.1L400.5 263.3L401.6 282.1Z" fill="#997526"/>
<path d="M326.8 285.1L327.6 280.2L328.3 285.1Z" fill="#3c0c04"/>
<path d="M435.4 280.7L436.2 271.4L436.9 280.7Z" fill="#5c1e05"/>
<path d="M319.4 285.4L320.2 279.6L321.1 285.4Z" fill="#632406"/>
<path d="M373.9 283.2L375.0 275.2L376.1 283.2Z" fill="#571b05"/>
<path d="M441.1 280.5L442.1 276.9L443.0 280.5Z" fill="#3c0c04"/>
<path d="M409.7 281.8L410.6 276.8L411.5 281.8Z" fill="#3d0c04"/>
<path d="M395.7 282.5L396.6 262.5L397.5 282.5Z" fill="#b39a56"/>
<path d="M335.0 285.0L335.9 279.7L336.8 285.0Z" fill="#5f2005"/>
<path d="M381.0 283.2L382.1 278.0L383.3 283.2Z" fill="#410f04"/>
<path d="M421.9 281.5L423.0 273.9L424.1 281.5Z" fill="#4b1404"/>
<path d="M359.4 284.1L360.4 277.6L361.3 284.1Z" fill="#5c1e05"/>
<path d="M371.0 283.6L371.6 278.3L372.3 283.6Z" fill="#471204"/>
<path d="M407.5 282.1L408.5 278.4L409.5 282.1Z" fill="#3c0c04"/>
<path d="M370.0 283.7L370.7 273.8L371.4 283.7Z" fill="#7a450c"/>
<path d="M417.5 281.8L418.1 278.0L418.7 281.8Z" fill="#3c0c04"/>
<path d="M334.1 285.2L334.7 276.5L335.3 285.2Z" fill="#703709"/>
<path d="M438.1 280.9L438.8 268.1L439.4 280.9Z" fill="#6b3008"/>
<path d="M436.4 281.0L437.3 276.9L438.2 281.0Z" fill="#3c0c04"/>
<path d="M406.5 282.2L407.6 273.6L408.6 282.2Z" fill="#6e3409"/>
<path d="M375.5 283.5L376.2 279.7L376.8 283.5Z" fill="#491304"/>
<path d="M359.4 284.2L360.5 264.1L361.5 284.2Z" fill="#9a7727"/>
<path d="M421.9 281.7L422.8 278.2L423.7 281.7Z" fill="#3c0c04"/>
<path d="M387.5 283.1L388.6 274.9L389.6 283.1Z" fill="#612105"/>
<path d="M328.7 285.5L329.6 270.8L330.5 285.5Z" fill="#733b0a"/>
<path d="M333.3 285.4L333.9 280.2L334.5 285.4Z" fill="#5e1f05"/>
<path d="M402.1 282.6L403.0 273.8L403.9 282.6Z" fill="#682b07"/>
<path d="M398.6 282.8L399.6 277.9L400.6 282.8Z" fill="#491304"/>
<path d="M411.8 282.3L412.7 278.7L413.5 282.3Z" fill="#441104"/>
<path d="M368.9 284.0L369.7 279.6L370.6 284.0Z" fill="#3e0d04"/>
<path d="M426.4 281.8L427.1 275.9L427.8 281.8Z" fill="#541a05"/>
<path d="M358.0 284.6L359.0 277.3L359.9 284.6Z" fill="#5a1d05"/>
<path d="M333.2 285.6L334.0 280.4L334.7 285.6Z" fill="#3e0d04"/>
<path d="M435.4 281.5L436.1 274.5L436.9 281.5Z" fill="#4b1504"/>
<path d="M341.0 285.3L341.8 275.4L342.6 285.3Z" fill="#7b470c"/>
<path d="M339.2 285.4L339.9 278.6L340.6 285.4Z" fill="#4b1404"/>
<path d="M350.1 285.0L350.7 279.1L351.4 285.0Z" fill="#612105"/>
<path d="M359.7 284.6L360.6 279.8L361.4 284.6Z" fill="#491304"/>
<path d="M412.0 282.6L412.6 275.0L413.2 282.6Z" fill="#612105"/>
<path d="M437.4 281.5L438.4 277.2L439.5 281.5Z" fill="#4b1404"/>
<path d="M440.2 281.4L441.1 277.8L442.0 281.4Z" fill="#4e1604"/>
<path d="M435.3 281.7L436.2 271.6L437.0 281.7Z" fill="#78430c"/>
<path d="M421.5 282.3L422.0 275.8L422.6 282.3Z" fill="#5e2005"/>
<path d="M317.1 286.5L317.8 280.5L318.5 286.5Z" fill="#4a1404"/>
<path d="M337.0 285.8L337.8 281.8L338.6 285.8Z" fill="#5a1d05"/>
<path d="M434.7 281.8L435.6 274.1L436.5 281.8Z" fill="#632406"/>
<path d="M354.9 285.1L355.9 277.0L356.9 285.1Z" fill="#6b2f08"/>
<path d="M421.7 282.4L422.4 277.8L423.2 282.4Z" fill="#4c1504"/>
<path d="M316.8 286.8L317.4 282.3L317.9 286.8Z" fill="#5c1e05"/>
<path d="M434.2 282.1L435.1 277.8L436.0 282.1Z" fill="#501705"/>
<path d="M332.9 286.3L333.5 280.5L334.0 286.3Z" fill="#581c05"/>
<path d="M396.2 283.7L397.3 277.8L398.3 283.7Z" fill="#511805"/>
<path d="M315.0 287.1L315.6 280.9L316.1 287.1Z" fill="#571b05"/>
<path d="M413.4 283.1L414.4 274.7L415.3 283.1Z" fill="#682a07"/>
<path d="M332.2 286.5L332.8 276.9L333.5 286.5Z" fill="#581c05"/>
<path d="M336.5 286.4L337.6 280.4L338.6 286.4Z" fill="#4d1504"/>
<path d="M371.1 285.0L371.7 276.9L372.3 285.0Z" fill="#632406"/>
<path d="M353.5 285.8L354.6 281.9L355.7 285.8Z" fill="#4b1404"/>
<path d="M335.8 286.6L336.4 282.6L337.0 286.6Z" fill="#431004"/>
<path d="M380.6 284.8L381.5 277.2L382.3 284.8Z" fill="#581c05"/>
<path d="M379.7 284.9L380.4 272.7L381.1 284.9Z" fill="#733b0a"/>
<path d="M351.7 286.0L352.8 274.3L353.9 286.0Z" fill="#662807"/>
<path d="M358.4 285.8L359.2 273.7L359.9 285.8Z" fill="#733b0a"/>
<path d="M350.2 286.1L350.8 272.6L351.4 286.1Z" fill="#8c6019"/>
<path d="M330.0 287.0L330.6 281.5L331.2 287.0Z" fill="#4c1504"/>
<path d="M386.1 284.8L387.2 261.8L388.3 284.8Z" fill="#d7c8a0"/>
<path d="M373.0 285.3L373.9 278.0L374.7 285.3Z" fill="#622206"/>
<path d="M386.3 284.9L387.3 279.6L388.3 284.9Z" fill="#481304"/>
<path d="M340.0 286.8L340.6 270.3L341.2 286.8Z" fill="#814f0f"/>
<path d="M388.6 284.9L389.6 278.6L390.6 284.9Z" fill="#4f1705"/>
<path d="M380.4 285.2L381.4 279.4L382.4 285.2Z" fill="#632306"/>
<path d="M429.8 283.3L430.9 273.7L431.9 283.3Z" fill="#632406"/>
<path d="M401.8 284.4L402.3 276.6L402.9 284.4Z" fill="#692c07"/>
<path d="M420.8 283.6L421.9 276.9L423.0 283.6Z" fill="#652606"/>
<path d="M444.3 282.7L445.1 277.9L445.9 282.7Z" fill="#531905"/>
<path d="M427.4 283.5L428.2 279.0L429.1 283.5Z" fill="#3c0c04"/>
<path d="M401.3 284.5L402.0 279.6L402.7 284.5Z" fill="#3f0e04"/>
<path d="M409.0 284.2L409.7 279.1L410.3 284.2Z" fill="#551a05"/>
<path d="M332.5 287.4L333.1 280.6L333.7 287.4Z" fill="#682b07"/>
<path d="M393.1 284.9L393.9 281.1L394.7 284.9Z" fill="#4c1504"/>
<path d="M371.0 285.8L371.8 272.4L372.6 285.8Z" fill="#875915"/>
<path d="M433.2 283.5L433.8 269.0L434.4 283.5Z" fill="#81500f"/>
<path d="M374.9 285.9L375.8 274.2L376.7 285.9Z" fill="#622306"/>
<path d="M343.3 287.3L344.3 282.8L345.4 287.3Z" fill="#531905"/>
<path d="M381.6 285.7L382.3 278.6L383.1 285.7Z" fill="#551a05"/>
<path d="M382.4 285.7L383.5 277.5L384.5 285.7Z" fill="#541a05"/>
<path d="M410.1 284.6L411.3 280.4L412.4 284.6Z" fill="#521905"/>
<path d="M343.1 287.3L343.7 270.9L344.3 287.3Z" fill="#7f4d0d"/>
<path d="M361.2 286.6L361.9 283.0L362.6 286.6Z" fill="#3c0c04"/>
<path d="M372.0 286.2L372.7 281.9L373.3 286.2Z" fill="#3c0c04"/>
<path d="M348.4 287.2L349.3 267.6L350.2 287.2Z" fill="#c1ac73"/>
<path d="M367.4 286.4L368.1 277.7L368.9 286.4Z" fill="#753e0b"/>
<path d="M326.9 288.1L327.6 279.3L328.4 288.1Z" fill="#632306"/>
<path d="M371.8 286.3L372.7 275.8L373.5 286.3Z" fill="#743c0a"/>
<path d="M364.7 286.7L365.3 283.1L366.0 286.7Z" fill="#3c0c04"/>
<path d="M434.5 283.9L435.1 277.1L435.7 283.9Z" fill="#692c07"/>
<path d="M441.1 283.7L442.0 274.7L443.0 283.7Z" fill="#571b05"/>
<path d="M418.0 284.6L418.5 277.3L419.1 284.6Z" fill="#581c05"/>
<path d="M420.7 284.5L421.8 277.2L422.8 284.5Z" fill="#6d3208"/>
<path d="M443.6 283.7L444.5 274.2L445.3 283.7Z" fill="#5c1e05"/>
<path d="M349.9 287.5L350.8 264.5L351.8 287.5Z" fill="#c1ab72"/>
<path d="M372.3 286.6L373.0 282.8L373.8 286.6Z" fill="#511805"/>
<path d="M427.6 284.5L428.7 278.5L429.8 284.5Z" fill="#531905"/>
<path d="M314.3 289.0L315.2 285.3L316.1 289.0Z" fill="#4a1404"/>
<path d="M410.3 285.2L410.9 276.7L411.6 285.2Z" fill="#703709"/>
<path d="M417.2 284.9L417.8 280.7L418.5 284.9Z" fill="#571b05"/>
<path d="M407.3 285.3L408.3 279.8L409.3 285.3Z" fill="#4f1705"/>
<path d="M316.3 289.0L317.0 276.4L317.7 289.0Z" fill="#804f0e"/>
<path d="M364.8 287.1L365.9 283.2L367.1 287.1Z" fill="#4d1604"/>
<path d="M383.0 286.4L383.8 271.1L384.7 286.4Z" fill="#7b460c"/>
<path d="M404.4 285.6L405.2 281.0L405.9 285.6Z" fill="#3c0c04"/>
<path d="M367.7 287.0L368.4 273.8L369.0 287.0Z" fill="#77400b"/>
<path d="M393.1 286.0L393.9 281.3L394.7 286.0Z" fill="#3d0d04"/>
<path d="M441.3 284.2L442.5 272.0L443.6 284.2Z" fill="#7b460c"/>
<path d="M351.2 287.8L352.3 274.8L353.4 287.8Z" fill="#76400b"/>
<path d="M347.3 288.0L348.1 272.5L348.9 288.0Z" fill="#977224"/>
<path d="M423.3 285.0L424.1 279.3L424.9 285.0Z" fill="#481304"/>
<path d="M417.1 285.4L417.8 278.8L418.6 285.4Z" fill="#632406"/>
<path d="M440.7 284.4L441.4 276.5L442.1 284.4Z" fill="#652706"/>
<path d="M388.9 286.5L390.0 263.5L391.0 286.5Z" fill="#b0954e"/>
<path d="M426.7 285.1L427.7 276.0L428.7 285.1Z" fill="#591d05"/>
<path d="M366.8 287.5L367.5 283.7L368.1 287.5Z" fill="#3c0c04"/>
<path d="M393.2 286.4L394.0 274.6L394.9 286.4Z" fill="#622306"/>
<path d="M427.2 285.2L427.8 276.2L428.4 285.2Z" fill="#6b3008"/>
<path d="M410.8 285.9L411.8 267.9L412.8 285.9Z" fill="#a78a3c"/>
<path d="M317.4 289.6L318.3 281.5L319.2 289.6Z" fill="#622306"/>
<path d="M328.7 289.2L329.4 277.3L330.1 289.2Z" fill="#7e4c0d"/>
<path d="M329.1 289.3L330.0 280.6L330.9 289.3Z" fill="#561b05"/>
<path d="M441.1 284.9L441.7 280.6L442.3 284.9Z" fill="#501705"/>
<path d="M429.6 285.4L430.6 281.7L431.6 285.4Z" fill="#3c0c04"/>
<path d="M375.5 287.5L376.6 279.3L377.7 287.5Z" fill="#5c1e05"/>
<path d="M377.4 287.5L378.1 272.8L378.8 287.5Z" fill="#7a450c"/>
<path d="M333.3 289.2L334.0 280.6L334.6 289.2Z" fill="#662907"/>
<path d="M320.0 289.8L321.0 285.4L321.9 289.8Z" fill="#3f0d04"/>
<path d="M340.8 289.0L341.9 284.2L343.0 289.0Z" fill="#3c0c04"/>
<path d="M369.6 287.9L370.2 281.0L370.8 287.9Z" fill="#591d05"/>
<path d="M371.5 287.9L372.4 284.4L373.4 287.9Z" fill="#4f1705"/>
<path d="M370.0 288.0L370.6 281.0L371.2 288.0Z" fill="#632306"/>
<path d="M401.1 286.8L401.8 278.5L402.5 286.8Z" fill="#4f1705"/>
<path d="M316.4 290.1L317.3 282.8L318.1 290.1Z" fill="#551a05"/>
<path d="M363.6 288.3L364.4 277.6L365.1 288.3Z" fill="#78420b"/>
<path d="M371.1 288.0L371.7 283.7L372.2 288.0Z" fill="#4a1404"/>
<path d="M326.4 289.8L327.1 284.1L327.8 289.8Z" fill="#501805"/>
<path d="M390.8 287.3L391.7 280.6L392.5 287.3Z" fill="#561b05"/>
<path d="M317.1 290.2L317.8 284.9L318.6 290.2Z" fill="#491404"/>
<path d="M360.2 288.6L360.9 283.6L361.6 288.6Z" fill="#451104"/>
<path d="M346.8 289.1L347.7 282.8L348.7 289.1Z" fill="#4c1504"/>
<path d="M352.9 288.9L354.0 280.7L355.0 288.9Z" fill="#4e1604"/>
<path d="M396.0 287.2L396.9 279.6L397.7 287.2Z" fill="#692c07"/>
<path d="M314.9 290.4L315.9 276.7L316.9 290.4Z" fill="#71390a"/>
<path d="M396.5 287.2L397.1 282.9L397.6 287.2Z" fill="#3c0c04"/>
<path d="M429.8 286.0L430.7 273.1L431.5 286.0Z" fill="#6f3509"/>
<path d="M409.8 286.8L410.5 265.4L411.1 286.8Z" fill="#b9a163"/>
<path d="M368.8 288.4L369.6 284.3L370.5 288.4Z" fill="#581c05"/>
<path d="M338.6 289.6L339.3 286.1L340.1 289.6Z" fill="#3c0c04"/>
<path d="M334.4 289.8L335.1 285.0L335.8 289.8Z" fill="#5a1d05"/>
<path d="M417.4 286.5L418.3 278.0L419.1 286.5Z" fill="#733b0a"/>
<path d="M381.2 288.0L381.9 284.1L382.7 288.0Z" fill="#501805"/>
<path d="M410.6 286.9L411.2 276.8L411.8 286.9Z" fill="#6c3108"/>
<path d="M395.2 287.5L396.1 280.3L397.0 287.5Z" fill="#692c07"/>
<path d="M345.4 289.6L346.3 286.0L347.2 289.6Z" fill="#571c05"/>
<path d="M386.4 288.0L387.1 279.8L387.9 288.0Z" fill="#6c3108"/>
<path d="M377.4 288.4L378.3 284.0L379.1 288.4Z" fill="#481304"/>
<path d="M433.2 286.2L434.0 278.3L434.8 286.2Z" fill="#632406"/>
<path d="M389.5 287.9L390.3 282.1L391.2 287.9Z" fill="#4d1604"/>
<path d="M325.9 290.4L326.8 286.2L327.8 290.4Z" fill="#501705"/>
<path d="M439.9 286.0L440.7 281.1L441.5 286.0Z" fill="#5d1f05"/>
<path d="M341.7 289.9L342.7 284.1L343.7 289.9Z" fill="#431004"/>
<path d="M407.2 287.4L408.3 279.2L409.4 287.4Z" fill="#4f1705"/>
<path d="M427.9 286.6L429.0 277.0L430.1 286.6Z" fill="#71380a"/>
<path d="M323.1 290.7L323.8 285.4L324.5 290.7Z" fill="#5c1e05"/>
<path d="M430.6 286.7L431.4 269.7L432.2 286.7Z" fill="#845512"/>
<path d="M359.4 289.4L360.2 282.5L360.9 289.4Z" fill="#481304"/>
<path d="M317.2 291.1L318.1 286.8L319.1 291.1Z" fill="#4f1705"/>
<path d="M409.0 287.6L409.8 281.2L410.6 287.6Z" fill="#622306"/>
<path d="M336.5 290.4L337.7 276.1L338.8 290.4Z" fill="#81500f"/>
<path d="M438.9 286.5L439.6 280.2L440.2 286.5Z" fill="#672a07"/>
<path d="M433.5 286.8L434.6 265.5L435.7 286.8Z" fill="#c6b17c"/>
<path d="M352.7 289.9L353.8 278.2L354.8 289.9Z" fill="#632406"/>
<path d="M322.3 291.1L323.1 280.9L324.0 291.1Z" fill="#77410b"/>
<path d="M384.1 288.7L385.2 282.7L386.3 288.7Z" fill="#581c05"/>
<path d="M359.5 289.7L360.4 283.6L361.3 289.7Z" fill="#561b05"/>
<path d="M361.7 289.7L362.8 284.3L363.8 289.7Z" fill="#551a05"/>
<path d="M392.7 288.5L393.4 284.6L394.0 288.5Z" fill="#4e1604"/>
<path d="M340.2 290.5L341.2 282.8L342.3 290.5Z" fill="#521905"/>
<path d="M404.8 288.1L405.6 271.9L406.3 288.1Z" fill="#936d21"/>
<path d="M345.8 290.4L346.8 286.8L347.8 290.4Z" fill="#481304"/>
<path d="M415.9 287.8L417.0 274.9L418.1 287.8Z" fill="#6e3409"/>
<path d="M362.0 289.9L363.0 281.4L364.0 289.9Z" fill="#6c3208"/>
<path d="M418.4 287.7L419.3 284.2L420.1 287.7Z" fill="#3c0c04"/>
<path d="M396.7 288.6L397.7 285.0L398.6 288.6Z" fill="#4b1504"/>
<path d="M341.7 290.7L342.5 285.5L343.2 290.7Z" fill="#3e0d04"/>
<path d="M425.5 287.5L426.4 264.5L427.2 287.5Z" fill="#bfa86e"/>
<path d="M426.7 287.5L427.5 283.3L428.3 287.5Z" fill="#3c0c04"/>
<path d="M383.1 289.2L383.9 284.6L384.7 289.2Z" fill="#3d0c04"/>
<path d="M429.5 287.4L430.4 276.9L431.2 287.4Z" fill="#733b0a"/>
<path d="M407.2 288.3L407.9 282.2L408.6 288.3Z" fill="#652706"/>
<path d="M329.4 291.4L330.3 284.0L331.2 291.4Z" fill="#531905"/>
<path d="M336.4 291.2L337.2 276.4L338.0 291.2Z" fill="#804e0e"/>
<path d="M401.1 288.7L401.9 281.1L402.6 288.7Z" fill="#4b1404"/>
<path d="M358.8 290.3L359.5 286.6L360.1 290.3Z" fill="#481304"/>
<path d="M365.3 290.1L366.0 280.6L366.7 290.1Z" fill="#561b05"/>
<path d="M393.1 289.0L394.2 285.0L395.3 289.0Z" fill="#431004"/>
<path d="M366.4 290.1L367.4 276.1L368.3 290.1Z" fill="#703709"/>
<path d="M363.1 290.2L364.1 285.7L365.2 290.2Z" fill="#4a1404"/>
<path d="M332.1 291.4L333.0 285.8L333.9 291.4Z" fill="#561b05"/>
<path d="M425.2 287.9L426.2 284.2L427.3 287.9Z" fill="#471204"/>
<path d="M391.9 289.2L392.6 280.2L393.4 289.2Z" fill="#602005"/>
<path d="M420.6 288.2L421.8 273.6L422.9 288.2Z" fill="#733c0a"/>
<path d="M348.6 291.0L349.6 283.4L350.6 291.0Z" fill="#612105"/>
<path d="M439.9 287.5L441.0 278.5L442.1 287.5Z" fill="#753e0b"/>
<path d="M354.6 290.8L355.3 287.2L356.0 290.8Z" fill="#4d1604"/>
<path d="M319.6 292.2L320.4 282.8L321.1 292.2Z" fill="#72390a"/>
<path d="M343.2 291.3L344.3 286.7L345.3 291.3Z" fill="#3f0e04"/>
<path d="M369.0 290.4L370.2 282.2L371.3 290.4Z" fill="#531905"/>
<path d="M378.7 290.1L379.3 267.1L380.0 290.1Z" fill="#a18230"/>
<path d="M410.1 288.9L410.9 277.1L411.7 288.9Z" fill="#7b470c"/>
<path d="M386.5 289.8L387.4 281.5L388.3 289.8Z" fill="#692d08"/>
<path d="M363.0 290.9L363.6 285.1L364.1 290.9Z" fill="#501705"/>
<path d="M383.4 290.1L384.5 274.5L385.6 290.1Z" fill="#956f22"/>
<path d="M378.2 290.3L379.4 285.1L380.5 290.3Z" fill="#3c0c04"/>
<path d="M346.1 291.6L347.0 287.6L347.9 291.6Z" fill="#3c0c04"/>
<path d="M389.0 289.9L389.8 276.9L390.7 289.9Z" fill="#7f4d0d"/>
<path d="M326.1 292.4L326.9 284.7L327.8 292.4Z" fill="#5a1d05"/>
<path d="M394.5 289.7L395.1 285.7L395.7 289.7Z" fill="#571c05"/>
<path d="M360.6 291.1L361.3 270.7L361.9 291.1Z" fill="#b69d5c"/>
<path d="M317.2 292.7L318.2 280.1L319.2 292.7Z" fill="#825210"/>
<path d="M324.0 292.6L324.6 289.0L325.3 292.6Z" fill="#410f04"/>
<path d="M314.8 292.9L315.7 287.9L316.5 292.9Z" fill="#501805"/>
<path d="M431.8 288.4L432.8 282.7L433.8 288.4Z" fill="#511805"/>
<path d="M365.2 291.0L365.7 273.2L366.3 291.0Z" fill="#a88b3e"/>
<path d="M323.8 292.6L324.5 283.3L325.3 292.6Z" fill="#6f3509"/>
<path d="M318.6 292.9L319.2 286.1L319.9 292.9Z" fill="#4a1404"/>
<path d="M429.0 288.7L429.7 284.2L430.4 288.7Z" fill="#3c0c04"/>
<path d="M371.3 291.0L372.4 283.2L373.6 291.0Z" fill="#602105"/>
<path d="M340.0 292.2L340.8 279.2L341.5 292.2Z" fill="#865814"/>
<path d="M403.6 289.8L404.5 283.0L405.3 289.8Z" fill="#581c05"/>
<path d="M326.1 292.8L326.8 287.7L327.4 292.8Z" fill="#441004"/>
<path d="M423.8 289.0L424.6 282.5L425.4 289.0Z" fill="#672a07"/>
<path d="M361.4 291.4L362.0 279.5L362.6 291.4Z" fill="#77400b"/>
<path d="M434.4 288.7L435.0 274.7L435.6 288.7Z" fill="#71380a"/>
<path d="M371.2 291.1L371.8 287.0L372.4 291.1Z" fill="#420f04"/>
<path d="M428.7 289.0L429.6 284.5L430.5 289.0Z" fill="#4f1705"/>
<path d="M361.1 291.6L361.9 286.6L362.7 291.6Z" fill="#4a1404"/>
<path d="M368.1 291.5L369.2 281.4L370.3 291.5Z" fill="#743d0b"/>
<path d="M356.9 291.9L357.6 282.4L358.3 291.9Z" fill="#692d08"/>
<path d="M366.6 291.6L367.3 282.3L368.0 291.6Z" fill="#662907"/>
<path d="M426.1 289.3L427.3 277.8L428.4 289.3Z" fill="#7a460c"/>
<path d="M328.9 293.1L329.5 282.1L330.1 293.1Z" fill="#642606"/>
<path d="M387.4 290.8L388.1 287.3L388.8 290.8Z" fill="#4c1504"/>
<path d="M327.8 293.1L328.7 271.4L329.5 293.1Z" fill="#c3ae77"/>
<path d="M378.7 291.2L379.8 285.1L381.0 291.2Z" fill="#491304"/>
<path d="M379.5 291.2L380.3 279.0L381.2 291.2Z" fill="#6c3008"/>
<path d="M393.3 290.6L394.2 284.9L395.0 290.6Z" fill="#571b05"/>
<path d="M390.5 290.8L391.3 273.8L392.0 290.8Z" fill="#91691e"/>
<path d="M339.3 292.8L340.4 287.3L341.4 292.8Z" fill="#622206"/>
<path d="M403.8 290.4L404.9 280.9L406.0 290.4Z" fill="#551a05"/>
<path d="M389.2 291.0L390.0 281.1L390.9 291.0Z" fill="#5b1e05"/>
<path d="M435.1 289.3L436.0 277.8L436.9 289.3Z" fill="#6e3409"/>
<path d="M426.6 289.7L427.6 283.6L428.6 289.7Z" fill="#571b05"/>
<path d="M395.8 290.8L396.9 286.8L398.0 290.8Z" fill="#3d0d04"/>
<path d="M426.4 289.7L427.3 279.6L428.1 289.7Z" fill="#672a07"/>
<path d="M353.3 292.5L354.4 281.3L355.4 292.5Z" fill="#79440c"/>
<path d="M326.0 293.6L326.8 286.2L327.5 293.6Z" fill="#4b1404"/>
<path d="M353.1 292.6L353.9 281.6L354.7 292.6Z" fill="#77410b"/>
<path d="M365.6 292.2L366.3 285.9L367.1 292.2Z" fill="#5f2005"/>
<path d="M333.7 293.4L334.3 288.8L335.0 293.4Z" fill="#3c0c04"/>
<path d="M398.8 290.9L399.5 285.5L400.2 290.9Z" fill="#471204"/>
<path d="M431.8 289.7L432.7 282.9L433.7 289.7Z" fill="#451104"/>
<path d="M427.2 289.9L427.8 284.8L428.3 289.9Z" fill="#581c05"/>
<path d="M344.1 293.0L344.9 288.2L345.6 293.0Z" fill="#420f04"/>
<path d="M320.9 293.9L321.8 288.7L322.8 293.9Z" fill="#3d0c04"/>
<path d="M436.2 289.6L437.2 286.1L438.2 289.6Z" fill="#561b05"/>
<path d="M325.4 293.8L326.2 286.0L327.0 293.8Z" fill="#612105"/>
<path d="M397.5 291.1L398.5 285.2L399.6 291.1Z" fill="#5b1e05"/>
<path d="M392.3 291.4L393.2 285.0L394.0 291.4Z" fill="#421004"/>
<path d="M406.1 291.0L406.8 286.6L407.4 291.0Z" fill="#400e04"/>
<path d="M321.5 294.2L322.2 286.3L322.9 294.2Z" fill="#602105"/>
<path d="M317.6 294.3L318.4 290.5L319.2 294.3Z" fill="#431004"/>
<path d="M390.2 291.6L390.9 283.1L391.6 291.6Z" fill="#733a0a"/>
<path d="M413.3 290.8L414.2 273.9L415.2 290.8Z" fill="#7f4c0d"/>
<path d="M403.0 291.2L403.8 286.9L404.6 291.2Z" fill="#441004"/>
<path d="M385.1 291.9L385.8 279.5L386.5 291.9Z" fill="#804f0e"/>
<path d="M427.3 290.3L427.9 284.1L428.6 290.3Z" fill="#521905"/>
<path d="M337.4 293.7L338.1 277.7L338.8 293.7Z" fill="#7f4d0d"/>
<path d="M332.5 293.9L333.4 282.9L334.4 293.9Z" fill="#6e3309"/>
<path d="M397.6 291.6L398.7 285.7L399.8 291.6Z" fill="#5e1f05"/>
<path d="M413.3 291.0L414.2 284.2L415.1 291.0Z" fill="#511805"/>
<path d="M438.8 290.0L440.0 283.6L441.1 290.0Z" fill="#5d1f05"/>
<path d="M329.6 294.2L330.2 287.2L330.8 294.2Z" fill="#581c05"/>
<path d="M383.9 292.1L384.6 286.2L385.3 292.1Z" fill="#4b1404"/>
<path d="M352.2 293.3L352.9 289.5L353.6 293.3Z" fill="#4b1504"/>
<path d="M363.5 292.9L364.2 287.3L364.9 292.9Z" fill="#612105"/>
<path d="M321.1 294.5L321.9 289.6L322.6 294.5Z" fill="#441004"/>
<path d="M428.3 290.5L428.9 286.8L429.5 290.5Z" fill="#471204"/>
<path d="M441.2 290.2L442.1 270.9L442.9 290.2Z" fill="#9a7727"/>
<path d="M370.6 292.8L371.2 287.7L371.8 292.8Z" fill="#491404"/>
<path d="M402.1 291.7L403.1 283.1L404.2 291.7Z" fill="#581c05"/>
<path d="M319.6 294.8L320.6 288.6L321.6 294.8Z" fill="#642506"/>
<path d="M404.1 291.7L405.1 284.0L406.0 291.7Z" fill="#5c1e05"/>
<path d="M370.4 293.0L371.0 285.7L371.6 293.0Z" fill="#5b1e05"/>
<path d="M376.2 292.8L377.3 278.7L378.5 292.8Z" fill="#723a0a"/>
<path d="M357.7 293.5L358.8 285.8L360.0 293.5Z" fill="#6c3108"/>
<path d="M331.2 294.5L332.2 280.8L333.2 294.5Z" fill="#8b5f19"/>
<path d="M358.5 293.5L359.4 288.5L360.3 293.5Z" fill="#581c05"/>
<path d="M370.3 293.1L371.2 288.7L372.2 293.1Z" fill="#5b1e05"/>
<path d="M362.5 293.4L363.6 287.2L364.7 293.4Z" fill="#612105"/>
<path d="M347.5 294.0L348.4 283.7L349.3 294.0Z" fill="#753e0b"/>
<path d="M328.3 294.7L329.3 287.2L330.4 294.7Z" fill="#692c07"/>
<path d="M354.5 293.8L355.5 288.0L356.4 293.8Z" fill="#4c1504"/>
<path d="M365.1 293.4L365.9 289.4L366.8 293.4Z" fill="#3c0c04"/>
<path d="M380.0 292.9L380.9 288.3L381.8 292.9Z" fill="#4a1404"/>
<path d="M317.4 295.2L318.2 284.6L319.0 295.2Z" fill="#6c3008"/>
<path d="M420.3 291.4L421.4 287.5L422.5 291.4Z" fill="#551a05"/>
<path d="M420.3 291.4L421.4 284.6L422.4 291.4Z" fill="#4d1604"/>
<path d="M368.5 293.4L369.4 288.6L370.3 293.4Z" fill="#3d0d04"/>
<path d="M444.3 290.6L445.2 277.7L446.2 290.6Z" fill="#743d0a"/>
<path d="M403.6 292.2L404.4 288.2L405.1 292.2Z" fill="#481304"/>
<path d="M346.4 294.4L347.0 286.1L347.5 294.4Z" fill="#4f1705"/>
<path d="M331.3 295.0L332.0 288.8L332.6 295.0Z" fill="#4b1504"/>
<path d="M385.2 293.0L386.2 286.4L387.2 293.0Z" fill="#431004"/>
<path d="M322.8 295.3L323.5 291.0L324.3 295.3Z" fill="#3d0c04"/>
<path d="M325.0 295.2L325.8 290.2L326.6 295.2Z" fill="#461204"/>
<path d="M434.0 291.2L435.0 286.9L436.0 291.2Z" fill="#531905"/>
<path d="M377.2 293.4L378.0 289.2L378.8 293.4Z" fill="#3c0c04"/>
<path d="M334.2 295.0L334.8 288.8L335.5 295.0Z" fill="#571c05"/>
<path d="M392.8 292.8L393.6 285.7L394.3 292.8Z" fill="#602105"/>
<path d="M384.4 293.1L385.3 289.3L386.2 293.1Z" fill="#3c0c04"/>
<path d="M383.2 293.2L384.3 279.9L385.4 293.2Z" fill="#743d0b"/>
<path d="M326.7 295.3L327.6 288.6L328.5 295.3Z" fill="#511805"/>
<path d="M358.7 294.2L359.5 280.0L360.2 294.2Z" fill="#723a0a"/>
<path d="M335.8 295.1L336.4 288.1L337.0 295.1Z" fill="#622206"/>
<path d="M426.8 291.7L427.9 277.3L429.0 291.7Z" fill="#835311"/>
<path d="M341.8 295.0L342.6 289.9L343.5 295.0Z" fill="#420f04"/>
<path d="M362.1 294.3L363.1 290.2L364.2 294.3Z" fill="#3c0c04"/>
<path d="M442.4 291.3L443.4 286.6L444.3 291.3Z" fill="#410f04"/>
<path d="M374.1 293.9L374.8 286.5L375.4 293.9Z" fill="#5e2005"/>
<path d="M349.0 294.8L350.1 290.6L351.2 294.8Z" fill="#4e1604"/>
<path d="M364.8 294.3L365.5 279.0L366.2 294.3Z" fill="#804f0e"/>
<path d="M403.8 292.8L404.7 288.8L405.5 292.8Z" fill="#3c0c04"/>
<path d="M324.7 295.8L325.9 291.4L327.0 295.8Z" fill="#400e04"/>
<path d="M377.5 293.9L378.1 273.6L378.8 293.9Z" fill="#c7b37e"/>
<path d="M385.5 293.6L386.2 290.0L386.8 293.6Z" fill="#3d0c04"/>
<path d="M369.1 294.2L370.0 289.9L370.8 294.2Z" fill="#591c05"/>
<path d="M438.4 291.7L439.3 280.0L440.3 291.7Z" fill="#652707"/>
<path d="M441.6 291.6L442.4 284.1L443.2 291.6Z" fill="#531905"/>
<path d="M340.1 295.4L341.0 290.6L341.9 295.4Z" fill="#451104"/>
<path d="M410.9 292.8L411.7 288.7L412.4 292.8Z" fill="#501805"/>
<path d="M401.8 293.2L402.5 284.9L403.2 293.2Z" fill="#682c07"/>
<path d="M366.7 294.5L367.8 286.8L368.9 294.5Z" fill="#6d3209"/>
<path d="M327.3 296.0L328.1 288.5L328.9 296.0Z" fill="#511805"/>
<path d="M317.5 296.4L318.5 291.9L319.4 296.4Z" fill="#561b05"/>
<path d="M399.0 293.4L399.9 287.9L400.7 293.4Z" fill="#541a05"/>
<path d="M424.1 292.5L425.1 283.1L426.1 292.5Z" fill="#652606"/>
<path d="M339.0 295.7L339.6 290.9L340.3 295.7Z" fill="#531905"/>
<path d="M315.5 296.6L316.2 285.8L316.9 296.6Z" fill="#753e0b"/>
<path d="M332.0 296.0L332.6 292.1L333.2 296.0Z" fill="#4a1404"/>
<path d="M316.8 296.6L317.3 288.2L317.9 296.6Z" fill="#6c3108"/>
<path d="M370.8 294.6L371.4 290.3L372.0 294.6Z" fill="#4f1705"/>
<path d="M388.5 294.0L389.3 290.0L390.1 294.0Z" fill="#3c0c04"/>
<path d="M360.2 295.1L361.0 285.4L361.9 295.1Z" fill="#6c3108"/>
<path d="M363.7 295.0L364.2 289.4L364.8 295.0Z" fill="#612105"/>
<path d="M382.5 294.4L383.4 288.0L384.4 294.4Z" fill="#461104"/>
<path d="M329.7 296.3L330.4 277.6L331.1 296.3Z" fill="#926a1f"/>
<path d="M352.4 295.5L353.6 290.0L354.7 295.5Z" fill="#431004"/>
<path d="M383.5 294.4L384.4 290.4L385.2 294.4Z" fill="#581c05"/>
<path d="M410.3 293.5L411.1 283.4L411.8 293.5Z" fill="#6d3208"/>
<path d="M319.2 296.8L320.0 292.1L320.8 296.8Z" fill="#491304"/>
<path d="M383.1 294.5L383.8 289.6L384.5 294.5Z" fill="#4e1604"/>
<path d="M371.0 295.0L372.1 290.0L373.2 295.0Z" fill="#3c0c04"/>
<path d="M392.4 294.2L393.4 287.1L394.5 294.2Z" fill="#5d1f05"/>
<path d="M351.8 295.7L352.4 284.6L353.0 295.7Z" fill="#6f3509"/>
<path d="M318.7 297.0L319.7 291.9L320.7 297.0Z" fill="#4f1705"/>
<path d="M387.7 294.5L388.5 285.1L389.2 294.5Z" fill="#763f0b"/>
<path d="M346.6 296.0L347.7 289.8L348.7 296.0Z" fill="#451104"/>
<path d="M318.1 297.0L319.3 290.4L320.4 297.0Z" fill="#632406"/>
<path d="M341.9 296.2L343.0 283.0L344.1 296.2Z" fill="#8a5e18"/>
<path d="M436.4 292.8L437.1 277.8L437.8 292.8Z" fill="#91691f"/>
<path d="M432.1 293.0L432.8 281.8L433.4 293.0Z" fill="#5f2005"/>
<path d="M399.9 294.1L401.0 290.5L402.1 294.1Z" fill="#541a05"/>
<path d="M324.5 297.0L325.3 288.5L326.0 297.0Z" fill="#5c1e05"/>
<path d="M439.5 292.9L440.7 288.7L441.8 292.9Z" fill="#3c0c04"/>
<path d="M349.7 296.2L350.4 290.0L351.2 296.2Z" fill="#451104"/>
<path d="M377.6 295.3L378.6 284.1L379.6 295.3Z" fill="#78430c"/>
<path d="M319.0 297.4L319.9 293.6L320.8 297.4Z" fill="#4b1404"/>
<path d="M432.5 293.3L433.5 288.0L434.6 293.3Z" fill="#400e04"/>
<path d="M349.3 296.4L350.4 291.7L351.5 296.4Z" fill="#491304"/>
<path d="M427.8 293.6L428.6 285.8L429.4 293.6Z" fill="#491304"/>
<path d="M359.7 296.1L360.7 291.8L361.7 296.1Z" fill="#471204"/>
<path d="M331.5 297.1L332.4 288.0L333.4 297.1Z" fill="#743c0a"/>
<path d="M355.6 296.3L356.4 279.3L357.1 296.3Z" fill="#804e0e"/>
<path d="M376.7 295.6L377.4 279.1L378.1 295.6Z" fill="#997526"/>
<path d="M409.2 294.4L410.2 281.7L411.2 294.4Z" fill="#865814"/>
<path d="M440.2 293.3L441.0 282.4L441.7 293.3Z" fill="#612105"/>
<path d="M338.3 297.1L338.9 291.6L339.5 297.1Z" fill="#471204"/>
<path d="M339.3 297.1L339.9 292.1L340.5 297.1Z" fill="#3c0c04"/>
<path d="M380.0 295.6L380.9 291.4L381.7 295.6Z" fill="#3c0c04"/>
<path d="M352.7 296.6L353.5 290.2L354.2 296.6Z" fill="#662907"/>
<path d="M404.3 294.8L405.2 289.7L406.2 294.8Z" fill="#581c05"/>
<path d="M399.4 295.0L400.4 288.9L401.4 295.0Z" fill="#612105"/>
<path d="M363.9 296.4L364.8 286.2L365.6 296.4Z" fill="#6d3209"/>
<path d="M419.1 294.3L420.2 283.6L421.4 294.3Z" fill="#77410b"/>
<path d="M351.4 296.8L352.4 286.4L353.5 296.8Z" fill="#591c05"/>
<path d="M373.2 296.1L374.1 289.5L375.0 296.1Z" fill="#481304"/>
<path d="M335.4 297.5L336.0 279.6L336.5 297.5Z" fill="#845412"/>
<path d="M333.2 297.6L334.4 293.1L335.5 297.6Z" fill="#441004"/>
<path d="M323.3 298.1L324.2 286.8L325.1 298.1Z" fill="#672a07"/>
<path d="M317.3 298.3L318.5 293.0L319.6 298.3Z" fill="#410e04"/>
<path d="M377.9 296.1L378.9 290.9L380.0 296.1Z" fill="#521805"/>
<path d="M335.4 297.7L336.0 277.5L336.7 297.7Z" fill="#956f22"/>
<path d="M394.7 295.6L395.7 289.5L396.8 295.6Z" fill="#400e04"/>
<path d="M367.1 296.7L368.3 284.9L369.4 296.7Z" fill="#6a2e08"/>
<path d="M316.6 298.5L317.5 290.1L318.5 298.5Z" fill="#4e1604"/>
<path d="M406.5 295.3L407.4 288.5L408.2 295.3Z" fill="#4d1504"/>
<path d="M370.2 296.7L370.9 290.5L371.5 296.7Z" fill="#441004"/>
<path d="M425.2 294.8L426.2 283.2L427.2 294.8Z" fill="#78430c"/>
<path d="M332.6 298.2L333.5 292.3L334.4 298.2Z" fill="#481304"/>
<path d="M423.9 294.9L425.0 290.6L426.0 294.9Z" fill="#410f04"/>
<path d="M417.0 295.2L418.1 286.6L419.3 295.2Z" fill="#591d05"/>
<path d="M343.4 297.9L344.5 291.9L345.7 297.9Z" fill="#491304"/>
<path d="M333.5 298.3L334.3 291.5L335.2 298.3Z" fill="#4a1404"/>
<path d="M351.9 297.7L352.9 280.2L353.9 297.7Z" fill="#8d621a"/>
<path d="M435.5 294.7L436.5 288.5L437.5 294.7Z" fill="#602005"/>
<path d="M410.6 295.6L411.8 288.5L412.9 295.6Z" fill="#4f1705"/>
<path d="M344.5 298.0L345.2 293.1L345.9 298.0Z" fill="#551a05"/>
<path d="M436.0 294.8L436.8 281.1L437.6 294.8Z" fill="#825210"/>
<path d="M336.8 298.4L337.6 294.6L338.4 298.4Z" fill="#3c0c04"/>
<path d="M424.7 295.3L425.4 280.2L426.1 295.3Z" fill="#7e4c0d"/>
<path d="M430.0 295.1L431.0 281.4L432.1 295.1Z" fill="#7e4b0d"/>
<path d="M371.1 297.3L371.7 281.9L372.2 297.3Z" fill="#977224"/>
<path d="M368.5 297.4L369.5 284.6L370.4 297.4Z" fill="#804e0e"/>
<path d="M326.5 298.9L327.5 295.1L328.5 298.9Z" fill="#3d0c04"/>
<path d="M443.8 294.7L444.6 289.0L445.5 294.7Z" fill="#5c1f05"/>
<path d="M392.4 296.6L393.5 292.3L394.5 296.6Z" fill="#451104"/>
<path d="M442.1 294.8L443.0 291.1L444.0 294.8Z" fill="#4d1604"/>
<path d="M429.5 295.3L430.5 289.0L431.4 295.3Z" fill="#541a05"/>
<path d="M441.0 294.9L441.9 271.9L442.8 294.9Z" fill="#b59b58"/>
<path d="M417.1 295.8L417.9 286.5L418.7 295.8Z" fill="#743d0a"/>
<path d="M383.7 297.0L384.5 285.3L385.2 297.0Z" fill="#622206"/>
<path d="M375.5 297.3L376.3 289.2L377.2 297.3Z" fill="#682b07"/>
<path d="M393.7 296.6L394.3 277.9L394.9 296.6Z" fill="#8b6019"/>
<path d="M318.2 299.4L319.1 294.2L319.9 299.4Z" fill="#5a1d05"/>
<path d="M341.1 298.6L341.9 285.4L342.7 298.6Z" fill="#865814"/>
<path d="M404.9 296.3L406.0 291.9L407.0 296.3Z" fill="#521805"/>
<path d="M394.1 296.8L395.1 273.8L396.1 296.8Z" fill="#d7c8a0"/>
<path d="M372.1 297.6L373.2 292.4L374.2 297.6Z" fill="#3f0d04"/>
<path d="M345.6 298.6L346.5 295.0L347.3 298.6Z" fill="#491304"/>
<path d="M355.0 298.2L355.6 294.4L356.2 298.2Z" fill="#3c0c04"/>
<path d="M424.9 295.7L425.6 286.0L426.2 295.7Z" fill="#541905"/>
<path d="M385.7 297.2L386.4 290.6L387.2 297.2Z" fill="#451104"/>
<path d="M348.1 298.6L349.2 293.6L350.3 298.6Z" fill="#591c05"/>
<path d="M408.1 296.5L408.9 273.5L409.7 296.5Z" fill="#bba366"/>
<path d="M414.1 296.3L414.7 290.9L415.3 296.3Z" fill="#561b05"/>
<path d="M423.2 296.0L423.8 288.5L424.3 296.0Z" fill="#5b1e05"/>
<path d="M348.8 298.7L349.4 294.6L350.0 298.7Z" fill="#4e1604"/>
<path d="M316.8 299.8L317.8 291.2L318.8 299.8Z" fill="#5f2005"/>
<path d="M342.5 298.9L343.5 288.5L344.6 298.9Z" fill="#7b470c"/>
<path d="M443.7 295.4L444.5 288.8L445.3 295.4Z" fill="#4b1504"/>
<path d="M369.7 298.1L370.2 293.9L370.8 298.1Z" fill="#471204"/>
<path d="M355.7 298.5L356.7 292.6L357.7 298.5Z" fill="#5d1f05"/>
<path d="M342.0 299.1L342.7 287.2L343.4 299.1Z" fill="#71390a"/>
<path d="M385.6 297.6L386.7 287.6L387.8 297.6Z" fill="#72390a"/>
<path d="M340.2 299.2L341.4 292.9L342.5 299.2Z" fill="#591c05"/>
<path d="M350.2 298.9L351.3 294.2L352.3 298.9Z" fill="#3e0d04"/>
<path d="M426.9 296.2L427.7 291.9L428.6 296.2Z" fill="#481304"/>
<path d="M410.4 296.8L411.3 292.9L412.2 296.8Z" fill="#551a05"/>
<path d="M418.4 296.5L419.1 289.2L419.7 296.5Z" fill="#5d1f05"/>
<path d="M403.2 297.1L404.1 291.5L404.9 297.1Z" fill="#4f1705"/>
<path d="M398.4 297.3L399.4 292.6L400.4 297.3Z" fill="#431004"/>
<path d="M431.4 296.1L432.0 289.3L432.6 296.1Z" fill="#561b05"/>
<path d="M360.2 298.7L360.9 283.2L361.6 298.7Z" fill="#895c17"/>
<path d="M348.7 299.2L349.7 294.0L350.7 299.2Z" fill="#431004"/>
<path d="M347.8 299.2L348.5 294.4L349.2 299.2Z" fill="#471204"/>
<path d="M373.8 298.3L374.7 291.6L375.6 298.3Z" fill="#4a1404"/>
<path d="M437.6 296.1L438.4 292.1L439.2 296.1Z" fill="#3c0c04"/>
<path d="M426.9 296.5L427.9 284.7L429.0 296.5Z" fill="#602105"/>
<path d="M328.9 300.0L329.5 286.8L330.0 300.0Z" fill="#885b16"/>
<path d="M419.7 296.8L420.5 288.1L421.3 296.8Z" fill="#5a1d05"/>
<path d="M356.7 299.1L357.4 291.6L358.2 299.1Z" fill="#4f1705"/>
<path d="M323.7 300.2L324.7 296.2L325.7 300.2Z" fill="#3c0c04"/>
<path d="M334.6 299.9L335.3 295.7L335.9 299.9Z" fill="#3c0c04"/>
<path d="M426.1 296.7L427.1 293.1L428.2 296.7Z" fill="#3c0c04"/>
<path d="M399.1 297.7L399.8 291.0L400.5 297.7Z" fill="#612105"/>
<path d="M410.9 297.3L411.9 291.7L412.9 297.3Z" fill="#4b1504"/>
<path d="M358.2 299.2L358.8 291.8L359.4 299.2Z" fill="#5d1f05"/>
<path d="M359.0 299.2L360.0 294.6L361.0 299.2Z" fill="#420f04"/>
<path d="M435.3 296.6L436.1 292.9L436.9 296.6Z" fill="#3c0c04"/>
<path d="M365.0 299.1L365.7 293.8L366.3 299.1Z" fill="#400e04"/>
<path d="M318.2 300.8L318.8 296.3L319.5 300.8Z" fill="#531905"/>
<path d="M356.1 299.5L357.1 294.6L358.1 299.5Z" fill="#420f04"/>
<path d="M338.4 300.2L339.3 294.9L340.1 300.2Z" fill="#511805"/>
<path d="M338.2 300.2L339.2 294.1L340.2 300.2Z" fill="#481304"/>
<path d="M418.2 297.4L419.1 293.7L420.0 297.4Z" fill="#3c0c04"/>
<path d="M380.7 298.8L381.3 294.1L382.0 298.8Z" fill="#420f04"/>
<path d="M355.8 299.7L356.5 291.2L357.2 299.7Z" fill="#4d1504"/>
<path d="M326.5 300.9L327.4 294.5L328.3 300.9Z" fill="#652606"/>
<path d="M365.8 299.5L366.4 291.5L367.0 299.5Z" fill="#5d1f05"/>
<path d="M443.7 296.7L444.7 288.4L445.7 296.7Z" fill="#602105"/>
<path d="M331.6 300.8L332.5 297.2L333.4 300.8Z" fill="#4b1404"/>
<path d="M350.4 300.2L351.5 294.9L352.6 300.2Z" fill="#4b1504"/>
<path d="M435.5 297.2L436.5 293.2L437.6 297.2Z" fill="#3d0d04"/>
<path d="M361.5 299.8L362.6 294.1L363.7 299.8Z" fill="#3f0e04"/>
<path d="M379.7 299.2L380.6 294.2L381.6 299.2Z" fill="#491304"/>
<path d="M402.7 298.4L403.8 288.0L405.0 298.4Z" fill="#612105"/>
<path d="M344.2 300.5L344.9 277.5L345.7 300.5Z" fill="#bda66a"/>
<path d="M370.2 299.6L370.9 294.3L371.6 299.6Z" fill="#561b05"/>
<path d="M319.6 301.4L320.5 293.9L321.4 301.4Z" fill="#4a1404"/>
<path d="M337.8 300.9L338.4 296.5L338.9 300.9Z" fill="#3c0c04"/>
<path d="M395.3 298.8L396.4 293.6L397.5 298.8Z" fill="#531905"/>
<path d="M431.4 297.6L432.2 293.9L433.1 297.6Z" fill="#4d1504"/>
<path d="M383.8 299.3L384.8 292.9L385.9 299.3Z" fill="#501705"/>
<path d="M321.1 301.5L321.9 291.6L322.8 301.5Z" fill="#692c07"/>
<path d="M380.8 299.4L381.7 292.9L382.7 299.4Z" fill="#4b1504"/>
<path d="M402.7 298.8L403.6 291.5L404.5 298.8Z" fill="#642606"/>
<path d="M421.9 298.1L422.7 294.4L423.4 298.1Z" fill="#461204"/>
<path d="M343.0 300.9L343.6 294.5L344.2 300.9Z" fill="#4d1604"/>
<path d="M428.7 297.9L429.6 280.0L430.5 297.9Z" fill="#af944d"/>
<path d="M408.4 298.7L409.3 284.2L410.2 298.7Z" fill="#7f4d0d"/>
<path d="M422.7 298.3L423.3 292.2L423.8 298.3Z" fill="#551a05"/>
<path d="M422.3 298.3L423.2 293.5L424.2 298.3Z" fill="#491304"/>
<path d="M322.5 301.8L323.2 290.2L323.8 301.8Z" fill="#642606"/>
<path d="M382.5 299.7L383.2 294.8L383.9 299.7Z" fill="#431004"/>
<path d="M422.6 298.3L423.2 293.8L423.8 298.3Z" fill="#491304"/>
<path d="M441.6 297.8L442.6 287.6L443.6 297.8Z" fill="#6a2e08"/>
<path d="M418.3 298.6L419.4 292.4L420.5 298.6Z" fill="#400e04"/>
<path d="M401.0 299.2L402.2 295.0L403.3 299.2Z" fill="#3c0c04"/>
<path d="M419.3 298.6L420.0 293.2L420.7 298.6Z" fill="#4d1604"/>
<path d="M373.5 300.2L374.6 285.0L375.8 300.2Z" fill="#79440c"/>
<path d="M364.1 300.6L365.1 290.9L366.0 300.6Z" fill="#642506"/>
<path d="M353.8 301.0L354.9 296.5L356.0 301.0Z" fill="#451104"/>
<path d="M366.8 300.6L367.7 293.1L368.6 300.6Z" fill="#602105"/>
<path d="M384.5 300.0L385.2 294.6L385.9 300.0Z" fill="#521805"/>
<path d="M405.3 299.3L406.2 295.6L407.2 299.3Z" fill="#501705"/>
<path d="M435.2 298.3L436.1 291.4L437.0 298.3Z" fill="#461204"/>
<path d="M391.6 299.9L392.4 295.3L393.2 299.9Z" fill="#551a05"/>
<path d="M370.5 300.6L371.3 296.6L372.1 300.6Z" fill="#431004"/>
<path d="M378.0 300.4L378.6 293.1L379.2 300.4Z" fill="#5c1e05"/>
<path d="M432.8 298.5L433.6 284.9L434.4 298.5Z" fill="#845412"/>
<path d="M411.6 299.3L412.8 294.8L413.9 299.3Z" fill="#441104"/>
<path d="M428.8 298.7L429.7 292.5L430.5 298.7Z" fill="#602105"/>
<path d="M375.2 300.6L376.1 293.2L377.1 300.6Z" fill="#4f1705"/>
<path d="M341.6 301.7L342.6 287.3L343.6 301.7Z" fill="#845512"/>
<path d="M444.6 298.3L445.6 289.6L446.5 298.3Z" fill="#703709"/>
<path d="M424.0 299.0L424.6 286.1L425.3 299.0Z" fill="#7e4b0d"/>
<path d="M393.1 300.1L394.0 282.3L394.8 300.1Z" fill="#8b6019"/>
<path d="M382.5 300.5L383.5 288.4L384.5 300.5Z" fill="#6e3409"/>
<path d="M355.3 301.5L356.1 289.8L356.8 301.5Z" fill="#723a0a"/>
<path d="M342.2 302.0L343.3 291.4L344.3 302.0Z" fill="#6a2e08"/>
<path d="M390.0 300.3L391.1 294.5L392.2 300.3Z" fill="#3e0d04"/>
<path d="M381.4 300.7L382.2 296.9L383.0 300.7Z" fill="#431004"/>
<path d="M359.6 301.5L360.7 297.0L361.7 301.5Z" fill="#531905"/>
<path d="M319.6 302.9L320.6 292.6L321.6 302.9Z" fill="#79440c"/>
<path d="M423.9 299.4L424.8 291.3L425.7 299.4Z" fill="#541a05"/>
<path d="M320.6 303.0L321.7 294.5L322.9 303.0Z" fill="#5c1e05"/>
<path d="M315.8 303.2L316.7 293.7L317.5 303.2Z" fill="#743d0a"/>
<path d="M445.9 298.8L447.0 293.6L448.0 298.8Z" fill="#3c0c04"/>
<path d="M364.7 301.6L365.5 296.9L366.2 301.6Z" fill="#3c0c04"/>
<path d="M417.4 299.9L418.0 296.3L418.6 299.9Z" fill="#3c0c04"/>
<path d="M327.3 303.0L327.9 290.9L328.4 303.0Z" fill="#612105"/>
<path d="M386.9 301.1L387.5 294.7L388.1 301.1Z" fill="#4a1404"/>
<path d="M434.3 299.5L435.4 294.7L436.6 299.5Z" fill="#451104"/>
<path d="M362.7 302.0L363.8 290.9L364.8 302.0Z" fill="#6d3208"/>
<path d="M343.7 302.6L344.6 279.6L345.4 302.6Z" fill="#9e7d2b"/>
<path d="M435.0 299.5L436.1 286.7L437.2 299.5Z" fill="#77410b"/>
<path d="M437.5 299.4L438.2 293.9L438.9 299.4Z" fill="#400e04"/>
<path d="M372.5 301.7L373.3 297.2L374.0 301.7Z" fill="#511805"/>
<path d="M395.9 300.9L396.7 293.5L397.5 300.9Z" fill="#682b07"/>
<path d="M412.3 300.4L413.4 283.8L414.4 300.4Z" fill="#7c490d"/>
<path d="M396.0 301.1L397.1 292.3L398.3 301.1Z" fill="#692c07"/>
<path d="M339.7 303.0L340.5 298.5L341.3 303.0Z" fill="#3c0c04"/>
<path d="M427.7 300.0L428.4 294.9L429.0 300.0Z" fill="#5c1e05"/>
<path d="M392.8 301.3L393.6 296.3L394.3 301.3Z" fill="#3c0c04"/>
<path d="M421.5 300.3L422.6 284.9L423.8 300.3Z" fill="#8a5e18"/>
<path d="M396.2 301.3L397.3 295.0L398.4 301.3Z" fill="#4f1705"/>
<path d="M387.6 301.6L388.6 297.0L389.6 301.6Z" fill="#3c0c04"/>
<path d="M383.5 301.8L384.2 288.6L385.0 301.8Z" fill="#835411"/>
<path d="M373.7 302.2L374.3 296.9L374.9 302.2Z" fill="#441104"/>
<path d="M383.4 301.9L384.2 296.1L384.9 301.9Z" fill="#3c0c04"/>
<path d="M383.2 301.9L384.3 296.2L385.5 301.9Z" fill="#5d1f05"/>
<path d="M429.2 300.4L429.8 287.0L430.4 300.4Z" fill="#7a450c"/>
<path d="M416.7 300.9L417.5 296.9L418.2 300.9Z" fill="#451104"/>
<path d="M396.9 301.6L397.8 297.8L398.7 301.6Z" fill="#431004"/>
<path d="M385.5 302.0L386.6 294.6L387.6 302.0Z" fill="#612105"/>
<path d="M419.5 300.9L420.4 292.9L421.3 300.9Z" fill="#4d1604"/>
<path d="M432.6 300.6L433.3 291.0L434.0 300.6Z" fill="#602105"/>
<path d="M441.7 300.3L442.8 296.3L443.9 300.3Z" fill="#3e0d04"/>
<path d="M395.8 301.9L396.6 296.1L397.4 301.9Z" fill="#451104"/>
<path d="M376.2 302.6L377.3 295.2L378.3 302.6Z" fill="#4c1504"/>
<path d="M395.3 302.0L396.1 295.5L396.9 302.0Z" fill="#4c1504"/>
<path d="M442.4 300.4L443.5 291.0L444.6 300.4Z" fill="#571b05"/>
<path d="M416.3 301.3L417.3 297.6L418.2 301.3Z" fill="#501805"/>
<path d="M384.5 302.4L385.1 297.4L385.8 302.4Z" fill="#4d1604"/>
<path d="M361.6 303.2L362.3 299.3L362.9 303.2Z" fill="#541a05"/>
<path d="M398.2 302.0L399.1 294.2L400.1 302.0Z" fill="#6b3008"/>
<path d="M395.4 302.1L396.1 298.1L396.8 302.1Z" fill="#3c0c04"/>
<path d="M373.9 302.8L374.6 286.1L375.3 302.8Z" fill="#987426"/>
<path d="M437.1 300.7L437.9 294.9L438.7 300.7Z" fill="#5a1d05"/>
<path d="M397.9 302.1L398.7 297.2L399.5 302.1Z" fill="#4d1604"/>
<path d="M425.3 301.3L425.9 295.9L426.5 301.3Z" fill="#410f04"/>
<path d="M413.3 301.7L414.4 297.7L415.5 301.7Z" fill="#541a05"/>
<path d="M380.0 302.9L380.6 294.3L381.2 302.9Z" fill="#551a05"/>
<path d="M420.1 301.5L421.2 295.1L422.2 301.5Z" fill="#521905"/>
<path d="M410.7 301.8L411.4 295.0L412.0 301.8Z" fill="#5a1d05"/>
<path d="M340.3 304.2L340.9 298.3L341.5 304.2Z" fill="#531905"/>
<path d="M326.9 304.7L328.0 295.8L329.1 304.7Z" fill="#521805"/>
<path d="M436.0 301.0L436.7 295.9L437.4 301.0Z" fill="#531905"/>
<path d="M368.7 303.3L369.8 299.2L370.9 303.3Z" fill="#4a1404"/>
<path d="M360.2 303.6L360.9 299.7L361.5 303.6Z" fill="#3c0c04"/>
<path d="M400.1 302.3L401.2 295.6L402.3 302.3Z" fill="#4a1404"/>
<path d="M422.4 301.6L423.5 295.3L424.6 301.6Z" fill="#5a1d05"/>
<path d="M432.1 301.2L432.9 295.2L433.6 301.2Z" fill="#4c1504"/>
<path d="M406.4 302.2L407.1 298.6L407.8 302.2Z" fill="#4c1504"/>
<path d="M327.5 304.9L328.7 301.3L329.8 304.9Z" fill="#4b1504"/>
<path d="M414.6 301.9L415.5 292.9L416.4 301.9Z" fill="#723a0a"/>
<path d="M375.6 303.3L376.2 298.9L376.9 303.3Z" fill="#400e04"/>
<path d="M331.3 304.8L331.8 300.8L332.4 304.8Z" fill="#4e1604"/>
<path d="M324.1 305.1L325.1 297.8L326.2 305.1Z" fill="#531905"/>
<path d="M352.5 304.2L353.1 294.4L353.7 304.2Z" fill="#703709"/>
<path d="M350.0 304.2L350.7 299.8L351.4 304.2Z" fill="#3c0c04"/>
<path d="M344.9 304.5L345.6 294.2L346.3 304.5Z" fill="#6a2f08"/>
<path d="M363.0 303.8L363.9 292.1L364.8 303.8Z" fill="#723a0a"/>
<path d="M416.2 302.1L417.2 294.0L418.3 302.1Z" fill="#591d05"/>
<path d="M350.7 304.5L351.6 295.8L352.4 304.5Z" fill="#6f3509"/>
<path d="M393.3 303.1L394.1 292.9L394.9 303.1Z" fill="#78420b"/>
<path d="M378.7 303.6L379.7 295.2L380.6 303.6Z" fill="#5c1e05"/>
<path d="M327.7 305.5L328.3 300.5L328.9 305.5Z" fill="#4e1604"/>
<path d="M442.1 301.6L442.8 289.1L443.4 301.6Z" fill="#825110"/>
<path d="M346.0 304.9L346.5 298.9L347.1 304.9Z" fill="#5e1f05"/>
<path d="M422.8 302.4L423.7 298.0L424.5 302.4Z" fill="#501705"/>
<path d="M432.6 302.1L433.4 295.1L434.3 302.1Z" fill="#4c1504"/>
<path d="M430.8 302.1L431.8 298.5L432.8 302.1Z" fill="#3c0c04"/>
<path d="M377.8 303.9L378.8 299.8L379.7 303.9Z" fill="#481304"/>
<path d="M324.9 305.7L325.7 301.5L326.5 305.7Z" fill="#3c0c04"/>
<path d="M404.8 303.1L405.7 293.1L406.6 303.1Z" fill="#571b05"/>
<path d="M389.5 303.6L390.1 293.8L390.7 303.6Z" fill="#561b05"/>
<path d="M378.8 304.0L379.6 292.5L380.5 304.0Z" fill="#743c0a"/>
<path d="M398.3 303.3L399.0 297.6L399.7 303.3Z" fill="#5e1f05"/>
<path d="M399.7 303.3L400.3 299.4L400.8 303.3Z" fill="#521905"/>
<path d="M325.7 305.8L326.4 296.3L327.0 305.8Z" fill="#5d1f05"/>
<path d="M408.3 303.2L409.1 284.4L409.8 303.2Z" fill="#885a16"/>
<path d="M405.6 303.3L406.4 280.4L407.2 303.3Z" fill="#d7c8a0"/>
<path d="M377.8 304.3L378.9 296.3L380.0 304.3Z" fill="#662907"/>
<path d="M410.3 303.2L411.1 283.9L411.9 303.2Z" fill="#8c621a"/>
<path d="M441.9 302.2L443.1 294.1L444.2 302.2Z" fill="#4b1404"/>
<path d="M421.7 302.9L422.4 298.4L423.0 302.9Z" fill="#3c0c04"/>
<path d="M417.8 303.1L418.8 298.3L419.8 303.1Z" fill="#471204"/>
<path d="M414.5 303.3L415.4 297.4L416.3 303.3Z" fill="#531905"/>
<path d="M331.6 306.1L332.5 301.4L333.3 306.1Z" fill="#3f0e04"/>
<path d="M432.6 302.8L433.4 298.0L434.2 302.8Z" fill="#481304"/>
<path d="M432.0 302.8L432.6 296.9L433.2 302.8Z" fill="#602105"/>
<path d="M414.6 303.4L415.4 295.1L416.2 303.4Z" fill="#652706"/>
<path d="M343.8 305.8L344.5 299.4L345.2 305.8Z" fill="#431004"/>
<path d="M441.5 302.5L442.3 293.9L443.0 302.5Z" fill="#5d1f05"/>
<path d="M381.5 304.5L382.4 290.1L383.3 304.5Z" fill="#8f661d"/>
<path d="M318.6 306.7L319.4 301.5L320.1 306.7Z" fill="#5d1f05"/>
<path d="M325.5 306.5L326.6 300.1L327.6 306.5Z" fill="#642506"/>
<path d="M363.4 305.2L364.4 290.3L365.4 305.2Z" fill="#804e0e"/>
<path d="M442.8 302.6L443.8 288.0L444.8 302.6Z" fill="#825110"/>
<path d="M401.3 304.0L402.0 298.6L402.8 304.0Z" fill="#481304"/>
<path d="M428.4 303.1L429.1 293.9L429.7 303.1Z" fill="#511805"/>
<path d="M407.1 303.8L407.7 300.3L408.4 303.8Z" fill="#3d0c04"/>
<path d="M399.6 304.1L400.5 298.8L401.3 304.1Z" fill="#441004"/>
<path d="M350.2 305.8L351.0 299.1L351.7 305.8Z" fill="#612105"/>
<path d="M352.7 305.8L353.5 291.4L354.2 305.8Z" fill="#753e0b"/>
<path d="M378.5 305.0L379.1 287.2L379.6 305.0Z" fill="#997626"/>
<path d="M394.9 304.4L395.8 300.4L396.7 304.4Z" fill="#4c1504"/>
<path d="M362.7 305.5L363.8 301.1L364.9 305.5Z" fill="#561b05"/>
<path d="M351.2 306.0L352.3 301.1L353.5 306.0Z" fill="#521805"/>
<path d="M417.8 303.9L418.4 294.6L419.0 303.9Z" fill="#6c3208"/>
<path d="M359.6 305.8L360.5 299.5L361.5 305.8Z" fill="#511805"/>
<path d="M392.7 304.7L393.4 289.4L394.0 304.7Z" fill="#926b20"/>
<path d="M344.1 306.3L345.2 295.0L346.4 306.3Z" fill="#733b0a"/>
<path d="M445.4 303.0L446.4 298.4L447.4 303.0Z" fill="#451104"/>
<path d="M433.3 303.4L434.3 296.0L435.3 303.4Z" fill="#622206"/>
<path d="M363.8 305.8L364.4 301.3L365.1 305.8Z" fill="#561b05"/>
<path d="M405.1 304.4L406.1 300.5L407.0 304.4Z" fill="#4b1504"/>
<path d="M376.1 305.4L377.3 301.7L378.4 305.4Z" fill="#400e04"/>
<path d="M344.4 306.5L345.0 294.0L345.6 306.5Z" fill="#692d08"/>
<path d="M345.2 306.5L346.3 302.8L347.4 306.5Z" fill="#531905"/>
<path d="M421.2 304.1L422.3 297.8L423.3 304.1Z" fill="#581c05"/>
<path d="M384.1 305.3L385.2 300.2L386.3 305.3Z" fill="#581c05"/>
<path d="M384.5 305.3L385.5 299.7L386.4 305.3Z" fill="#491304"/>
<path d="M417.7 304.2L418.3 296.7L418.9 304.2Z" fill="#4f1705"/>
<path d="M385.4 305.3L386.1 294.5L386.7 305.3Z" fill="#672907"/>
<path d="M417.6 304.3L418.2 300.3L418.9 304.3Z" fill="#541a05"/>
<path d="M368.3 305.9L368.9 300.1L369.5 305.9Z" fill="#5f2005"/>
<path d="M376.3 305.7L377.1 294.3L377.9 305.7Z" fill="#703609"/>
<path d="M335.3 307.1L336.0 290.3L336.7 307.1Z" fill="#865814"/>
<path d="M344.6 306.8L345.4 302.3L346.1 306.8Z" fill="#541a05"/>
<path d="M418.6 304.4L419.3 294.3L420.1 304.4Z" fill="#541a05"/>
<path d="M433.1 303.9L433.9 296.2L434.7 303.9Z" fill="#692c07"/>
<path d="M388.4 305.4L389.4 288.4L390.5 305.4Z" fill="#9f7f2c"/>
<path d="M323.5 307.6L324.2 294.9L324.9 307.6Z" fill="#81500f"/>
<path d="M350.9 306.7L352.1 303.0L353.2 306.7Z" fill="#451104"/>
<path d="M430.7 304.2L431.5 298.4L432.3 304.2Z" fill="#521905"/>
<path d="M426.1 304.4L426.7 300.6L427.4 304.4Z" fill="#4b1404"/>
<path d="M388.3 305.6L388.9 299.3L389.6 305.6Z" fill="#3f0e04"/>
<path d="M330.6 307.6L331.6 301.4L332.6 307.6Z" fill="#612105"/>
<path d="M360.1 306.6L360.9 301.6L361.7 306.6Z" fill="#491304"/>
<path d="M321.6 307.9L322.6 296.0L323.5 307.9Z" fill="#632306"/>
<path d="M405.4 305.1L406.3 298.3L407.2 305.1Z" fill="#491304"/>
<path d="M319.0 308.1L319.7 301.2L320.3 308.1Z" fill="#5a1d05"/>
<path d="M330.7 307.7L331.3 301.6L332.0 307.7Z" fill="#481204"/>
<path d="M365.1 306.6L365.8 299.8L366.6 306.6Z" fill="#5c1e05"/>
<path d="M434.8 304.3L436.0 299.2L437.1 304.3Z" fill="#4a1404"/>
<path d="M374.2 306.3L375.0 296.0L375.7 306.3Z" fill="#77420b"/>
<path d="M319.8 308.1L320.6 304.5L321.4 308.1Z" fill="#491304"/>
<path d="M417.8 304.9L418.9 299.8L420.1 304.9Z" fill="#531905"/>
<path d="M338.0 307.6L338.8 301.9L339.6 307.6Z" fill="#5c1f05"/>
<path d="M446.4 304.1L447.2 298.3L448.0 304.1Z" fill="#471204"/>
<path d="M407.2 305.3L408.1 292.2L408.9 305.3Z" fill="#7e4c0d"/>
<path d="M373.3 306.5L374.2 301.9L375.2 306.5Z" fill="#521905"/>
<path d="M389.0 306.0L389.6 301.4L390.1 306.0Z" fill="#521905"/>
<path d="M352.9 307.2L353.9 302.4L354.9 307.2Z" fill="#4d1604"/>
<path d="M362.5 306.9L363.3 302.8L364.1 306.9Z" fill="#420f04"/>
<path d="M367.6 306.8L368.1 298.8L368.7 306.8Z" fill="#551a05"/>
<path d="M432.0 304.7L432.8 300.0L433.6 304.7Z" fill="#3d0c04"/>
<path d="M418.4 305.1L419.4 300.3L420.4 305.1Z" fill="#491304"/>
<path d="M317.4 308.5L318.0 299.0L318.7 308.5Z" fill="#591c05"/>
<path d="M392.9 306.1L393.9 293.3L394.9 306.1Z" fill="#835311"/>
<path d="M434.4 304.8L435.5 299.8L436.6 304.8Z" fill="#591c05"/>
<path d="M376.3 306.7L376.9 294.9L377.5 306.7Z" fill="#743c0a"/>
<path d="M344.1 307.7L345.1 303.8L346.1 307.7Z" fill="#501805"/>
<path d="M362.4 307.2L363.4 302.4L364.5 307.2Z" fill="#461204"/>
<path d="M410.0 305.6L410.9 300.3L411.7 305.6Z" fill="#5e2005"/>
<path d="M383.8 306.5L384.5 302.9L385.2 306.5Z" fill="#4c1504"/>
<path d="M332.4 308.2L333.0 302.8L333.7 308.2Z" fill="#471204"/>
<path d="M391.2 306.3L391.8 299.8L392.3 306.3Z" fill="#5a1d05"/>
<path d="M390.7 306.3L391.8 299.8L392.9 306.3Z" fill="#451104"/>
<path d="M325.6 308.5L326.3 304.9L327.1 308.5Z" fill="#3c0c04"/>
<path d="M409.2 305.8L410.1 300.5L411.0 305.8Z" fill="#3c0c04"/>
<path d="M365.3 307.3L366.3 298.7L367.2 307.3Z" fill="#571c05"/>
<path d="M404.7 306.0L405.3 285.8L406.0 306.0Z" fill="#c9b684"/>
<path d="M432.3 305.2L432.9 294.2L433.5 305.2Z" fill="#6a2d08"/>
<path d="M321.2 308.8L322.3 305.1L323.4 308.8Z" fill="#471204"/>
<path d="M444.9 304.8L445.5 301.1L446.1 304.8Z" fill="#461204"/>
<path d="M337.9 308.3L338.7 304.0L339.4 308.3Z" fill="#541a05"/>
<path d="M341.1 308.3L341.9 304.8L342.6 308.3Z" fill="#3c0c04"/>
<path d="M323.4 308.9L323.9 291.0L324.5 308.9Z" fill="#9b7828"/>
<path d="M334.3 308.6L335.2 303.9L336.1 308.6Z" fill="#501705"/>
<path d="M441.1 305.1L442.2 301.4L443.2 305.1Z" fill="#3c0c04"/>
<path d="M403.5 306.4L404.3 302.4L405.1 306.4Z" fill="#521905"/>
<path d="M321.2 309.1L321.8 297.4L322.4 309.1Z" fill="#7a460c"/>
<path d="M402.6 306.5L403.5 297.2L404.4 306.5Z" fill="#6d3209"/>
<path d="M444.4 305.2L445.1 297.9L445.8 305.2Z" fill="#511805"/>
<path d="M412.3 306.3L413.3 302.5L414.3 306.3Z" fill="#3c0c04"/>
<path d="M379.6 307.3L380.6 297.8L381.7 307.3Z" fill="#5f2005"/>
<path d="M444.3 305.3L445.1 295.7L445.9 305.3Z" fill="#6a2e08"/>
<path d="M373.5 307.6L374.6 303.8L375.6 307.6Z" fill="#3c0c04"/>
<path d="M417.9 306.2L418.6 298.8L419.4 306.2Z" fill="#4e1604"/>
<path d="M361.4 308.0L362.2 303.2L363.0 308.0Z" fill="#541a05"/>
<path d="M325.2 309.2L325.9 301.4L326.7 309.2Z" fill="#4f1705"/>
<path d="M351.4 308.4L352.0 303.7L352.5 308.4Z" fill="#571c05"/>
<path d="M326.2 309.2L327.0 296.4L327.7 309.2Z" fill="#81500f"/>
<path d="M324.8 309.3L325.7 305.3L326.7 309.3Z" fill="#471204"/>
<path d="M329.2 309.2L330.2 296.7L331.1 309.2Z" fill="#642506"/>
<path d="M386.8 307.3L387.9 298.4L388.9 307.3Z" fill="#571c05"/>
<path d="M434.6 305.9L435.5 301.0L436.4 305.9Z" fill="#3c0c04"/>
<path d="M379.9 307.6L380.6 302.3L381.4 307.6Z" fill="#420f04"/>
<path d="M416.8 306.4L417.9 300.4L419.0 306.4Z" fill="#602105"/>
<path d="M349.6 308.6L350.7 299.4L351.7 308.6Z" fill="#5b1e05"/>
<path d="M392.6 307.2L393.7 295.5L394.9 307.2Z" fill="#642506"/>
<path d="M399.7 307.1L400.3 299.9L400.9 307.1Z" fill="#4c1504"/>
<path d="M399.3 307.1L400.0 300.4L400.8 307.1Z" fill="#501705"/>
<path d="M336.5 309.2L337.6 305.5L338.7 309.2Z" fill="#4a1404"/>
<path d="M350.6 308.7L351.5 303.1L352.4 308.7Z" fill="#551a05"/>
<path d="M391.8 307.4L392.8 300.7L393.8 307.4Z" fill="#491404"/>
<path d="M324.4 309.6L325.2 305.9L326.0 309.6Z" fill="#491304"/>
<path d="M391.2 307.5L392.1 301.3L392.9 307.5Z" fill="#3f0e04"/>
<path d="M372.7 308.1L373.7 299.0L374.8 308.1Z" fill="#682b07"/>
<path d="M399.3 307.2L400.0 298.1L400.7 307.2Z" fill="#5c1e05"/>
<path d="M446.8 305.7L447.4 286.3L448.0 305.7Z" fill="#a1812f"/>
<path d="M386.9 307.7L387.8 302.6L388.7 307.7Z" fill="#3c0c04"/>
<path d="M343.4 309.1L344.5 305.5L345.6 309.1Z" fill="#3c0c04"/>
<path d="M422.7 306.6L423.4 302.5L424.2 306.6Z" fill="#3c0c04"/>
<path d="M445.1 305.9L446.2 301.3L447.2 305.9Z" fill="#581c05"/>
<path d="M364.3 308.5L365.2 294.7L366.1 308.5Z" fill="#743d0b"/>
<path d="M352.2 309.0L352.8 305.3L353.4 309.0Z" fill="#431004"/>
<path d="M378.7 308.1L379.5 303.3L380.4 308.1Z" fill="#3b0b03"/>
<path d="M419.9 306.9L420.9 301.7L421.9 306.9Z" fill="#420f04"/>
<path d="M326.6 309.9L327.4 306.1L328.2 309.9Z" fill="#471304"/>
<path d="M321.3 310.1L322.1 304.7L322.9 310.1Z" fill="#451104"/>
<path d="M419.9 307.0L420.5 291.0L421.2 307.0Z" fill="#7b480d"/>
<path d="M433.3 306.6L434.3 290.6L435.2 306.6Z" fill="#79460c"/>
<path d="M419.3 307.1L420.2 302.6L421.1 307.1Z" fill="#3e0d04"/>
<path d="M396.0 307.9L396.7 301.6L397.4 307.9Z" fill="#541a05"/>
<path d="M365.1 309.0L365.9 303.4L366.8 309.0Z" fill="#491404"/>
<path d="M370.4 308.8L371.2 300.1L371.9 308.8Z" fill="#622506"/>
<path d="M350.6 309.5L351.5 300.5L352.3 309.5Z" fill="#5f2105"/>
<path d="M327.0 310.3L327.7 299.4L328.5 310.3Z" fill="#6f380a"/>
<path d="M418.8 307.4L419.3 303.7L419.9 307.4Z" fill="#501805"/>
<path d="M334.2 310.1L334.9 303.1L335.6 310.1Z" fill="#451104"/>
<path d="M375.8 308.8L376.6 304.9L377.4 308.8Z" fill="#3a0b03"/>
<path d="M433.7 307.0L434.7 292.5L435.7 307.0Z" fill="#7f5111"/>
<path d="M399.3 308.1L400.0 304.5L400.6 308.1Z" fill="#3a0b03"/>
<path d="M328.0 310.4L329.1 296.3L330.1 310.4Z" fill="#875d18"/>
<path d="M378.9 308.8L380.0 296.2L381.1 308.8Z" fill="#77440c"/>
<path d="M385.1 308.7L385.9 303.1L386.6 308.7Z" fill="#390b03"/>
<path d="M420.3 307.6L421.3 300.9L422.2 307.6Z" fill="#551b05"/>
<path d="M413.6 307.8L414.4 295.5L415.3 307.8Z" fill="#652b07"/>
<path d="M421.3 307.6L422.2 303.0L423.2 307.6Z" fill="#431104"/>
<path d="M335.9 310.3L336.6 305.6L337.3 310.3Z" fill="#441104"/>
<path d="M436.4 307.1L437.5 294.5L438.7 307.1Z" fill="#5f2206"/>
<path d="M337.3 310.3L338.1 304.5L338.8 310.3Z" fill="#571c05"/>
<path d="M385.1 308.8L386.2 301.5L387.2 308.8Z" fill="#4c1604"/>
<path d="M394.4 308.5L395.2 285.5L396.0 308.5Z" fill="#a38840"/>
<path d="M434.3 307.3L435.4 303.5L436.5 307.3Z" fill="#410f04"/>
<path d="M404.8 308.3L405.5 299.0L406.2 308.3Z" fill="#6b3509"/>
<path d="M413.4 308.0L414.1 294.8L414.9 308.0Z" fill="#6d380a"/>
<path d="M366.9 309.6L367.9 294.8L368.9 309.6Z" fill="#855c18"/>
<path d="M366.8 309.7L367.9 303.5L369.0 309.7Z" fill="#411004"/>
<path d="M408.8 308.4L409.3 285.4L409.9 308.4Z" fill="#cbbc96"/>
<path d="M417.6 308.1L418.3 297.2L419.1 308.1Z" fill="#75440c"/>
<path d="M379.5 309.3L380.6 304.0L381.7 309.3Z" fill="#4a1504"/>
<path d="M366.9 309.7L367.6 288.4L368.4 309.7Z" fill="#bdab7b"/>
<path d="M383.4 309.3L384.3 302.3L385.2 309.3Z" fill="#4c1604"/>
<path d="M376.8 309.6L377.4 304.5L377.9 309.6Z" fill="#390c03"/>
<path d="M417.7 308.3L418.3 294.4L418.9 308.3Z" fill="#825917"/>
<path d="M422.0 308.3L422.9 297.3L423.7 308.3Z" fill="#683209"/>
<path d="M331.3 311.2L332.2 307.5L333.1 311.2Z" fill="#461304"/>
<path d="M439.0 307.9L439.8 296.4L440.7 307.9Z" fill="#652e08"/>
<path d="M370.0 310.0L370.7 306.1L371.4 310.0Z" fill="#370b03"/>
<path d="M329.9 311.3L330.5 306.6L331.2 311.3Z" fill="#461304"/>
<path d="M376.1 309.9L376.8 300.8L377.6 309.9Z" fill="#612907"/>
<path d="M370.4 310.1L371.5 294.8L372.6 310.1Z" fill="#855f1b"/>
<path d="M381.7 309.9L382.3 302.2L382.9 309.9Z" fill="#5f2606"/>
<path d="M424.8 308.6L425.4 301.2L426.1 308.6Z" fill="#481504"/>
<path d="M421.7 308.7L422.5 304.2L423.4 308.7Z" fill="#4a1604"/>
<path d="M423.6 308.7L424.3 303.3L425.0 308.7Z" fill="#461404"/>
<path d="M423.0 308.7L424.0 299.4L424.9 308.7Z" fill="#561d05"/>
<path d="M368.7 310.5L369.5 306.2L370.3 310.5Z" fill="#360a03"/>
<path d="M350.3 311.1L350.9 306.4L351.6 311.1Z" fill="#4a1604"/>
<path d="M343.9 311.4L344.6 306.6L345.3 311.4Z" fill="#390c03"/>
<path d="M321.0 312.1L322.0 307.4L322.9 312.1Z" fill="#360a03"/>
<path d="M408.7 309.3L409.4 302.4L410.1 309.3Z" fill="#501a05"/>
<path d="M346.2 311.3L347.1 295.8L348.0 311.3Z" fill="#86631e"/>
<path d="M368.6 310.6L369.4 304.2L370.2 310.6Z" fill="#3b0d03"/>
<path d="M376.1 310.4L376.7 303.6L377.3 310.4Z" fill="#4d1804"/>
<path d="M387.1 310.0L387.7 306.1L388.4 310.0Z" fill="#461404"/>
<path d="M320.0 312.1L321.1 307.5L322.1 312.1Z" fill="#3e0f04"/>
<path d="M427.7 308.8L428.7 305.0L429.8 308.8Z" fill="#3f1004"/>
<path d="M325.3 312.0L326.0 304.9L326.6 312.0Z" fill="#3f1004"/>
<path d="M398.4 309.7L399.3 306.1L400.2 309.7Z" fill="#360a03"/>
<path d="M340.9 311.6L341.7 303.5L342.5 311.6Z" fill="#581f05"/>
<path d="M418.7 309.2L419.7 299.7L420.8 309.2Z" fill="#4d1804"/>
<path d="M351.0 311.4L352.0 303.8L352.9 311.4Z" fill="#481504"/>
<path d="M338.1 311.9L338.9 301.5L339.7 311.9Z" fill="#531c05"/>
<path d="M377.1 310.7L378.0 298.4L378.9 310.7Z" fill="#5f2a07"/>
<path d="M399.9 310.0L400.6 305.3L401.2 310.0Z" fill="#370b03"/>
<path d="M389.9 310.4L390.6 299.5L391.4 310.4Z" fill="#6b3c0a"/>
<path d="M445.6 308.6L446.4 303.2L447.2 308.6Z" fill="#3b0e03"/>
<path d="M375.3 310.8L376.1 293.3L376.9 310.8Z" fill="#72460d"/>
<path d="M400.9 310.0L401.9 303.2L403.0 310.0Z" fill="#4c1804"/>
<path d="M319.8 312.6L320.5 306.4L321.2 312.6Z" fill="#541d05"/>
<path d="M384.2 310.6L385.1 305.5L385.9 310.6Z" fill="#4e1904"/>
<path d="M380.0 310.7L381.1 296.8L382.1 310.7Z" fill="#602c07"/>
<path d="M349.2 311.7L349.9 300.0L350.6 311.7Z" fill="#531c05"/>
<path d="M358.8 311.5L359.8 303.7L360.8 311.5Z" fill="#471504"/>
<path d="M394.6 310.4L395.6 305.1L396.7 310.4Z" fill="#3e1004"/>
<path d="M440.2 309.0L440.9 300.8L441.5 309.0Z" fill="#411204"/>
<path d="M325.9 312.5L327.0 304.2L328.1 312.5Z" fill="#451404"/>
<path d="M396.0 310.4L396.7 293.1L397.3 310.4Z" fill="#7c5718"/>
<path d="M369.1 311.2L370.3 303.8L371.4 311.2Z" fill="#431304"/>
<path d="M351.1 311.9L351.8 307.6L352.6 311.9Z" fill="#380c03"/>
<path d="M399.5 310.4L400.3 301.2L401.2 310.4Z" fill="#481604"/>
<path d="M334.0 312.5L334.8 299.5L335.6 312.5Z" fill="#643309"/>
<path d="M351.9 311.9L352.9 307.2L353.8 311.9Z" fill="#340a03"/>
<path d="M440.8 309.2L441.7 305.2L442.7 309.2Z" fill="#350b03"/>
<path d="M345.2 312.2L346.0 307.4L346.9 312.2Z" fill="#4c1804"/>
<path d="M367.9 311.6L368.7 303.2L369.5 311.6Z" fill="#521c05"/>
<path d="M390.0 310.9L390.8 305.7L391.6 310.9Z" fill="#330a03"/>
<path d="M390.5 310.9L391.6 291.9L392.7 310.9Z" fill="#977f42"/>
<path d="M395.2 310.8L395.9 299.9L396.7 310.8Z" fill="#562005"/>
<path d="M397.3 310.7L398.4 301.2L399.6 310.7Z" fill="#5e2c07"/>
<path d="M335.0 312.7L335.8 307.1L336.5 312.7Z" fill="#330a03"/>
<path d="M404.3 310.6L405.1 305.1L406.0 310.6Z" fill="#380c03"/>
<path d="M343.8 312.4L344.6 308.8L345.4 312.4Z" fill="#380c03"/>
<path d="M430.5 309.7L431.6 299.4L432.7 309.7Z" fill="#623209"/>
<path d="M416.9 310.2L418.1 305.9L419.2 310.2Z" fill="#3e1004"/>
<path d="M328.8 312.9L329.6 307.0L330.5 312.9Z" fill="#390e03"/>
<path d="M345.9 312.5L346.6 304.7L347.3 312.5Z" fill="#421204"/>
<path d="M331.6 313.1L332.2 308.2L332.8 313.1Z" fill="#320a03"/>
<path d="M351.8 312.5L353.0 305.6L354.1 312.5Z" fill="#521c05"/>
<path d="M433.8 310.0L434.5 301.0L435.2 310.0Z" fill="#531e05"/>
<path d="M358.0 312.5L358.9 308.1L359.9 312.5Z" fill="#3e1104"/>
<path d="M366.0 312.3L366.8 291.3L367.6 312.3Z" fill="#7b5a1b"/>
<path d="M437.4 310.1L438.0 306.5L438.6 310.1Z" fill="#320a03"/>
<path d="M350.5 312.8L351.5 308.4L352.5 312.8Z" fill="#411204"/>
<path d="M401.0 311.3L402.0 305.8L403.0 311.3Z" fill="#491704"/>
<path d="M335.4 313.3L336.1 303.5L336.8 313.3Z" fill="#623409"/>
<path d="M389.5 311.7L390.2 305.8L390.9 311.7Z" fill="#491704"/>
<path d="M335.2 313.4L336.3 304.1L337.5 313.4Z" fill="#582707"/>
<path d="M392.0 311.7L392.8 299.0L393.7 311.7Z" fill="#5f3208"/>
<path d="M318.0 314.0L319.1 303.4L320.2 314.0Z" fill="#5b2b07"/>
<path d="M421.9 310.8L422.6 287.8L423.3 310.8Z" fill="#866d2a"/>
<path d="M344.4 313.2L345.4 299.0L346.4 313.2Z" fill="#683f0b"/>
<path d="M418.6 311.0L419.6 305.6L420.6 311.0Z" fill="#3c1003"/>
<path d="M375.2 312.3L375.9 301.1L376.6 312.3Z" fill="#521d05"/>
<path d="M346.1 313.3L346.8 305.3L347.6 313.3Z" fill="#582706"/>
<path d="M327.5 313.9L328.5 308.7L329.6 313.9Z" fill="#481704"/>
<path d="M348.8 313.3L349.5 304.9L350.3 313.3Z" fill="#401204"/>
<path d="M353.0 313.2L353.7 305.4L354.4 313.2Z" fill="#461604"/>
<path d="M370.4 312.7L371.0 308.2L371.6 312.7Z" fill="#300903"/>
<path d="M420.2 311.2L421.2 307.2L422.2 311.2Z" fill="#401204"/>
<path d="M371.5 312.7L372.3 307.4L373.1 312.7Z" fill="#441504"/>
<path d="M442.7 310.6L443.8 303.0L444.9 310.6Z" fill="#3a0f03"/>
<path d="M409.9 311.7L410.9 307.6L411.9 311.7Z" fill="#380e03"/>
<path d="M386.7 312.4L387.8 305.7L388.9 312.4Z" fill="#4d1a04"/>
<path d="M373.9 312.8L374.6 303.0L375.3 312.8Z" fill="#582a07"/>
<path d="M367.9 313.1L368.9 306.0L369.9 313.1Z" fill="#4c1a04"/>
<path d="M365.9 313.2L366.7 306.9L367.4 313.2Z" fill="#330b03"/>
<path d="M416.5 311.7L417.5 302.7L418.6 311.7Z" fill="#431504"/>
<path d="M372.4 313.1L373.2 303.3L374.0 313.1Z" fill="#4c1a04"/>
<path d="M375.5 313.1L376.1 309.2L376.7 313.1Z" fill="#2f0903"/>
<path d="M328.7 314.6L329.4 308.0L330.1 314.6Z" fill="#411304"/>
<path d="M368.8 313.4L369.9 305.7L370.9 313.4Z" fill="#502005"/>
<path d="M429.3 311.6L430.4 305.1L431.4 311.6Z" fill="#330c03"/>
<path d="M333.3 314.6L334.2 309.3L335.1 314.6Z" fill="#330c03"/>
<path d="M441.9 311.3L442.7 304.6L443.6 311.3Z" fill="#421404"/>
<path d="M428.3 311.8L429.2 301.1L430.1 311.8Z" fill="#592e08"/>
<path d="M431.1 311.7L431.9 308.0L432.7 311.7Z" fill="#360d03"/>
<path d="M326.4 314.9L327.1 303.5L327.9 314.9Z" fill="#552807"/>
<path d="M437.0 311.6L438.1 297.6L439.2 311.6Z" fill="#61390a"/>
<path d="M347.4 314.3L348.2 310.4L348.9 314.3Z" fill="#390f03"/>
<path d="M414.7 312.3L415.8 304.4L416.9 312.3Z" fill="#481804"/>
<path d="M394.4 312.9L395.0 305.5L395.6 312.9Z" fill="#461704"/>
<path d="M359.3 314.0L360.1 305.2L361.0 314.0Z" fill="#4f1f05"/>
<path d="M438.0 311.7L439.0 304.0L440.0 311.7Z" fill="#4f2005"/>
<path d="M354.8 314.2L355.4 305.4L356.0 314.2Z" fill="#451604"/>
<path d="M434.2 311.8L434.8 302.7L435.4 311.8Z" fill="#491904"/>
<path d="M368.3 313.9L369.0 310.3L369.8 313.9Z" fill="#2e0903"/>
<path d="M404.2 312.8L405.2 300.0L406.2 312.8Z" fill="#4e1e05"/>
<path d="M381.1 313.5L382.1 308.3L383.1 313.5Z" fill="#431504"/>
<path d="M377.5 313.6L378.1 306.6L378.7 313.6Z" fill="#411404"/>
<path d="M339.6 314.8L340.7 306.3L341.8 314.8Z" fill="#3a1003"/>
<path d="M345.8 314.7L346.8 305.0L347.7 314.7Z" fill="#3d1203"/>
<path d="M437.9 312.0L438.8 308.1L439.7 312.0Z" fill="#330c03"/>
<path d="M370.7 314.1L371.8 301.5L372.9 314.1Z" fill="#4e2005"/>
<path d="M417.9 312.7L418.6 306.9L419.3 312.7Z" fill="#2d0903"/>
<path d="M397.5 313.3L398.6 302.0L399.7 313.3Z" fill="#502206"/>
<path d="M322.2 315.7L322.8 311.1L323.3 315.7Z" fill="#391003"/>
<path d="M405.0 313.2L405.7 307.0L406.4 313.2Z" fill="#320c03"/>
<path d="M365.8 314.4L366.9 303.0L367.9 314.4Z" fill="#502406"/>
<path d="M396.0 313.5L396.7 308.2L397.5 313.5Z" fill="#451704"/>
<path d="M373.2 314.2L374.2 306.0L375.1 314.2Z" fill="#4b1d05"/>
<path d="M427.9 312.6L429.0 296.9L430.0 312.6Z" fill="#593208"/>
<path d="M327.9 315.6L328.5 311.8L329.0 315.6Z" fill="#2c0802"/>
<path d="M360.4 314.7L361.1 309.6L361.8 314.7Z" fill="#3e1303"/>
<path d="M322.9 315.8L323.9 310.9L325.0 315.8Z" fill="#3f1303"/>
<path d="M429.0 312.7L429.6 308.5L430.3 312.7Z" fill="#2c0802"/>
<path d="M395.3 313.8L396.3 307.6L397.4 313.8Z" fill="#461704"/>
<path d="M364.0 314.7L365.1 310.7L366.3 314.7Z" fill="#370f03"/>
<path d="M361.2 314.8L362.2 307.4L363.1 314.8Z" fill="#3b1103"/>
<path d="M365.1 314.7L365.7 291.7L366.4 314.7Z" fill="#9d9275"/>
<path d="M394.0 313.9L394.9 303.1L395.7 313.9Z" fill="#573008"/>
<path d="M345.9 315.3L347.0 306.7L348.0 315.3Z" fill="#4a1c05"/>
<path d="M444.2 312.4L444.8 299.3L445.4 312.4Z" fill="#5b3509"/>
<path d="M325.6 316.0L326.2 310.2L326.8 316.0Z" fill="#3e1303"/>
<path d="M376.9 314.4L377.6 310.4L378.2 314.4Z" fill="#2f0b03"/>
<path d="M413.2 313.4L414.3 307.3L415.3 313.4Z" fill="#431604"/>
<path d="M434.9 312.9L435.9 302.7L436.9 312.9Z" fill="#401504"/>
<path d="M411.9 313.6L412.7 307.8L413.5 313.6Z" fill="#2b0802"/>
<path d="M380.0 314.6L380.7 306.2L381.3 314.6Z" fill="#491c05"/>
<path d="M334.4 316.1L335.1 305.3L335.9 316.1Z" fill="#3e1403"/>
<path d="M338.6 316.0L339.8 307.8L340.9 316.0Z" fill="#441704"/>
<path d="M354.5 315.5L355.1 311.4L355.7 315.5Z" fill="#2c0902"/>
<path d="M370.8 315.0L371.5 303.9L372.2 315.0Z" fill="#431604"/>
<path d="M328.0 316.3L328.8 309.6L329.6 316.3Z" fill="#431704"/>
<path d="M410.5 313.9L411.5 306.8L412.5 313.9Z" fill="#3b1203"/>
<path d="M408.1 314.0L408.7 309.3L409.3 314.0Z" fill="#2a0802"/>
<path d="M319.9 316.7L320.5 302.8L321.0 316.7Z" fill="#5b390b"/>
<path d="M442.3 313.1L442.9 307.8L443.6 313.1Z" fill="#3f1403"/>
<path d="M424.1 313.7L425.2 305.4L426.3 313.7Z" fill="#4a2005"/>
<path d="M412.4 314.0L413.4 310.3L414.4 314.0Z" fill="#2a0802"/>
<path d="M404.8 314.3L405.5 310.6L406.3 314.3Z" fill="#310c03"/>
<path d="M419.2 313.9L419.9 298.2L420.7 313.9Z" fill="#583409"/>
<path d="M375.0 315.2L376.1 310.4L377.3 315.2Z" fill="#3c1303"/>
<path d="M317.9 316.9L318.6 310.5L319.3 316.9Z" fill="#320d03"/>
<path d="M381.8 315.1L382.5 300.5L383.1 315.1Z" fill="#522c07"/>
<path d="M328.3 316.7L328.9 312.4L329.6 316.7Z" fill="#290802"/>
<path d="M407.5 314.3L408.6 310.5L409.7 314.3Z" fill="#3a1103"/>
<path d="M423.2 313.9L424.0 306.3L424.8 313.9Z" fill="#371003"/>
<path d="M390.4 314.9L391.3 296.4L392.2 314.9Z" fill="#6f5920"/>
<path d="M329.0 316.7L330.1 311.3L331.2 316.7Z" fill="#3c1303"/>
<path d="M409.2 314.4L410.1 303.6L411.0 314.4Z" fill="#4a2105"/>
<path d="M372.2 315.5L372.9 308.7L373.7 315.5Z" fill="#3a1203"/>
<path d="M320.6 317.1L321.3 305.8L322.0 317.1Z" fill="#553108"/>
<path d="M349.3 316.3L350.3 310.4L351.2 316.3Z" fill="#401503"/>
<path d="M422.8 314.1L423.9 310.4L424.9 314.1Z" fill="#2a0902"/>
<path d="M423.1 314.1L423.8 301.3L424.4 314.1Z" fill="#4f2907"/>
<path d="M403.9 314.7L404.5 307.0L405.1 314.7Z" fill="#300c03"/>
<path d="M405.1 314.7L406.0 310.5L406.9 314.7Z" fill="#290802"/>
<path d="M404.1 314.7L405.2 309.0L406.2 314.7Z" fill="#310d03"/>
<path d="M318.4 317.3L319.0 310.3L319.6 317.3Z" fill="#2d0a02"/>
<path d="M337.4 316.8L338.0 307.3L338.6 316.8Z" fill="#482005"/>
<path d="M387.0 315.3L388.0 308.6L389.1 315.3Z" fill="#421604"/>
<path d="M363.8 316.1L364.9 310.2L366.0 316.1Z" fill="#2e0b03"/>
<path d="M381.3 315.6L381.9 311.3L382.6 315.6Z" fill="#280802"/>
<path d="M328.3 317.2L329.2 301.5L330.0 317.2Z" fill="#614513"/>
<path d="M410.2 314.8L411.2 311.1L412.1 314.8Z" fill="#280802"/>
<path d="M359.8 316.3L360.9 309.4L362.0 316.3Z" fill="#2c0a02"/>
<path d="M407.4 314.9L408.1 308.5L408.9 314.9Z" fill="#2c0a02"/>
<path d="M389.5 315.5L390.0 311.9L390.6 315.5Z" fill="#2c0a02"/>
<path d="M326.8 317.4L327.4 306.7L328.0 317.4Z" fill="#4a2406"/>
<path d="M432.6 314.3L433.4 306.4L434.3 314.3Z" fill="#391203"/>
<path d="M419.1 314.7L420.2 291.8L421.3 314.7Z" fill="#776537"/>
<path d="M340.2 317.0L341.1 309.4L342.0 317.0Z" fill="#411604"/>
<path d="M374.1 316.0L375.1 311.6L376.0 316.0Z" fill="#280802"/>
<path d="M417.5 314.8L418.5 305.9L419.5 314.8Z" fill="#431904"/>
<path d="M363.1 316.4L364.2 311.2L365.2 316.4Z" fill="#270702"/>
<path d="M390.3 315.6L391.4 310.0L392.4 315.6Z" fill="#3a1203"/>
<path d="M341.8 317.1L342.8 308.5L343.7 317.1Z" fill="#351003"/>
<path d="M358.9 316.6L360.0 311.7L361.1 316.6Z" fill="#270702"/>
<path d="M407.8 315.2L408.8 310.3L409.9 315.2Z" fill="#330e03"/>
<path d="M404.9 315.3L405.9 295.7L406.9 315.3Z" fill="#68521c"/>
<path d="M377.9 316.1L378.9 308.5L379.8 316.1Z" fill="#391203"/>
<path d="M334.6 317.4L335.3 311.8L336.1 317.4Z" fill="#3c1403"/>
<path d="M436.0 314.5L437.0 301.9L438.0 314.5Z" fill="#55350a"/>
<path d="M361.7 316.7L362.4 310.4L363.0 316.7Z" fill="#3a1303"/>
<path d="M421.3 315.0L422.0 306.3L422.6 315.0Z" fill="#482206"/>
<path d="M425.9 314.9L426.9 308.7L428.0 314.9Z" fill="#371103"/>
<path d="M388.3 316.0L389.1 309.1L389.8 316.0Z" fill="#371103"/>
<path d="M349.6 317.1L350.5 312.6L351.4 317.1Z" fill="#300d03"/>
<path d="M422.1 315.0L422.7 311.0L423.4 315.0Z" fill="#270702"/>
<path d="M375.1 316.5L375.9 293.5L376.6 316.5Z" fill="#897f64"/>
<path d="M405.1 315.6L406.0 305.1L407.0 315.6Z" fill="#4b2807"/>
<path d="M370.4 316.7L371.3 308.6L372.3 316.7Z" fill="#340f03"/>
<path d="M443.6 314.5L444.5 291.5L445.4 314.5Z" fill="#8a8067"/>
<path d="M416.9 315.3L417.7 309.6L418.5 315.3Z" fill="#290902"/>
<path d="M367.1 316.8L367.8 311.3L368.4 316.8Z" fill="#310e03"/>
<path d="M443.9 314.6L444.5 309.4L445.1 314.6Z" fill="#2d0b02"/>
<path d="M379.4 316.5L380.4 308.9L381.5 316.5Z" fill="#3b1303"/>
<path d="M347.7 317.5L348.5 313.2L349.2 317.5Z" fill="#2a0a02"/>
<path d="M322.4 318.2L323.5 313.7L324.5 318.2Z" fill="#361103"/>
<path d="M362.1 317.1L362.6 313.2L363.2 317.1Z" fill="#2e0c02"/>
<path d="M447.7 314.7L448.3 310.3L448.9 314.7Z" fill="#2e0c02"/>
<path d="M437.6 315.0L438.4 307.3L439.3 315.0Z" fill="#421c05"/>
<path d="M347.0 317.6L347.7 312.9L348.4 317.6Z" fill="#330f03"/>
<path d="M322.1 318.4L323.2 312.6L324.3 318.4Z" fill="#2d0c02"/>
<path d="M407.1 316.0L408.0 308.9L408.8 316.0Z" fill="#330f03"/>
<path d="M420.0 315.7L420.6 309.3L421.1 315.7Z" fill="#3b1303"/>
<path d="M322.8 318.5L323.5 307.3L324.2 318.5Z" fill="#492706"/>
<path d="M381.2 316.9L382.0 310.8L382.7 316.9Z" fill="#371103"/>
<path d="M355.8 317.6L356.5 307.5L357.2 317.6Z" fill="#3b1403"/>
<path d="M401.7 316.3L402.8 304.0L403.9 316.3Z" fill="#462306"/>
<path d="M408.5 316.1L409.4 307.5L410.2 316.1Z" fill="#391303"/>
<path d="M394.8 316.5L395.6 311.2L396.4 316.5Z" fill="#2d0c02"/>
<path d="M333.8 318.3L334.7 306.8L335.5 318.3Z" fill="#492807"/>
<path d="M420.8 315.8L421.7 310.9L422.6 315.8Z" fill="#300e03"/>
<path d="M324.2 318.6L325.0 314.7L325.7 318.6Z" fill="#300e03"/>
<path d="M398.8 316.5L399.4 304.7L400.0 316.5Z" fill="#492707"/>
<path d="M427.5 315.6L428.4 303.8L429.3 315.6Z" fill="#3e1704"/>
<path d="M416.3 316.0L417.4 310.9L418.5 316.0Z" fill="#270802"/>
<path d="M369.9 317.4L370.5 309.4L371.1 317.4Z" fill="#3e1804"/>
<path d="M363.3 317.6L364.1 312.5L364.8 317.6Z" fill="#240702"/>
<path d="M400.5 316.6L401.3 296.7L402.0 316.6Z" fill="#624f1d"/>
<path d="M407.7 316.4L408.8 312.0L409.8 316.4Z" fill="#2e0d02"/>
<path d="M334.3 318.5L334.9 306.5L335.4 318.5Z" fill="#421e05"/>
<path d="M382.2 317.2L382.9 309.5L383.6 317.2Z" fill="#320f03"/>
<path d="M323.4 318.9L324.2 310.6L325.0 318.9Z" fill="#3d1804"/>
<path d="M433.7 315.7L434.7 307.3L435.6 315.7Z" fill="#411e05"/>
<path d="M331.5 318.7L332.2 315.2L332.8 318.7Z" fill="#290a02"/>
<path d="M417.4 316.3L418.4 310.4L419.3 316.3Z" fill="#331003"/>
<path d="M383.3 317.3L383.9 310.5L384.5 317.3Z" fill="#341003"/>
<path d="M432.2 316.0L432.9 311.9L433.7 316.0Z" fill="#230702"/>
<path d="M421.6 316.4L422.8 311.2L423.9 316.4Z" fill="#2e0d02"/>
<path d="M422.7 316.4L423.8 310.2L424.9 316.4Z" fill="#351103"/>
<path d="M412.8 316.8L413.5 304.4L414.2 316.8Z" fill="#3a1503"/>
<path d="M371.2 318.0L371.9 312.9L372.5 318.0Z" fill="#260802"/>
<path d="M334.6 319.1L335.5 300.6L336.4 319.1Z" fill="#584215"/>
<path d="M397.6 317.4L398.3 310.6L398.9 317.4Z" fill="#300e03"/>
<path d="M340.1 319.0L341.1 307.0L342.2 319.0Z" fill="#462807"/>
<path d="M403.5 317.3L404.2 309.9L404.9 317.3Z" fill="#2b0b02"/>
<path d="M440.9 316.2L441.7 311.7L442.6 316.2Z" fill="#270902"/>
<path d="M432.2 316.5L433.2 302.8L434.3 316.5Z" fill="#4d320b"/>
<path d="M355.7 318.7L356.4 303.9L357.1 318.7Z" fill="#462807"/>
<path d="M325.0 319.6L326.0 314.9L327.0 319.6Z" fill="#220602"/>
<path d="M394.4 317.7L395.4 310.5L396.3 317.7Z" fill="#2a0b02"/>
<path d="M321.4 319.9L322.4 313.4L323.3 319.9Z" fill="#2f0e02"/>
<path d="M402.3 317.6L403.1 309.8L403.9 317.6Z" fill="#341103"/>
<path d="M406.0 317.6L407.1 309.7L408.1 317.6Z" fill="#2e0e02"/>
<path d="M444.2 316.5L444.8 312.5L445.4 316.5Z" fill="#210602"/>
<path d="M420.8 317.2L421.4 297.0L422.0 317.2Z" fill="#655732"/>
<path d="M443.3 316.6L444.3 310.5L445.2 316.6Z" fill="#280a02"/>
<path d="M416.5 317.4L417.4 309.1L418.3 317.4Z" fill="#280a02"/>
<path d="M448.3 316.5L449.1 304.1L449.8 316.5Z" fill="#3e1e05"/>
<path d="M346.8 319.4L347.7 312.4L348.6 319.4Z" fill="#321003"/>
<path d="M393.4 318.1L394.0 306.9L394.7 318.1Z" fill="#3d1d05"/>
<path d="M357.6 319.2L358.3 315.6L359.0 319.2Z" fill="#2a0b02"/>
<path d="M345.1 319.6L346.2 304.9L347.2 319.6Z" fill="#4c340d"/>
<path d="M390.3 318.3L391.3 312.5L392.3 318.3Z" fill="#2c0d02"/>
<path d="M362.4 319.2L363.5 309.0L364.6 319.2Z" fill="#3d1d05"/>
<path d="M328.2 320.3L328.8 312.7L329.5 320.3Z" fill="#341103"/>
<path d="M401.8 318.3L402.4 312.8L403.0 318.3Z" fill="#270a02"/>
<path d="M335.1 320.2L335.8 316.0L336.4 320.2Z" fill="#200602"/>
<path d="M366.8 319.3L367.7 311.4L368.6 319.3Z" fill="#260a02"/>
<path d="M407.5 318.2L408.4 295.2L409.3 318.2Z" fill="#60522e"/>
<path d="M441.5 317.2L442.2 309.1L443.0 317.2Z" fill="#2e0e02"/>
<path d="M432.5 317.5L433.4 309.0L434.4 317.5Z" fill="#2c0d02"/>
<path d="M325.9 320.7L327.0 307.1L328.0 320.7Z" fill="#3e2105"/>
<path d="M415.4 318.2L416.4 314.2L417.4 318.2Z" fill="#230802"/>
<path d="M406.2 318.5L407.0 314.2L407.8 318.5Z" fill="#220702"/>
<path d="M352.0 320.0L352.8 304.0L353.6 320.0Z" fill="#4d3911"/>
<path d="M387.2 319.0L388.2 312.8L389.2 319.0Z" fill="#270a02"/>
<path d="M349.5 320.2L350.1 316.2L350.8 320.2Z" fill="#1f0602"/>
<path d="M380.1 319.3L380.9 301.9L381.7 319.3Z" fill="#422807"/>
<path d="M373.9 319.6L374.8 300.7L375.6 319.6Z" fill="#48320d"/>
<path d="M364.2 319.8L365.2 316.1L366.1 319.8Z" fill="#260a02"/>
<path d="M407.3 318.6L408.4 308.2L409.5 318.6Z" fill="#3c2005"/>
<path d="M353.2 320.2L354.0 311.4L354.8 320.2Z" fill="#2a0c02"/>
<path d="M438.3 317.8L439.2 312.5L440.2 317.8Z" fill="#1e0602"/>
<path d="M372.9 319.7L373.6 311.3L374.2 319.7Z" fill="#321203"/>
<path d="M323.3 321.2L324.3 308.6L325.3 321.2Z" fill="#321203"/>
<path d="M331.9 320.9L333.0 314.4L334.1 320.9Z" fill="#270b02"/>
<path d="M361.9 320.2L362.6 313.4L363.2 320.2Z" fill="#321203"/>
<path d="M444.6 317.8L445.5 311.1L446.4 317.8Z" fill="#2f0f02"/>
<path d="M329.3 321.1L329.9 304.3L330.5 321.1Z" fill="#4d3b13"/>
<path d="M407.1 318.9L407.6 308.1L408.2 318.9Z" fill="#2d0e02"/>
<path d="M416.6 318.7L417.3 314.1L418.0 318.7Z" fill="#1e0602"/>
<path d="M404.7 319.1L405.9 312.3L407.0 319.1Z" fill="#210702"/>
<path d="M385.1 319.6L386.3 313.6L387.4 319.6Z" fill="#210802"/>
<path d="M435.8 318.2L436.3 309.8L436.9 318.2Z" fill="#361904"/>
<path d="M371.3 320.1L371.9 311.4L372.5 320.1Z" fill="#2d0f02"/>
<path d="M351.1 320.7L351.8 313.3L352.6 320.7Z" fill="#321303"/>
<path d="M383.5 319.8L384.3 313.4L385.2 319.8Z" fill="#290c02"/>
<path d="M422.1 318.8L422.8 311.8L423.5 318.8Z" fill="#301002"/>
<path d="M373.5 320.1L374.6 306.2L375.7 320.1Z" fill="#442f0c"/>
<path d="M342.6 321.0L343.5 311.7L344.4 321.0Z" fill="#341704"/>
<path d="M430.4 318.6L431.0 310.4L431.6 318.6Z" fill="#2f1002"/>
<path d="M448.2 318.1L448.9 311.4L449.7 318.1Z" fill="#2f1002"/>
<path d="M376.4 320.2L377.2 310.6L378.1 320.2Z" fill="#371b04"/>
<path d="M378.5 320.2L379.2 315.7L380.0 320.2Z" fill="#290d02"/>
<path d="M320.0 321.8L320.6 316.2L321.2 321.8Z" fill="#240902"/>
<path d="M371.6 320.4L372.5 309.9L373.4 320.4Z" fill="#2b0e02"/>
<path d="M437.5 318.6L438.4 309.4L439.4 318.6Z" fill="#331503"/>
<path d="M370.7 320.4L371.7 315.3L372.7 320.4Z" fill="#210802"/>
<path d="M367.8 320.5L368.6 310.4L369.3 320.5Z" fill="#331704"/>
<path d="M444.5 318.4L445.5 302.6L446.6 318.4Z" fill="#371c05"/>
<path d="M403.8 319.5L404.9 312.3L406.0 319.5Z" fill="#2f1002"/>
<path d="M400.7 319.6L401.5 314.7L402.3 319.6Z" fill="#1e0602"/>
<path d="M336.3 321.5L337.2 315.8L338.1 321.5Z" fill="#1c0501"/>
<path d="M370.1 320.5L371.1 315.2L372.1 320.5Z" fill="#270c02"/>
<path d="M425.9 319.0L426.7 315.1L427.6 319.0Z" fill="#220802"/>
<path d="M326.8 321.8L327.4 317.1L328.0 321.8Z" fill="#270c02"/>
<path d="M406.6 319.6L407.3 316.1L407.9 319.6Z" fill="#220802"/>
<path d="M442.7 318.6L443.8 306.8L444.9 318.6Z" fill="#3b2206"/>
<path d="M327.6 321.9L328.7 317.2L329.8 321.9Z" fill="#1e0702"/>
<path d="M319.2 322.1L320.3 316.4L321.4 322.1Z" fill="#1c0501"/>
<path d="M446.1 318.6L447.1 311.9L448.2 318.6Z" fill="#280c02"/>
<path d="M380.0 320.5L381.0 313.1L382.1 320.5Z" fill="#2c0f02"/>
<path d="M414.3 319.6L415.0 314.9L415.6 319.6Z" fill="#1e0702"/>
<path d="M402.1 319.9L403.1 314.5L404.1 319.9Z" fill="#220902"/>
<path d="M364.0 321.0L364.6 316.7L365.2 321.0Z" fill="#260b02"/>
<path d="M412.4 319.7L413.1 303.8L413.9 319.7Z" fill="#44310e"/>
<path d="M334.6 321.9L335.7 316.5L336.8 321.9Z" fill="#1d0601"/>
<path d="M412.7 319.8L413.5 305.1L414.3 319.8Z" fill="#351c05"/>
<path d="M431.0 319.3L431.8 315.7L432.6 319.3Z" fill="#1b0501"/>
<path d="M393.2 320.4L394.0 300.7L394.8 320.4Z" fill="#412d0c"/>
<path d="M366.7 321.2L367.3 314.8L367.9 321.2Z" fill="#1d0601"/>
<path d="M347.6 321.8L348.6 314.2L349.6 321.8Z" fill="#290d02"/>
<path d="M440.7 319.2L441.4 309.4L442.0 319.2Z" fill="#250b02"/>
<path d="M331.8 322.3L332.4 316.6L333.1 322.3Z" fill="#260c02"/>
<path d="M397.8 320.5L398.5 313.2L399.2 320.5Z" fill="#2d1103"/>
<path d="M421.2 319.8L422.3 314.8L423.4 319.8Z" fill="#270c02"/>
<path d="M407.5 320.2L408.5 316.1L409.5 320.2Z" fill="#1a0501"/>
<path d="M341.6 322.1L342.3 305.1L343.1 322.1Z" fill="#361f05"/>
<path d="M332.9 322.4L333.6 317.3L334.2 322.4Z" fill="#230a02"/>
<path d="M343.9 322.1L344.7 314.7L345.4 322.1Z" fill="#290e02"/>
<path d="M394.9 320.7L395.5 314.9L396.1 320.7Z" fill="#1e0701"/>
<path d="M431.5 319.7L432.0 312.5L432.6 319.7Z" fill="#230a02"/>
<path d="M395.9 320.7L397.1 315.7L398.2 320.7Z" fill="#220902"/>
<path d="M384.9 321.1L386.0 306.6L387.0 321.1Z" fill="#321904"/>
<path d="M416.5 320.3L417.3 314.4L418.1 320.3Z" fill="#250b02"/>
<path d="M420.2 320.2L421.2 315.5L422.2 320.2Z" fill="#1a0501"/>
<path d="M367.6 321.7L368.7 315.3L369.7 321.7Z" fill="#260c02"/>
<path d="M320.1 323.0L321.0 319.4L321.9 323.0Z" fill="#190501"/>
<path d="M438.1 319.9L439.0 315.8L439.8 319.9Z" fill="#220a02"/>
<path d="M442.0 319.8L442.7 316.2L443.3 319.8Z" fill="#190501"/>
<path d="M342.8 322.6L343.3 318.1L343.9 322.6Z" fill="#1a0501"/>
<path d="M375.1 321.7L375.8 316.5L376.5 321.7Z" fill="#1c0601"/>
<path d="M388.9 321.4L389.9 316.8L391.0 321.4Z" fill="#240b02"/>
<path d="M379.3 321.7L379.9 318.1L380.5 321.7Z" fill="#1c0601"/>
<path d="M380.2 321.7L380.9 315.7L381.7 321.7Z" fill="#200902"/>
<path d="M321.1 323.3L322.1 314.6L323.1 323.3Z" fill="#250c02"/>
<path d="M441.3 320.1L442.0 313.9L442.8 320.1Z" fill="#210902"/>
<path d="M344.9 322.7L346.0 318.1L347.0 322.7Z" fill="#200902"/>
<path d="M398.9 321.3L399.6 316.1L400.3 321.3Z" fill="#210a02"/>
<path d="M420.4 320.7L421.3 317.0L422.2 320.7Z" fill="#190501"/>
<path d="M391.7 321.5L392.5 309.2L393.2 321.5Z" fill="#311b04"/>
<path d="M357.1 322.5L357.9 317.8L358.6 322.5Z" fill="#1c0701"/>
<path d="M364.8 322.3L365.9 312.9L366.9 322.3Z" fill="#280e02"/>
<path d="M435.9 320.4L436.6 308.4L437.4 320.4Z" fill="#270d02"/>
<path d="M389.2 321.8L390.1 313.9L390.9 321.8Z" fill="#210a02"/>
<path d="M404.1 321.4L404.7 314.0L405.2 321.4Z" fill="#1b0601"/>
<path d="M332.2 323.4L332.8 319.6L333.4 323.4Z" fill="#200902"/>
<path d="M326.0 323.6L326.6 316.8L327.1 323.6Z" fill="#230b02"/>
<path d="M388.7 321.9L389.6 318.3L390.6 321.9Z" fill="#180501"/>
<path d="M390.7 321.9L391.8 316.5L392.8 321.9Z" fill="#210a02"/>
<path d="M423.4 321.0L424.6 311.3L425.7 321.0Z" fill="#291103"/>
<path d="M408.7 321.5L409.6 305.8L410.5 321.5Z" fill="#342107"/>
<path d="M353.7 323.1L354.4 300.1L355.1 323.1Z" fill="#544e3e"/>
<path d="M401.4 321.8L402.4 305.4L403.4 321.8Z" fill="#321e05"/>
<path d="M326.7 323.8L327.6 319.8L328.6 323.8Z" fill="#190501"/>
<path d="M358.0 323.0L358.8 315.6L359.7 323.0Z" fill="#1a0601"/>
<path d="M421.6 321.3L422.3 317.1L423.0 321.3Z" fill="#170401"/>
<path d="M325.2 323.9L326.4 317.2L327.5 323.9Z" fill="#210a02"/>
<path d="M371.6 322.7L372.4 316.8L373.2 322.7Z" fill="#1a0601"/>
<path d="M391.0 322.2L391.8 317.1L392.7 322.2Z" fill="#1d0801"/>
<path d="M381.1 322.5L382.0 318.7L382.9 322.5Z" fill="#1a0601"/>
<path d="M360.3 323.2L360.9 319.6L361.4 323.2Z" fill="#160401"/>
<path d="M411.5 321.8L412.5 310.8L413.5 321.8Z" fill="#250d02"/>
<path d="M406.3 322.0L406.9 315.3L407.5 322.0Z" fill="#1c0701"/>
<path d="M326.3 324.2L327.5 313.9L328.6 324.2Z" fill="#2c1704"/>
<path d="M412.4 321.9L413.1 309.7L413.8 321.9Z" fill="#301d05"/>
<path d="M359.8 323.3L360.8 318.4L361.8 323.3Z" fill="#1e0901"/>
<path d="M411.7 321.9L412.4 301.7L413.1 321.9Z" fill="#382a0d"/>
<path d="M439.1 321.2L439.8 317.3L440.5 321.2Z" fill="#180501"/>
<path d="M351.9 323.6L352.9 318.0L353.9 323.6Z" fill="#180501"/>
<path d="M331.5 324.2L332.6 319.4L333.8 324.2Z" fill="#1d0801"/>
<path d="M390.7 322.6L391.2 317.9L391.8 322.6Z" fill="#180501"/>
<path d="M438.2 321.4L439.0 317.3L439.8 321.4Z" fill="#1b0701"/>
<path d="M415.0 322.0L415.8 302.9L416.5 322.0Z" fill="#322208"/>
<path d="M378.4 323.0L379.0 313.9L379.7 323.0Z" fill="#220b02"/>
<path d="M412.1 322.1L413.1 314.8L414.0 322.1Z" fill="#1b0701"/>
<path d="M433.7 321.6L434.8 316.9L436.0 321.6Z" fill="#190601"/>
<path d="M394.1 322.8L394.6 317.6L395.2 322.8Z" fill="#150401"/>
<path d="M420.4 322.1L421.1 317.4L421.9 322.1Z" fill="#1e0901"/>
<path d="M401.8 322.6L402.8 309.0L403.8 322.6Z" fill="#271203"/>
<path d="M332.9 324.6L333.5 320.4L334.1 324.6Z" fill="#150401"/>
<path d="M316.5 278L318.5 257L320.5 278Z" fill="url(#spk)"/>
<path d="M370.4 272L372.5 247L374.6 272Z" fill="url(#spk)"/>
<path d="M422.9 300L425.0 277L427.1 300Z" fill="url(#spk)"/>
<path d="M394.4 268L396.0 249L397.6 268Z" fill="url(#spk)"/>
<path d="M337.5 274L339.0 255L340.5 274Z" fill="url(#spk)"/>
<path d="M329.7 246L331.0 228L332.3 246Z" fill="url(#spk)"/>
<path d="M354.7 243L356.0 226L357.3 243Z" fill="url(#spk)"/>
<path d="M381.7 241L383.0 225L384.3 241Z" fill="url(#spk)"/>
<path d="M400.8 245L402.0 229L403.2 245Z" fill="url(#spk)"/>
<path d="M412.8 244L414.0 228L415.2 244Z" fill="url(#spk)"/>
<path d="M344.8 248L346.0 233L347.2 248Z" fill="url(#spk)"/>
<path d="M428.8 240L430.0 226L431.2 240Z" fill="url(#spk)"/>
<path d="M365.5 282L367.0 262L368.5 282Z" fill="url(#spk)"/>
<path d="M307.8 225 L307.8 240 L320 335 L453.8 328.1" stroke="#6a6a6a" stroke-width="0.9" fill="none"/>
<path d="M304.8 225.5 L307.8 225.5 M304.8 241.5 L307.8 241.5 M307.1 258.2 L310.1 258.2 M309.6 277 L312.6 277 M312.1 297.1 L315.1 297.1 M314.6 316.4 L317.6 316.4 M354.0 333.2 L354.0 336.2 M387.2 331.5 L387.2 334.5 M420.5 329.8 L420.5 332.8 M453.8 328.1 L453.8 331.1" stroke="#6a6a6a" stroke-width="0.9" fill="none"/>
<text x="303.9" y="225.6" font-size="10.6" font-weight="bold" fill="#fff" text-anchor="end">6.6 nm</text>
<text x="303.9" y="241.6" font-size="10.6" font-weight="bold" fill="#fff" text-anchor="end">1.7 nm</text>
<text x="303.4" y="261.8" font-size="10.6" font-weight="bold" fill="#fff" text-anchor="end">2.0 µm</text>
<text x="305.2" y="280.6" font-size="10.6" font-weight="bold" fill="#fff" text-anchor="end">1.5 µm</text>
<text x="308.5" y="300.7" font-size="10.6" font-weight="bold" fill="#fff" text-anchor="end">1.0 µm</text>
<text x="310.3" y="320.0" font-size="10.6" font-weight="bold" fill="#fff" text-anchor="end">0.5 µm</text>
<text x="478" y="256.7" font-size="10.6" font-weight="bold" fill="#fff" text-anchor="end">2.0 µm</text>
<text x="480.5" y="276.5" font-size="10.6" font-weight="bold" fill="#fff" text-anchor="end">1.5 µm</text>
<text x="483.8" y="295.6" font-size="10.6" font-weight="bold" fill="#fff" text-anchor="end">1.0 µm</text>
<text x="486.9" y="314.4" font-size="10.6" font-weight="bold" fill="#fff" text-anchor="end">0.5 µm</text>
<text x="372.1" y="350.1" font-size="10.6" font-weight="bold" fill="#fff" text-anchor="end">0.5 µm</text>
<text x="405" y="348.6" font-size="10.6" font-weight="bold" fill="#fff" text-anchor="end">1.0 µm</text>
<text x="438" y="347.0" font-size="10.6" font-weight="bold" fill="#fff" text-anchor="end">1.5 µm</text>
<text x="471.1" y="343.2" font-size="10.6" font-weight="bold" fill="#fff" text-anchor="end">2.0 µm</text>
<text x="7.5" y="381.6" font-size="16">(e)</text>
<text x="67.9" y="381.9" font-size="14">Before Functionalization</text>
<rect x="6.2" y="387.5" width="125.8" height="155.5" fill="#fff" stroke="#c8c8c8" stroke-width="1"/>
<rect x="7.8" y="390.5" width="9.8" height="7.8" fill="#f2efe8"/>
<path d="M7.8 398.3 L7.8 390.5 L17.6 390.5" fill="none" stroke="#666" stroke-width="0.9"/>
<path d="M9.3 391.8 L15.6 397.6" stroke="#c89030" stroke-width="2.1"/>
<rect x="18.95" y="390.5" width="9.6" height="7.8" fill="#eeeeee" stroke="#c8c8c8" stroke-width="0.7"/>
<rect x="21.95" y="392" width="4" height="5" fill="none" stroke="#bbb" stroke-width="0.6"/>
<rect x="30.1" y="390.5" width="9.6" height="7.8" fill="#eeeeee" stroke="#c8c8c8" stroke-width="0.7"/>
<circle cx="35.7" cy="393.6" r="2.4" fill="#5ab4e6" stroke="#2a70a8" stroke-width="0.6"/>
<path d="M33.9 395.4 L31.900000000000002 397.6" stroke="#333" stroke-width="1.3"/>
<rect x="41.25" y="390.5" width="9.6" height="7.8" fill="#eeeeee" stroke="#c8c8c8" stroke-width="0.7"/>
<path d="M44.25 396.5 L47.75 393 M45.75 393 L47.75 393 L47.75 395" fill="none" stroke="#b8b8b8" stroke-width="0.7"/>
<rect x="52.4" y="390.5" width="9.6" height="7.8" fill="#eeeeee" stroke="#c8c8c8" stroke-width="0.7"/>
<path d="M55.4 396.5 L58.9 393 M56.9 393 L58.9 393 L58.9 395" fill="none" stroke="#b8b8b8" stroke-width="0.7"/>
<text x="128.9" y="398.6" font-size="10.6" font-weight="bold" text-anchor="end">6.6 nm</text>
<rect x="7.7" y="401.4" width="114.3" height="113.6" fill="#4e0404" filter="url(#fe)"/>
<rect x="125.0" y="401" width="3.4" height="129" fill="url(#cbar)"/>
<path d="M8.1 522 L8.1 517.6 L121.8 517.6 L121.8 522" fill="none" stroke="#8a8a8a" stroke-width="0.9"/>
<text x="10.3" y="526.7" font-size="10.6" font-weight="bold">0.0</text>
<text x="61.0" y="526.7" font-size="10.6" font-weight="bold" text-anchor="middle">1: Height</text>
<text x="120.7" y="526.7" font-size="10.6" font-weight="bold" text-anchor="end">2.0 µm</text>
<text x="128.9" y="540.6" font-size="10.6" font-weight="bold" text-anchor="end">-3.2 nm</text>
<text x="257" y="381.6" font-size="16">(f)</text>
<text x="318.8" y="381.9" font-size="14">After Functionalization</text>
<rect x="255.7" y="387.5" width="125.8" height="155.5" fill="#fff" stroke="#c8c8c8" stroke-width="1"/>
<rect x="257.3" y="390.5" width="9.8" height="7.8" fill="#f2efe8"/>
<path d="M257.3 398.3 L257.3 390.5 L267.1 390.5" fill="none" stroke="#666" stroke-width="0.9"/>
<path d="M258.8 391.8 L265.1 397.6" stroke="#c89030" stroke-width="2.1"/>
<rect x="268.45" y="390.5" width="9.6" height="7.8" fill="#eeeeee" stroke="#c8c8c8" stroke-width="0.7"/>
<rect x="271.45" y="392" width="4" height="5" fill="none" stroke="#bbb" stroke-width="0.6"/>
<rect x="279.6" y="390.5" width="9.6" height="7.8" fill="#eeeeee" stroke="#c8c8c8" stroke-width="0.7"/>
<circle cx="285.20000000000005" cy="393.6" r="2.4" fill="#5ab4e6" stroke="#2a70a8" stroke-width="0.6"/>
<path d="M283.40000000000003 395.4 L281.40000000000003 397.6" stroke="#333" stroke-width="1.3"/>
<rect x="290.75" y="390.5" width="9.6" height="7.8" fill="#eeeeee" stroke="#c8c8c8" stroke-width="0.7"/>
<path d="M293.75 396.5 L297.25 393 M295.25 393 L297.25 393 L297.25 395" fill="none" stroke="#b8b8b8" stroke-width="0.7"/>
<rect x="301.90000000000003" y="390.5" width="9.6" height="7.8" fill="#eeeeee" stroke="#c8c8c8" stroke-width="0.7"/>
<path d="M304.90000000000003 396.5 L308.40000000000003 393 M306.40000000000003 393 L308.40000000000003 393 L308.40000000000003 395" fill="none" stroke="#b8b8b8" stroke-width="0.7"/>
<text x="378.4" y="398.6" font-size="10.6" font-weight="bold" text-anchor="end">6.6 nm</text>
<rect x="257.2" y="401.4" width="114.3" height="113.6" fill="#4a1604" filter="url(#ff)"/>
<circle cx="297" cy="401.5" r="1.6" fill="#c08838" opacity="0.45"/><circle cx="297" cy="401.5" r="0.8" fill="#f2e4a8"/>
<circle cx="297" cy="447" r="1.6" fill="#c08838" opacity="0.45"/><circle cx="297" cy="447" r="0.8" fill="#f2e4a8"/>
<circle cx="354" cy="479" r="1.7" fill="#c08838" opacity="0.45"/><circle cx="354" cy="479" r="0.9" fill="#f2e4a8"/>
<circle cx="342" cy="455" r="1.7" fill="#c08838" opacity="0.45"/><circle cx="342" cy="455" r="0.9" fill="#f2e4a8"/>
<circle cx="268" cy="420" r="1.6" fill="#c08838" opacity="0.45"/><circle cx="268" cy="420" r="0.8" fill="#f2e4a8"/>
<circle cx="330" cy="405" r="1.7" fill="#c08838" opacity="0.45"/><circle cx="330" cy="405" r="0.9" fill="#f2e4a8"/>
<circle cx="360" cy="430" r="1.3" fill="#c08838" opacity="0.45"/><circle cx="360" cy="430" r="0.5" fill="#f2e4a8"/>
<circle cx="280" cy="500" r="1.5" fill="#c08838" opacity="0.45"/><circle cx="280" cy="500" r="0.7" fill="#f2e4a8"/>
<circle cx="310" cy="470" r="1.7" fill="#c08838" opacity="0.45"/><circle cx="310" cy="470" r="0.9" fill="#f2e4a8"/>
<circle cx="365" cy="505" r="1.6" fill="#c08838" opacity="0.45"/><circle cx="365" cy="505" r="0.8" fill="#f2e4a8"/>
<circle cx="272" cy="462" r="1.7" fill="#c08838" opacity="0.45"/><circle cx="272" cy="462" r="0.9" fill="#f2e4a8"/>
<circle cx="322" cy="440" r="1.4" fill="#c08838" opacity="0.45"/><circle cx="322" cy="440" r="0.6" fill="#f2e4a8"/>
<circle cx="348" cy="500" r="1.5" fill="#c08838" opacity="0.45"/><circle cx="348" cy="500" r="0.7" fill="#f2e4a8"/>
<circle cx="290" cy="488" r="1.4" fill="#c08838" opacity="0.45"/><circle cx="290" cy="488" r="0.6" fill="#f2e4a8"/>
<circle cx="262" cy="436" r="1.5" fill="#c08838" opacity="0.45"/><circle cx="262" cy="436" r="0.7" fill="#f2e4a8"/>
<rect x="374.5" y="401" width="3.4" height="129" fill="url(#cbar)"/>
<path d="M257.6 522 L257.6 517.6 L371.3 517.6 L371.3 522" fill="none" stroke="#8a8a8a" stroke-width="0.9"/>
<text x="259.8" y="526.7" font-size="10.6" font-weight="bold">0.0</text>
<text x="310.5" y="526.7" font-size="10.6" font-weight="bold" text-anchor="middle">1: Height</text>
<text x="370.2" y="526.7" font-size="10.6" font-weight="bold" text-anchor="end">2.0 µm</text>
<text x="378.4" y="540.6" font-size="10.6" font-weight="bold" text-anchor="end">-3.2 nm</text>
<rect x="161.6" y="390.2" width="78.2" height="48.4" fill="#fff" stroke="#c4c4c4" stroke-width="0.8"/>
<line x1="161.6" y1="396.3" x2="239.8" y2="396.3" stroke="#c4c4c4" stroke-width="0.7" stroke-dasharray="2,1.6"/>
<text x="160.0" y="399.8" font-size="10.4" text-anchor="end">2</text>
<line x1="161.6" y1="408.4" x2="239.8" y2="408.4" stroke="#c4c4c4" stroke-width="0.7" stroke-dasharray="2,1.6"/>
<text x="160.0" y="411.9" font-size="10.4" text-anchor="end">1</text>
<line x1="161.6" y1="420.5" x2="239.8" y2="420.5" stroke="#c4c4c4" stroke-width="0.7" stroke-dasharray="2,1.6"/>
<text x="160.0" y="424.0" font-size="10.4" text-anchor="end">0</text>
<line x1="161.6" y1="432.6" x2="239.8" y2="432.6" stroke="#c4c4c4" stroke-width="0.7" stroke-dasharray="2,1.6"/>
<text x="160.0" y="436.1" font-size="10.4" text-anchor="end">-1</text>
<text x="161.6" y="448.6" font-size="10.4" text-anchor="middle">0</text>
<text x="181.1" y="448.6" font-size="10.4" text-anchor="middle">200</text>
<text x="200.7" y="448.6" font-size="10.4" text-anchor="middle">400</text>
<text x="220.2" y="448.6" font-size="10.4" text-anchor="middle">600</text>
<text x="239.8" y="448.6" font-size="10.4" text-anchor="middle">800</text>
<polyline points="161.8,421.0 162.4,419.9 163.0,419.0 164.0,419.8 165.0,420.5 166.0,421.7 167.0,421.5 168.5,419.7 170.0,418.0 171.0,419.5 172.0,421.0 173.0,420.6 174.0,420.0 175.0,420.5 176.0,422.0 177.0,420.0 178.0,418.0 179.5,417.0 181.0,415.5 182.0,417.7 183.0,419.0 184.5,418.4 186.0,419.0 187.0,419.4 188.0,420.5 189.0,418.1 190.0,417.0 191.5,418.0 193.0,418.0 194.0,419.8 195.0,421.0 196.0,421.3 197.0,423.0 198.0,421.8 199.0,419.0 200.5,420.2 202.0,420.0 203.5,419.7 205.0,419.0 206.5,418.7 208.0,418.0 209.5,417.2 211.0,417.5 212.5,416.5 214.0,417.0 215.5,416.5 217.0,416.0 218.5,415.0 220.0,415.5 221.0,415.3 222.0,416.0 223.0,415.8 224.0,416.5 225.0,416.5 226.0,418.0 227.0,418.4 228.0,419.0 229.0,418.4 230.0,418.0 231.0,419.5 232.0,420.0 233.0,419.5 234.0,419.0 235.0,420.2 236.0,421.0 237.0,420.0 238.0,419.0 238.8,418.8 239.6,418.0" fill="none" stroke="#8a1c1c" stroke-width="1.2" stroke-linejoin="round"/>
<text x="200.7" y="461.6" font-size="10.6" font-weight="bold" text-anchor="middle">Distance (nm)</text>
<text transform="translate(147.2,413.9) rotate(-90)" font-size="10.6" font-weight="bold" text-anchor="middle">Height (nm)</text>
<rect x="161.6" y="469.9" width="78.2" height="48.6" fill="#fff" stroke="#c4c4c4" stroke-width="0.8"/>
<line x1="161.6" y1="475.7" x2="239.8" y2="475.7" stroke="#c4c4c4" stroke-width="0.7" stroke-dasharray="2,1.6"/>
<text x="160.0" y="479.2" font-size="10.4" text-anchor="end">2</text>
<line x1="161.6" y1="487.7" x2="239.8" y2="487.7" stroke="#c4c4c4" stroke-width="0.7" stroke-dasharray="2,1.6"/>
<text x="160.0" y="491.2" font-size="10.4" text-anchor="end">1</text>
<line x1="161.6" y1="499.8" x2="239.8" y2="499.8" stroke="#c4c4c4" stroke-width="0.7" stroke-dasharray="2,1.6"/>
<text x="160.0" y="503.3" font-size="10.4" text-anchor="end">0</text>
<line x1="161.6" y1="511.9" x2="239.8" y2="511.9" stroke="#c4c4c4" stroke-width="0.7" stroke-dasharray="2,1.6"/>
<text x="160.0" y="515.4" font-size="10.4" text-anchor="end">-1</text>
<text x="161.6" y="528.5" font-size="10.4" text-anchor="middle">0</text>
<text x="187.7" y="528.5" font-size="10.4" text-anchor="middle">250</text>
<text x="213.7" y="528.5" font-size="10.4" text-anchor="middle">500</text>
<text x="239.8" y="528.5" font-size="10.4" text-anchor="middle">750</text>
<polyline points="161.8,499.0 162.4,499.7 163.0,500.5 163.8,500.7 164.5,501.5 165.2,501.4 166.0,500.0 167.0,500.7 168.0,500.0 169.0,500.2 170.0,499.5 171.0,500.5 172.0,501.0 173.0,501.2 174.0,502.0 175.0,500.9 176.0,500.5 177.0,500.0 178.0,500.0 179.0,499.1 180.0,499.5 181.0,500.1 182.0,500.0 183.0,498.9 184.0,498.0 185.0,498.2 186.0,497.5 187.0,498.3 188.0,499.5 189.0,498.4 190.0,496.0 191.0,495.7 192.0,494.5 193.0,495.1 194.0,497.0 195.0,497.1 196.0,498.0 197.0,498.1 198.0,497.0 199.0,496.7 200.0,496.5 201.0,497.4 202.0,497.0 203.0,497.1 204.0,497.5 205.0,496.4 206.0,496.5 207.0,497.9 208.0,499.0 209.0,499.9 210.0,500.0 211.0,500.4 212.0,501.4 213.0,498.1 214.0,496.0 214.7,495.0 215.4,494.5 216.7,496.6 218.0,497.5 219.0,498.6 220.0,499.0 221.0,499.0 222.0,500.0 223.0,499.1 224.0,499.0 225.0,499.2 226.0,500.5 227.0,500.1 228.0,501.0 229.6,502.1 231.2,502.3 232.1,500.2 233.0,499.0 233.8,498.3 234.5,497.5 235.2,496.9 236.0,496.5 237.0,496.6 238.0,497.5 238.8,498.1 239.6,498.0" fill="none" stroke="#8a1c1c" stroke-width="1.2" stroke-linejoin="round"/>
<text x="200.7" y="541.5" font-size="10.6" font-weight="bold" text-anchor="middle">Distance (nm)</text>
<text transform="translate(147.2,493.7) rotate(-90)" font-size="10.6" font-weight="bold" text-anchor="middle">Height (nm)</text>
<rect x="412.4" y="390.6" width="78.2" height="48.4" fill="#fff" stroke="#c4c4c4" stroke-width="0.8"/>
<line x1="412.4" y1="395.5" x2="490.6" y2="395.5" stroke="#c4c4c4" stroke-width="0.7" stroke-dasharray="2,1.6"/>
<text x="410.79999999999995" y="399.0" font-size="10.6" text-anchor="end">6</text>
<line x1="412.4" y1="410.1" x2="490.6" y2="410.1" stroke="#c4c4c4" stroke-width="0.7" stroke-dasharray="2,1.6"/>
<text x="410.79999999999995" y="413.6" font-size="10.6" text-anchor="end">3</text>
<line x1="412.4" y1="424.7" x2="490.6" y2="424.7" stroke="#c4c4c4" stroke-width="0.7" stroke-dasharray="2,1.6"/>
<text x="410.79999999999995" y="428.2" font-size="10.6" text-anchor="end">0</text>
<text x="410.79999999999995" y="442.5" font-size="10.6" text-anchor="end">-3</text>
<text x="412.4" y="449.6" font-size="10.6" text-anchor="middle">0</text>
<text x="432.0" y="449.6" font-size="10.6" text-anchor="middle">250</text>
<text x="451.5" y="449.6" font-size="10.6" text-anchor="middle">500</text>
<text x="471.1" y="449.6" font-size="10.6" text-anchor="middle">750</text>
<text x="490.6" y="449.6" font-size="10.6" text-anchor="middle">1000</text>
<polyline points="412.6,423.8 413.4,427.1 414.2,430.4 415.0,417.9 415.8,405.5 416.6,414.2 417.5,423.0 418.6,408.6 419.7,394.3 420.5,401.1 421.3,408.0 421.9,414.2 422.5,420.4 423.3,420.9 424.1,421.3 424.7,426.3 425.3,431.3 426.0,427.6 426.6,423.8 427.3,423.4 428.0,423.0 428.6,427.8 429.1,432.6 430.0,427.0 430.8,421.3 431.4,416.7 432.0,412.1 432.6,419.6 433.3,427.1 434.1,415.2 435.0,403.3 435.8,416.5 436.6,429.6 437.5,425.9 438.3,422.1 439.1,424.6 440.0,427.1 441.1,420.9 442.1,414.6 443.1,420.9 444.1,427.1 445.2,421.7 446.3,416.3 447.1,416.5 448.0,416.6 448.8,421.5 449.6,426.3 450.5,418.0 451.3,409.6 452.1,414.6 453.0,419.6 453.8,416.3 454.6,413.0 455.6,417.1 456.6,421.3 457.5,423.4 458.3,425.4 459.4,418.4 460.4,411.3 461.4,420.5 462.4,429.6 463.5,425.5 464.6,421.3 465.8,422.6 466.9,423.8 467.8,426.3 468.6,428.8 469.2,419.6 469.9,410.5 470.9,417.1 471.9,423.8 472.8,422.1 473.6,420.4 474.4,422.9 475.2,425.4 476.0,421.7 476.9,418.0 477.8,420.1 478.6,422.1 479.4,415.9 480.2,409.6 481.0,414.2 481.9,418.8 482.7,421.7 483.5,424.6 484.4,425.5 485.2,426.3 486.0,423.0 486.9,419.6 487.7,420.5 488.5,421.3 489.4,414.6 490.2,408.0" fill="none" stroke="#4a4a4a" stroke-width="1.1" stroke-linejoin="round"/>
<circle cx="412.6" cy="423.8" r="0.85" fill="#c01818"/>
<circle cx="413.4" cy="427.1" r="0.85" fill="#c01818"/>
<circle cx="414.2" cy="430.4" r="0.85" fill="#c01818"/>
<circle cx="415.0" cy="417.9" r="0.85" fill="#c01818"/>
<circle cx="415.8" cy="405.5" r="0.85" fill="#c01818"/>
<circle cx="416.6" cy="414.2" r="0.85" fill="#c01818"/>
<circle cx="417.5" cy="423.0" r="0.85" fill="#c01818"/>
<circle cx="418.6" cy="408.6" r="0.85" fill="#c01818"/>
<circle cx="419.7" cy="394.3" r="0.85" fill="#c01818"/>
<circle cx="420.5" cy="401.1" r="0.85" fill="#c01818"/>
<circle cx="421.3" cy="408.0" r="0.85" fill="#c01818"/>
<circle cx="421.9" cy="414.2" r="0.85" fill="#c01818"/>
<circle cx="422.5" cy="420.4" r="0.85" fill="#c01818"/>
<circle cx="423.3" cy="420.9" r="0.85" fill="#c01818"/>
<circle cx="424.1" cy="421.3" r="0.85" fill="#c01818"/>
<circle cx="424.7" cy="426.3" r="0.85" fill="#c01818"/>
<circle cx="425.3" cy="431.3" r="0.85" fill="#c01818"/>
<circle cx="426.0" cy="427.6" r="0.85" fill="#c01818"/>
<circle cx="426.6" cy="423.8" r="0.85" fill="#c01818"/>
<circle cx="427.3" cy="423.4" r="0.85" fill="#c01818"/>
<circle cx="428.0" cy="423.0" r="0.85" fill="#c01818"/>
<circle cx="428.6" cy="427.8" r="0.85" fill="#c01818"/>
<circle cx="429.1" cy="432.6" r="0.85" fill="#c01818"/>
<circle cx="430.0" cy="427.0" r="0.85" fill="#c01818"/>
<circle cx="430.8" cy="421.3" r="0.85" fill="#c01818"/>
<circle cx="431.4" cy="416.7" r="0.85" fill="#c01818"/>
<circle cx="432.0" cy="412.1" r="0.85" fill="#c01818"/>
<circle cx="432.6" cy="419.6" r="0.85" fill="#c01818"/>
<circle cx="433.3" cy="427.1" r="0.85" fill="#c01818"/>
<circle cx="434.1" cy="415.2" r="0.85" fill="#c01818"/>
<circle cx="435.0" cy="403.3" r="0.85" fill="#c01818"/>
<circle cx="435.8" cy="416.5" r="0.85" fill="#c01818"/>
<circle cx="436.6" cy="429.6" r="0.85" fill="#c01818"/>
<circle cx="437.5" cy="425.9" r="0.85" fill="#c01818"/>
<circle cx="438.3" cy="422.1" r="0.85" fill="#c01818"/>
<circle cx="439.1" cy="424.6" r="0.85" fill="#c01818"/>
<circle cx="440.0" cy="427.1" r="0.85" fill="#c01818"/>
<circle cx="441.1" cy="420.9" r="0.85" fill="#c01818"/>
<circle cx="442.1" cy="414.6" r="0.85" fill="#c01818"/>
<circle cx="443.1" cy="420.9" r="0.85" fill="#c01818"/>
<circle cx="444.1" cy="427.1" r="0.85" fill="#c01818"/>
<circle cx="445.2" cy="421.7" r="0.85" fill="#c01818"/>
<circle cx="446.3" cy="416.3" r="0.85" fill="#c01818"/>
<circle cx="447.1" cy="416.5" r="0.85" fill="#c01818"/>
<circle cx="448.0" cy="416.6" r="0.85" fill="#c01818"/>
<circle cx="448.8" cy="421.5" r="0.85" fill="#c01818"/>
<circle cx="449.6" cy="426.3" r="0.85" fill="#c01818"/>
<circle cx="450.5" cy="418.0" r="0.85" fill="#c01818"/>
<circle cx="451.3" cy="409.6" r="0.85" fill="#c01818"/>
<circle cx="452.1" cy="414.6" r="0.85" fill="#c01818"/>
<circle cx="453.0" cy="419.6" r="0.85" fill="#c01818"/>
<circle cx="453.8" cy="416.3" r="0.85" fill="#c01818"/>
<circle cx="454.6" cy="413.0" r="0.85" fill="#c01818"/>
<circle cx="455.6" cy="417.1" r="0.85" fill="#c01818"/>
<circle cx="456.6" cy="421.3" r="0.85" fill="#c01818"/>
<circle cx="457.5" cy="423.4" r="0.85" fill="#c01818"/>
<circle cx="458.3" cy="425.4" r="0.85" fill="#c01818"/>
<circle cx="459.4" cy="418.4" r="0.85" fill="#c01818"/>
<circle cx="460.4" cy="411.3" r="0.85" fill="#c01818"/>
<circle cx="461.4" cy="420.5" r="0.85" fill="#c01818"/>
<circle cx="462.4" cy="429.6" r="0.85" fill="#c01818"/>
<circle cx="463.5" cy="425.5" r="0.85" fill="#c01818"/>
<circle cx="464.6" cy="421.3" r="0.85" fill="#c01818"/>
<circle cx="465.8" cy="422.6" r="0.85" fill="#c01818"/>
<circle cx="466.9" cy="423.8" r="0.85" fill="#c01818"/>
<circle cx="467.8" cy="426.3" r="0.85" fill="#c01818"/>
<circle cx="468.6" cy="428.8" r="0.85" fill="#c01818"/>
<circle cx="469.2" cy="419.6" r="0.85" fill="#c01818"/>
<circle cx="469.9" cy="410.5" r="0.85" fill="#c01818"/>
<circle cx="470.9" cy="417.1" r="0.85" fill="#c01818"/>
<circle cx="471.9" cy="423.8" r="0.85" fill="#c01818"/>
<circle cx="472.8" cy="422.1" r="0.85" fill="#c01818"/>
<circle cx="473.6" cy="420.4" r="0.85" fill="#c01818"/>
<circle cx="474.4" cy="422.9" r="0.85" fill="#c01818"/>
<circle cx="475.2" cy="425.4" r="0.85" fill="#c01818"/>
<circle cx="476.0" cy="421.7" r="0.85" fill="#c01818"/>
<circle cx="476.9" cy="418.0" r="0.85" fill="#c01818"/>
<circle cx="477.8" cy="420.1" r="0.85" fill="#c01818"/>
<circle cx="478.6" cy="422.1" r="0.85" fill="#c01818"/>
<circle cx="479.4" cy="415.9" r="0.85" fill="#c01818"/>
<circle cx="480.2" cy="409.6" r="0.85" fill="#c01818"/>
<circle cx="481.0" cy="414.2" r="0.85" fill="#c01818"/>
<circle cx="481.9" cy="418.8" r="0.85" fill="#c01818"/>
<circle cx="482.7" cy="421.7" r="0.85" fill="#c01818"/>
<circle cx="483.5" cy="424.6" r="0.85" fill="#c01818"/>
<circle cx="484.4" cy="425.5" r="0.85" fill="#c01818"/>
<circle cx="485.2" cy="426.3" r="0.85" fill="#c01818"/>
<circle cx="486.0" cy="423.0" r="0.85" fill="#c01818"/>
<circle cx="486.9" cy="419.6" r="0.85" fill="#c01818"/>
<circle cx="487.7" cy="420.5" r="0.85" fill="#c01818"/>
<circle cx="488.5" cy="421.3" r="0.85" fill="#c01818"/>
<circle cx="489.4" cy="414.6" r="0.85" fill="#c01818"/>
<circle cx="490.2" cy="408.0" r="0.85" fill="#c01818"/>
<text x="451.5" y="464.6" font-size="10.6" font-weight="bold" text-anchor="middle">Distance (nm)</text>
<text transform="translate(398.0,414.3) rotate(-90)" font-size="10.6" font-weight="bold" text-anchor="middle">Height (nm)</text>
<rect x="412.4" y="470.4" width="78.2" height="48.4" fill="#fff" stroke="#c4c4c4" stroke-width="0.8"/>
<text x="410.79999999999995" y="474.1" font-size="10.6" text-anchor="end">6</text>
<line x1="412.4" y1="482.6" x2="490.6" y2="482.6" stroke="#c4c4c4" stroke-width="0.7" stroke-dasharray="2,1.6"/>
<text x="410.79999999999995" y="486.1" font-size="10.6" text-anchor="end">4</text>
<line x1="412.4" y1="494.7" x2="490.6" y2="494.7" stroke="#c4c4c4" stroke-width="0.7" stroke-dasharray="2,1.6"/>
<text x="410.79999999999995" y="498.2" font-size="10.6" text-anchor="end">2</text>
<line x1="412.4" y1="506.8" x2="490.6" y2="506.8" stroke="#c4c4c4" stroke-width="0.7" stroke-dasharray="2,1.6"/>
<text x="410.79999999999995" y="510.3" font-size="10.6" text-anchor="end">0</text>
<text x="410.79999999999995" y="522.3" font-size="10.6" text-anchor="end">-2</text>
<text x="412.4" y="529.4" font-size="10.6" text-anchor="middle">0</text>
<text x="432.0" y="529.4" font-size="10.6" text-anchor="middle">250</text>
<text x="451.5" y="529.4" font-size="10.6" text-anchor="middle">500</text>
<text x="471.1" y="529.4" font-size="10.6" text-anchor="middle">750</text>
<text x="490.6" y="529.4" font-size="10.6" text-anchor="middle">1000</text>
<polyline points="412.6,500.9 413.4,504.6 414.2,508.4 415.2,495.9 416.2,483.5 417.1,490.6 418.0,497.6 418.6,499.7 419.2,501.8 419.8,498.9 420.3,496.0 421.1,496.8 422.0,497.6 422.6,503.0 423.3,508.4 424.3,500.5 425.3,492.6 426.0,499.2 426.6,505.9 427.3,502.6 428.0,499.3 428.8,504.3 429.6,509.3 430.5,507.2 431.3,505.1 432.6,498.9 433.8,492.6 434.8,501.8 435.8,510.9 436.9,501.4 438.0,491.8 439.0,498.5 440.0,505.1 441.0,502.2 442.0,499.3 442.9,494.7 443.8,490.1 444.6,493.5 445.3,496.8 446.0,501.4 446.6,505.9 447.6,492.2 448.6,478.5 449.5,483.1 450.3,487.6 451.4,498.9 452.4,510.1 453.0,508.0 453.6,505.9 454.2,503.4 454.9,500.9 456.1,491.8 457.4,482.6 458.5,495.1 459.6,507.6 460.8,496.6 461.9,485.6 463.0,498.2 464.1,510.9 465.1,504.2 466.2,497.6 467.2,504.7 468.2,511.8 469.2,505.1 470.2,498.4 471.5,505.9 472.9,513.4 474.3,504.7 475.7,496.0 476.8,498.1 477.9,500.1 478.5,498.9 479.1,497.6 480.1,503.9 481.2,510.1 482.2,510.5 483.2,510.9 484.0,502.2 484.9,493.5 485.9,500.1 486.9,506.8 487.7,506.4 488.5,505.9 489.4,507.6 490.2,509.3" fill="none" stroke="#4a4a4a" stroke-width="1.1" stroke-linejoin="round"/>
<circle cx="412.6" cy="500.9" r="0.85" fill="#c01818"/>
<circle cx="413.4" cy="504.6" r="0.85" fill="#c01818"/>
<circle cx="414.2" cy="508.4" r="0.85" fill="#c01818"/>
<circle cx="415.2" cy="495.9" r="0.85" fill="#c01818"/>
<circle cx="416.2" cy="483.5" r="0.85" fill="#c01818"/>
<circle cx="417.1" cy="490.6" r="0.85" fill="#c01818"/>
<circle cx="418.0" cy="497.6" r="0.85" fill="#c01818"/>
<circle cx="418.6" cy="499.7" r="0.85" fill="#c01818"/>
<circle cx="419.2" cy="501.8" r="0.85" fill="#c01818"/>
<circle cx="419.8" cy="498.9" r="0.85" fill="#c01818"/>
<circle cx="420.3" cy="496.0" r="0.85" fill="#c01818"/>
<circle cx="421.1" cy="496.8" r="0.85" fill="#c01818"/>
<circle cx="422.0" cy="497.6" r="0.85" fill="#c01818"/>
<circle cx="422.6" cy="503.0" r="0.85" fill="#c01818"/>
<circle cx="423.3" cy="508.4" r="0.85" fill="#c01818"/>
<circle cx="424.3" cy="500.5" r="0.85" fill="#c01818"/>
<circle cx="425.3" cy="492.6" r="0.85" fill="#c01818"/>
<circle cx="426.0" cy="499.2" r="0.85" fill="#c01818"/>
<circle cx="426.6" cy="505.9" r="0.85" fill="#c01818"/>
<circle cx="427.3" cy="502.6" r="0.85" fill="#c01818"/>
<circle cx="428.0" cy="499.3" r="0.85" fill="#c01818"/>
<circle cx="428.8" cy="504.3" r="0.85" fill="#c01818"/>
<circle cx="429.6" cy="509.3" r="0.85" fill="#c01818"/>
<circle cx="430.5" cy="507.2" r="0.85" fill="#c01818"/>
<circle cx="431.3" cy="505.1" r="0.85" fill="#c01818"/>
<circle cx="432.6" cy="498.9" r="0.85" fill="#c01818"/>
<circle cx="433.8" cy="492.6" r="0.85" fill="#c01818"/>
<circle cx="434.8" cy="501.8" r="0.85" fill="#c01818"/>
<circle cx="435.8" cy="510.9" r="0.85" fill="#c01818"/>
<circle cx="436.9" cy="501.4" r="0.85" fill="#c01818"/>
<circle cx="438.0" cy="491.8" r="0.85" fill="#c01818"/>
<circle cx="439.0" cy="498.5" r="0.85" fill="#c01818"/>
<circle cx="440.0" cy="505.1" r="0.85" fill="#c01818"/>
<circle cx="441.0" cy="502.2" r="0.85" fill="#c01818"/>
<circle cx="442.0" cy="499.3" r="0.85" fill="#c01818"/>
<circle cx="442.9" cy="494.7" r="0.85" fill="#c01818"/>
<circle cx="443.8" cy="490.1" r="0.85" fill="#c01818"/>
<circle cx="444.6" cy="493.5" r="0.85" fill="#c01818"/>
<circle cx="445.3" cy="496.8" r="0.85" fill="#c01818"/>
<circle cx="446.0" cy="501.4" r="0.85" fill="#c01818"/>
<circle cx="446.6" cy="505.9" r="0.85" fill="#c01818"/>
<circle cx="447.6" cy="492.2" r="0.85" fill="#c01818"/>
<circle cx="448.6" cy="478.5" r="0.85" fill="#c01818"/>
<circle cx="449.5" cy="483.1" r="0.85" fill="#c01818"/>
<circle cx="450.3" cy="487.6" r="0.85" fill="#c01818"/>
<circle cx="451.4" cy="498.9" r="0.85" fill="#c01818"/>
<circle cx="452.4" cy="510.1" r="0.85" fill="#c01818"/>
<circle cx="453.0" cy="508.0" r="0.85" fill="#c01818"/>
<circle cx="453.6" cy="505.9" r="0.85" fill="#c01818"/>
<circle cx="454.2" cy="503.4" r="0.85" fill="#c01818"/>
<circle cx="454.9" cy="500.9" r="0.85" fill="#c01818"/>
<circle cx="456.1" cy="491.8" r="0.85" fill="#c01818"/>
<circle cx="457.4" cy="482.6" r="0.85" fill="#c01818"/>
<circle cx="458.5" cy="495.1" r="0.85" fill="#c01818"/>
<circle cx="459.6" cy="507.6" r="0.85" fill="#c01818"/>
<circle cx="460.8" cy="496.6" r="0.85" fill="#c01818"/>
<circle cx="461.9" cy="485.6" r="0.85" fill="#c01818"/>
<circle cx="463.0" cy="498.2" r="0.85" fill="#c01818"/>
<circle cx="464.1" cy="510.9" r="0.85" fill="#c01818"/>
<circle cx="465.1" cy="504.2" r="0.85" fill="#c01818"/>
<circle cx="466.2" cy="497.6" r="0.85" fill="#c01818"/>
<circle cx="467.2" cy="504.7" r="0.85" fill="#c01818"/>
<circle cx="468.2" cy="511.8" r="0.85" fill="#c01818"/>
<circle cx="469.2" cy="505.1" r="0.85" fill="#c01818"/>
<circle cx="470.2" cy="498.4" r="0.85" fill="#c01818"/>
<circle cx="471.5" cy="505.9" r="0.85" fill="#c01818"/>
<circle cx="472.9" cy="513.4" r="0.85" fill="#c01818"/>
<circle cx="474.3" cy="504.7" r="0.85" fill="#c01818"/>
<circle cx="475.7" cy="496.0" r="0.85" fill="#c01818"/>
<circle cx="476.8" cy="498.1" r="0.85" fill="#c01818"/>
<circle cx="477.9" cy="500.1" r="0.85" fill="#c01818"/>
<circle cx="478.5" cy="498.9" r="0.85" fill="#c01818"/>
<circle cx="479.1" cy="497.6" r="0.85" fill="#c01818"/>
<circle cx="480.1" cy="503.9" r="0.85" fill="#c01818"/>
<circle cx="481.2" cy="510.1" r="0.85" fill="#c01818"/>
<circle cx="482.2" cy="510.5" r="0.85" fill="#c01818"/>
<circle cx="483.2" cy="510.9" r="0.85" fill="#c01818"/>
<circle cx="484.0" cy="502.2" r="0.85" fill="#c01818"/>
<circle cx="484.9" cy="493.5" r="0.85" fill="#c01818"/>
<circle cx="485.9" cy="500.1" r="0.85" fill="#c01818"/>
<circle cx="486.9" cy="506.8" r="0.85" fill="#c01818"/>
<circle cx="487.7" cy="506.4" r="0.85" fill="#c01818"/>
<circle cx="488.5" cy="505.9" r="0.85" fill="#c01818"/>
<circle cx="489.4" cy="507.6" r="0.85" fill="#c01818"/>
<circle cx="490.2" cy="509.3" r="0.85" fill="#c01818"/>
<text x="451.5" y="541.6" font-size="10.6" font-weight="bold" text-anchor="middle">Distance (nm)</text>
<text transform="translate(398.0,494.1) rotate(-90)" font-size="10.6" font-weight="bold" text-anchor="middle">Height (nm)</text>
<path d="M64.3 451.6 L64.3 422 L134.5 422" stroke="#e8b010" stroke-width="1.3" fill="none"/>
<path d="M64.3 478.3 L64.3 498.3 L134.5 498.3" stroke="#e8b010" stroke-width="1.3" fill="none"/>
<path d="M319.3 419.6 L319.3 430.7 L385.8 430.7" stroke="#e8b010" stroke-width="1.3" fill="none"/>
<path d="M319.3 453.3 L319.3 489.3 L385.8 489.3" stroke="#e8b010" stroke-width="1.3" fill="none"/>
<circle cx="133.6" cy="422" r="1.3" fill="#e8b010"/>
<circle cx="133.6" cy="498.3" r="1.3" fill="#e8b010"/>
<circle cx="384.9" cy="430.7" r="1.3" fill="#e8b010"/>
<circle cx="384.9" cy="489.3" r="1.3" fill="#e8b010"/>
<rect x="35.0" y="451.5" width="55.8" height="6.6" rx="1.5" fill="none" stroke="#d8d0d0" stroke-width="0.6" stroke-dasharray="1.4,0.9"/>
<line x1="39.2" y1="454.8" x2="87.6" y2="454.8" stroke="#fff" stroke-width="2"/>
<rect x="37.8" y="472.2" width="52.7" height="6.6" rx="1.5" fill="none" stroke="#d8d0d0" stroke-width="0.6" stroke-dasharray="1.4,0.9"/>
<line x1="42" y1="475.5" x2="86.2" y2="475.5" stroke="#fff" stroke-width="2"/>
<rect x="288.0" y="413.5" width="63.6" height="6.6" rx="1.5" fill="none" stroke="#d8d0d0" stroke-width="0.6" stroke-dasharray="1.4,0.9"/>
<line x1="290.6" y1="416.8" x2="349.4" y2="416.8" stroke="#fff" stroke-width="2"/>
<rect x="288.0" y="447.2" width="63.6" height="6.6" rx="1.5" fill="none" stroke="#d8d0d0" stroke-width="0.6" stroke-dasharray="1.4,0.9"/>
<line x1="290.6" y1="450.5" x2="349.4" y2="450.5" stroke="#fff" stroke-width="2"/></svg></body></html>
